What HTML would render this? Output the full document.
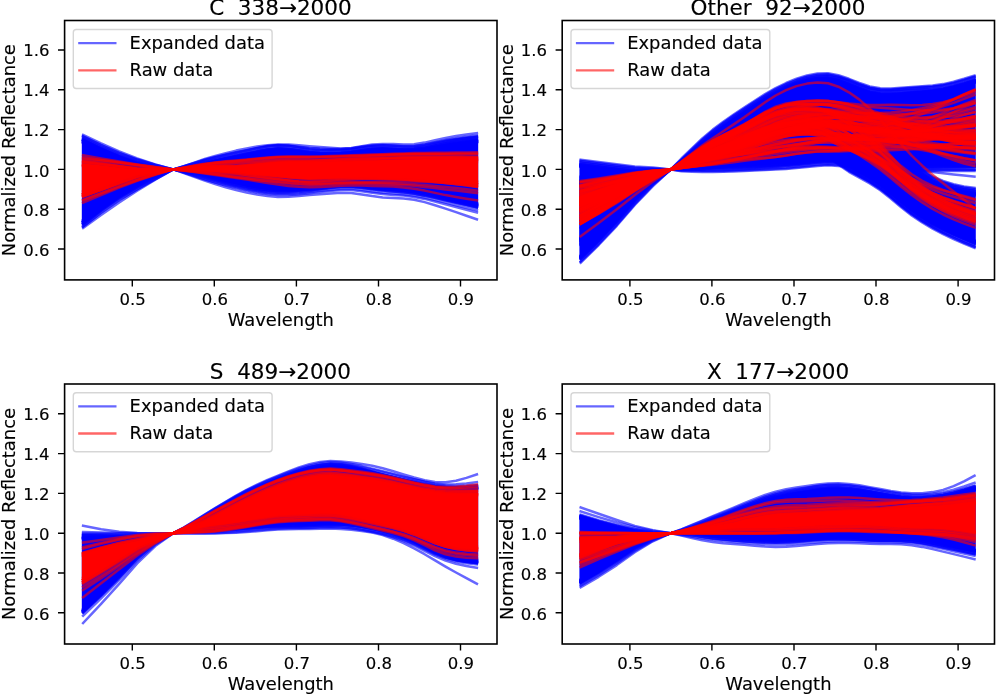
<!DOCTYPE html>
<html lang="en"><head><meta charset="utf-8"><title>Expanded vs raw data</title>
<style>html,body{margin:0;padding:0;background:#fff}svg{display:block}</style></head>
<body>
<svg width="996" height="694" viewBox="0 0 996 694" font-family="'DejaVu Sans', 'Liberation Sans', sans-serif" fill="#000" stroke="#000" stroke-width="0.15">
<defs><filter id="soft" x="0" y="0" width="100%" height="100%" filterUnits="userSpaceOnUse" color-interpolation-filters="sRGB"><feGaussianBlur stdDeviation="0.35"/></filter></defs>
<rect width="996" height="694" fill="#fff" stroke="none"/>
<g>
<g fill="none" stroke-width="2.5" stroke-linejoin="round" stroke-linecap="square" filter="url(#soft)">
<polygon points="81.8,140.0 101.1,148.9 119.2,156.8 137.2,163.1 155.3,168.2 173.3,169.4 183.8,168.0 194.3,166.5 204.7,163.4 215.2,160.7 225.7,158.3 236.1,156.2 246.6,154.0 257.1,151.7 267.5,149.8 278.0,148.7 288.5,149.2 298.9,150.7 309.4,152.2 319.9,152.8 330.4,152.9 340.8,152.8 351.3,151.9 361.8,150.5 372.2,149.1 382.7,148.7 393.2,149.3 403.6,149.9 414.1,149.7 424.6,148.3 435.0,146.2 445.5,144.1 456.0,142.4 466.4,141.1 478.2,140.0 478.2,206.0 466.4,203.5 456.0,201.0 445.5,198.6 435.0,196.1 424.6,193.8 414.1,191.9 403.6,190.6 393.2,189.7 382.7,188.7 372.2,187.5 361.8,186.0 351.3,185.0 340.8,185.1 330.4,186.2 319.9,187.4 309.4,188.7 298.9,189.7 288.5,190.4 278.0,190.4 267.5,189.5 257.1,188.0 246.6,186.0 236.1,183.8 225.7,181.3 215.2,178.6 204.7,175.6 194.3,172.3 183.8,170.8 173.3,169.4 155.3,175.7 137.2,185.5 119.2,196.1 101.1,208.8 81.8,222.9" fill="#00f" stroke="none"/>
<g stroke="#00f" stroke-opacity="0.6">
<path d="M83.1,225.4L101.1,210.8L119.2,198.1L137.2,187.7L155.3,178.1L173.3,169.4L183.8,166.8L194.3,164.0L204.7,160.8L215.2,157.9L225.7,155.3L236.1,152.9L246.6,150.7L257.1,148.4L267.5,146.4L278.0,145.4L288.5,145.9L298.9,147.5L309.4,149.2L319.9,150.0L330.4,150.3L340.8,150.4L351.3,149.8L361.8,148.5L372.2,147.3L382.7,147.0L393.2,147.6L403.6,148.1L414.1,147.9L424.6,146.3L435.0,144.0L445.5,141.7L456.0,139.8L466.4,138.2L476.9,136.9"/>
<path d="M83.1,223.7L101.1,209.4L119.2,196.8L137.2,186.6L155.3,177.1L173.3,169.4L183.8,167.3L194.3,165.1L204.7,162.2L215.2,159.5L225.7,157.2L236.1,155.1L246.6,152.8L257.1,150.4L267.5,148.3L278.0,147.1L288.5,147.5L298.9,148.8L309.4,150.1L319.9,150.6L330.4,150.5L340.8,150.2L351.3,149.3L361.8,147.7L372.2,146.3L382.7,145.8L393.2,146.3L403.6,146.8L414.1,146.7L424.6,145.2L435.0,143.1L445.5,141.0L456.0,139.4L466.4,138.2L476.9,137.1"/>
<path d="M83.1,224.0L101.1,210.2L119.2,197.7L137.2,187.1L155.3,177.0L173.3,169.4L183.8,167.4L194.3,165.2L204.7,162.0L215.2,159.3L225.7,157.0L236.1,155.0L246.6,153.0L257.1,150.9L267.5,149.2L278.0,148.3L288.5,149.0L298.9,150.6L309.4,152.1L319.9,152.8L330.4,152.9L340.8,152.7L351.3,151.8L361.8,150.3L372.2,148.8L382.7,148.2L393.2,148.6L403.6,149.0L414.1,148.6L424.6,147.0L435.0,144.7L445.5,142.4L456.0,140.6L466.4,139.2L476.9,138.0"/>
<path d="M83.1,224.3L101.1,210.1L119.2,197.2L137.2,186.5L155.3,176.5L173.3,169.4L183.8,167.7L194.3,165.9L204.7,162.8L215.2,160.1L225.7,157.9L236.1,155.9L246.6,153.8L257.1,151.6L267.5,149.7L278.0,148.7L288.5,149.2L298.9,150.7L309.4,152.2L319.9,152.8L330.4,152.8L340.8,152.7L351.3,151.8L361.8,150.3L372.2,148.8L382.7,148.4L393.2,148.8L403.6,149.4L414.1,149.1L424.6,147.6L435.0,145.4L445.5,143.2L456.0,141.5L466.4,140.1L476.9,138.8"/>
<path d="M83.1,223.5L101.1,209.8L119.2,197.2L137.2,186.4L155.3,176.2L173.3,169.4L183.8,167.9L194.3,166.3L204.7,163.4L215.2,160.8L225.7,158.7L236.1,156.7L246.6,154.4L257.1,152.0L267.5,149.7L278.0,148.4L288.5,148.6L298.9,149.8L309.4,151.1L319.9,151.6L330.4,151.6L340.8,151.5L351.3,150.8L361.8,149.6L372.2,148.5L382.7,148.4L393.2,149.2L403.6,150.1L414.1,150.1L424.6,148.8L435.0,146.7L445.5,144.6L456.0,142.8L466.4,141.3L476.9,139.9"/>
<path d="M83.1,222.8L101.1,208.9L119.2,196.5L137.2,185.9L155.3,175.9L173.3,169.4L183.8,168.0L194.3,166.4L204.7,163.3L215.2,160.6L225.7,158.4L236.1,156.4L246.6,154.4L257.1,152.2L267.5,150.3L278.0,149.4L288.5,149.9L298.9,151.3L309.4,152.7L319.9,153.3L330.4,153.2L340.8,152.9L351.3,152.0L361.8,150.3L372.2,148.8L382.7,148.3L393.2,148.8L403.6,149.3L414.1,149.1L424.6,147.7L435.0,145.6L445.5,143.6L456.0,142.1L466.4,140.9L476.9,139.9"/>
<path d="M83.1,223.7L101.1,209.4L119.2,196.4L137.2,185.6L155.3,175.5L173.3,169.4L183.8,168.1L194.3,166.9L204.7,163.9L215.2,161.3L225.7,159.2L236.1,157.2L246.6,155.2L257.1,152.9L267.5,150.9L278.0,149.9L288.5,150.3L298.9,151.7L309.4,153.1L319.9,153.7L330.4,153.6L340.8,153.3L351.3,152.3L361.8,150.7L372.2,149.2L382.7,148.6L393.2,149.0L403.6,149.5L414.1,149.2L424.6,147.7L435.0,145.5L445.5,143.3L456.0,141.6L466.4,140.3L476.9,139.2"/>
<path d="M83.1,221.9L101.1,207.8L119.2,195.3L137.2,185.0L155.3,175.2L173.3,169.4L183.8,168.2L194.3,166.9L204.7,163.7L215.2,160.8L225.7,158.4L236.1,156.2L246.6,154.1L257.1,151.9L267.5,150.0L278.0,149.1L288.5,149.7L298.9,151.3L309.4,152.9L319.9,153.6L330.4,153.8L340.8,153.7L351.3,153.0L361.8,151.5L372.2,150.2L382.7,149.8L393.2,150.2L403.6,150.8L414.1,150.6L424.6,149.0L435.0,146.8L445.5,144.6L456.0,142.8L466.4,141.4L476.9,140.1"/>
<path d="M83.1,221.2L101.1,206.8L119.2,194.4L137.2,184.3L155.3,174.8L173.3,169.4L183.8,168.4L194.3,167.2L204.7,163.9L215.2,160.9L225.7,158.3L236.1,155.8L246.6,153.5L257.1,151.1L267.5,149.1L278.0,148.1L288.5,148.7L298.9,150.3L309.4,152.0L319.9,152.9L330.4,153.2L340.8,153.3L351.3,152.8L361.8,151.6L372.2,150.5L382.7,150.3L393.2,151.0L403.6,151.8L414.1,151.7L424.6,150.3L435.0,148.1L445.5,145.9L456.0,144.1L466.4,142.5L476.9,141.1"/>
<path d="M83.1,221.3L101.1,207.2L119.2,194.9L137.2,184.6L155.3,174.8L173.3,169.4L183.8,168.4L194.3,167.3L204.7,164.1L215.2,161.4L225.7,159.2L236.1,157.2L246.6,155.2L257.1,153.1L267.5,151.3L278.0,150.3L288.5,150.8L298.9,152.2L309.4,153.5L319.9,154.0L330.4,153.9L340.8,153.5L351.3,152.5L361.8,150.9L372.2,149.5L382.7,149.1L393.2,149.7L403.6,150.4L414.1,150.5L424.6,149.2L435.0,147.3L445.5,145.4L456.0,143.9L466.4,142.7L476.9,141.6"/>
<path d="M83.1,221.7L101.1,207.7L119.2,195.2L137.2,184.7L155.3,174.7L173.3,169.4L183.8,168.5L194.3,167.5L204.7,164.3L215.2,161.5L225.7,159.1L236.1,157.0L246.6,154.9L257.1,152.8L267.5,150.9L278.0,150.0L288.5,150.6L298.9,152.2L309.4,153.7L319.9,154.5L330.4,154.6L340.8,154.5L351.3,153.7L361.8,152.2L372.2,150.8L382.7,150.3L393.2,150.8L403.6,151.3L414.1,151.1L424.6,149.5L435.0,147.3L445.5,145.1L456.0,143.3L466.4,141.9L476.9,140.6"/>
<path d="M83.1,221.4L101.1,206.9L119.2,194.1L137.2,183.6L155.3,174.0L173.3,169.4L183.8,168.8L194.3,168.3L204.7,165.2L215.2,162.5L225.7,160.1L236.1,157.9L246.6,155.5L257.1,153.0L267.5,150.8L278.0,149.6L288.5,149.9L298.9,151.3L309.4,152.6L319.9,153.2L330.4,153.2L340.8,153.1L351.3,152.3L361.8,150.9L372.2,149.7L382.7,149.4L393.2,150.1L403.6,151.0L414.1,151.0L424.6,149.8L435.0,147.9L445.5,146.0L456.0,144.5L466.4,143.3L476.9,142.3"/>
<path d="M83.1,222.7L101.1,208.6L119.2,195.6L137.2,184.5L155.3,174.3L173.3,169.4L183.8,168.8L194.3,168.3L204.7,165.3L215.2,162.9L225.7,160.9L236.1,159.0L246.6,156.9L257.1,154.6L267.5,152.6L278.0,151.4L288.5,151.7L298.9,152.9L309.4,154.1L319.9,154.4L330.4,154.2L340.8,153.7L351.3,152.7L361.8,151.0L372.2,149.4L382.7,148.9L393.2,149.4L403.6,150.1L414.1,150.0L424.6,148.7L435.0,146.8L445.5,145.0L456.0,143.6L466.4,142.6L476.9,141.7"/>
<path d="M83.1,221.4L101.1,207.4L119.2,194.8L137.2,184.0L155.3,174.0L173.3,169.4L183.8,168.9L194.3,168.4L204.7,165.3L215.2,162.7L225.7,160.4L236.1,158.2L246.6,156.0L257.1,153.6L267.5,151.5L278.0,150.3L288.5,150.7L298.9,152.1L309.4,153.5L319.9,154.1L330.4,154.2L340.8,154.1L351.3,153.5L361.8,152.1L372.2,150.9L382.7,150.6L393.2,151.3L403.6,152.0L414.1,151.9L424.6,150.5L435.0,148.3L445.5,146.1L456.0,144.3L466.4,142.9L476.9,141.6"/>
<path d="M83.1,220.3L101.1,206.1L119.2,193.6L137.2,183.2L155.3,173.6L173.3,169.4L183.8,169.0L194.3,168.6L204.7,165.5L215.2,162.8L225.7,160.5L236.1,158.3L246.6,156.0L257.1,153.7L267.5,151.6L278.0,150.5L288.5,150.9L298.9,152.3L309.4,153.7L319.9,154.3L330.4,154.3L340.8,154.1L351.3,153.2L361.8,151.7L372.2,150.3L382.7,149.9L393.2,150.5L403.6,151.1L414.1,151.0L424.6,149.6L435.0,147.5L445.5,145.5L456.0,143.9L466.4,142.6L476.9,141.5"/>
<path d="M83.1,219.9L101.1,205.5L119.2,193.0L137.2,182.8L155.3,173.4L173.3,169.4L183.8,169.0L194.3,168.6L204.7,165.3L215.2,162.4L225.7,159.8L236.1,157.3L246.6,155.0L257.1,152.6L267.5,150.6L278.0,149.6L288.5,150.2L298.9,151.9L309.4,153.6L319.9,154.4L330.4,154.8L340.8,154.9L351.3,154.4L361.8,153.1L372.2,152.0L382.7,151.8L393.2,152.5L403.6,153.2L414.1,153.1L424.6,151.6L435.0,149.4L445.5,147.1L456.0,145.2L466.4,143.7L476.9,142.3"/>
<path d="M83.1,137.4L101.1,146.3L119.2,154.1L137.2,160.5L155.3,165.9L173.3,169.4L183.8,171.9L194.3,174.7L204.7,178.1L215.2,181.1L225.7,183.9L236.1,186.4L246.6,188.6L257.1,190.5L267.5,192.0L278.0,192.8L288.5,192.8L298.9,192.0L309.4,190.9L319.9,189.6L330.4,188.2L340.8,187.1L351.3,187.0L361.8,187.9L372.2,189.3L382.7,190.5L393.2,191.4L403.6,192.3L414.1,193.6L424.6,195.4L435.0,197.7L445.5,200.2L456.0,202.7L466.4,205.1L476.9,207.6"/>
<path d="M83.1,138.9L101.1,147.9L119.2,155.6L137.2,161.6L155.3,166.7L173.3,169.4L183.8,171.5L194.3,174.0L204.7,177.3L215.2,180.3L225.7,183.0L236.1,185.5L246.6,187.6L257.1,189.4L267.5,190.8L278.0,191.6L288.5,191.5L298.9,190.8L309.4,189.7L319.9,188.6L330.4,187.4L340.8,186.4L351.3,186.5L361.8,187.6L372.2,189.2L382.7,190.6L393.2,191.6L403.6,192.5L414.1,193.8L424.6,195.7L435.0,197.9L445.5,200.3L456.0,202.6L466.4,204.9L476.9,207.3"/>
<path d="M83.1,138.3L101.1,147.3L119.2,155.2L137.2,161.6L155.3,166.9L173.3,169.4L183.8,171.4L194.3,173.5L204.7,176.7L215.2,179.7L225.7,182.3L236.1,184.7L246.6,186.9L257.1,188.8L267.5,190.3L278.0,191.2L288.5,191.2L298.9,190.6L309.4,189.6L319.9,188.4L330.4,187.2L340.8,186.2L351.3,186.2L361.8,187.2L372.2,188.8L382.7,190.1L393.2,191.1L403.6,192.1L414.1,193.4L424.6,195.4L435.0,197.8L445.5,200.2L456.0,202.7L466.4,205.2L476.9,207.7"/>
<path d="M83.1,140.4L101.1,149.2L119.2,156.6L137.2,162.6L155.3,167.5L173.3,169.4L183.8,171.2L194.3,173.3L204.7,176.7L215.2,179.9L225.7,182.8L236.1,185.6L246.6,187.9L257.1,189.9L267.5,191.5L278.0,192.4L288.5,192.3L298.9,191.6L309.4,190.4L319.9,189.0L330.4,187.6L340.8,186.3L351.3,186.1L361.8,186.9L372.2,188.1L382.7,189.2L393.2,189.9L403.6,190.7L414.1,191.8L424.6,193.6L435.0,195.8L445.5,198.2L456.0,200.6L466.4,203.0L476.9,205.5"/>
<path d="M83.1,140.7L101.1,149.0L119.2,156.1L137.2,162.1L155.3,167.4L173.3,169.4L183.8,171.1L194.3,172.9L204.7,176.0L215.2,178.7L225.7,181.1L236.1,183.1L246.6,185.1L257.1,187.0L267.5,188.7L278.0,189.9L288.5,190.3L298.9,190.1L309.4,189.5L319.9,188.7L330.4,187.8L340.8,186.9L351.3,186.8L361.8,187.7L372.2,188.8L382.7,189.7L393.2,190.1L403.6,190.6L414.1,191.4L424.6,193.0L435.0,195.2L445.5,197.7L456.0,200.3L466.4,203.1L476.9,206.0"/>
<path d="M83.1,140.1L101.1,149.3L119.2,157.3L137.2,163.4L155.3,168.3L173.3,169.4L183.8,170.8L194.3,172.5L204.7,175.9L215.2,179.0L225.7,181.9L236.1,184.5L246.6,186.8L257.1,188.7L267.5,190.1L278.0,190.8L288.5,190.6L298.9,189.7L309.4,188.4L319.9,187.0L330.4,185.6L340.8,184.5L351.3,184.4L361.8,185.5L372.2,187.0L382.7,188.4L393.2,189.5L403.6,190.7L414.1,192.2L424.6,194.3L435.0,196.8L445.5,199.3L456.0,201.9L466.4,204.3L476.9,206.7"/>
<path d="M83.1,139.4L101.1,148.6L119.2,156.7L137.2,163.1L155.3,168.4L173.3,169.4L183.8,170.7L194.3,172.0L204.7,175.1L215.2,178.0L225.7,180.5L236.1,182.9L246.6,185.0L257.1,187.0L267.5,188.6L278.0,189.6L288.5,189.7L298.9,189.1L309.4,188.1L319.9,187.0L330.4,185.9L340.8,184.9L351.3,185.0L361.8,186.1L372.2,187.7L382.7,189.1L393.2,190.1L403.6,191.1L414.1,192.5L424.6,194.4L435.0,196.8L445.5,199.2L456.0,201.7L466.4,204.1L476.9,206.6"/>
<path d="M83.1,139.6L101.1,148.5L119.2,156.7L137.2,163.3L155.3,168.8L173.3,169.4L183.8,170.5L194.3,171.6L204.7,174.6L215.2,177.5L225.7,180.0L236.1,182.5L246.6,184.8L257.1,187.0L267.5,188.8L278.0,190.0L288.5,190.2L298.9,189.8L309.4,188.9L319.9,187.8L330.4,186.6L340.8,185.5L351.3,185.4L361.8,186.2L372.2,187.5L382.7,188.5L393.2,189.2L403.6,189.8L414.1,190.9L424.6,192.6L435.0,194.8L445.5,197.1L456.0,199.6L466.4,202.1L476.9,204.7"/>
<path d="M83.1,139.8L101.1,148.6L119.2,156.5L137.2,163.1L155.3,168.7L173.3,169.4L183.8,170.5L194.3,171.9L204.7,175.2L215.2,178.3L225.7,181.0L236.1,183.4L246.6,185.4L257.1,187.2L267.5,188.6L278.0,189.3L288.5,189.1L298.9,188.3L309.4,187.1L319.9,185.7L330.4,184.3L340.8,183.2L351.3,183.0L361.8,184.0L372.2,185.4L382.7,186.7L393.2,187.6L403.6,188.6L414.1,190.0L424.6,192.0L435.0,194.4L445.5,197.0L456.0,199.7L466.4,202.3L476.9,205.0"/>
<path d="M83.1,140.3L101.1,149.7L119.2,158.0L137.2,164.3L155.3,169.4L173.3,169.4L183.8,170.3L194.3,171.3L204.7,174.6L215.2,177.7L225.7,180.7L236.1,183.4L246.6,185.8L257.1,187.9L267.5,189.5L278.0,190.3L288.5,190.2L298.9,189.3L309.4,188.0L319.9,186.5L330.4,184.9L340.8,183.7L351.3,183.4L361.8,184.3L372.2,185.7L382.7,187.0L393.2,188.1L403.6,189.2L414.1,190.8L424.6,192.9L435.0,195.5L445.5,198.2L456.0,200.8L466.4,203.4L476.9,205.9"/>
<path d="M83.1,141.6L101.1,150.6L119.2,158.4L137.2,164.5L155.3,169.5L173.3,169.4L183.8,170.2L194.3,171.1L204.7,174.4L215.2,177.5L225.7,180.3L236.1,182.9L246.6,185.2L257.1,187.2L267.5,188.8L278.0,189.7L288.5,189.7L298.9,189.0L309.4,187.9L319.9,186.6L330.4,185.2L340.8,184.1L351.3,183.9L361.8,184.9L372.2,186.2L382.7,187.4L393.2,188.2L403.6,189.1L414.1,190.3L424.6,192.2L435.0,194.5L445.5,196.9L456.0,199.4L466.4,201.9L476.9,204.4"/>
<path d="M83.1,141.8L101.1,150.7L119.2,158.4L137.2,164.5L155.3,169.7L173.3,169.4L183.8,170.1L194.3,171.0L204.7,174.4L215.2,177.5L225.7,180.3L236.1,182.9L246.6,185.1L257.1,187.1L267.5,188.6L278.0,189.4L288.5,189.4L298.9,188.6L309.4,187.5L319.9,186.2L330.4,184.8L340.8,183.6L351.3,183.5L361.8,184.4L372.2,185.8L382.7,186.9L393.2,187.8L403.6,188.7L414.1,189.9L424.6,191.8L435.0,194.1L445.5,196.6L456.0,199.1L466.4,201.6L476.9,204.1"/>
<path d="M83.1,142.6L101.1,151.7L119.2,159.3L137.2,165.1L155.3,169.9L173.3,169.4L183.8,170.1L194.3,171.1L204.7,174.6L215.2,177.8L225.7,180.8L236.1,183.4L246.6,185.6L257.1,187.3L267.5,188.6L278.0,189.2L288.5,188.9L298.9,187.8L309.4,186.5L319.9,185.0L330.4,183.5L340.8,182.3L351.3,182.2L361.8,183.3L372.2,184.9L382.7,186.4L393.2,187.6L403.6,188.9L414.1,190.5L424.6,192.8L435.0,195.4L445.5,198.1L456.0,200.7L466.4,203.2L476.9,205.7"/>
<path d="M83.1,142.2L101.1,151.2L119.2,158.9L137.2,164.9L155.3,170.0L173.3,169.4L183.8,169.9L194.3,170.7L204.7,174.0L215.2,177.1L225.7,179.9L236.1,182.4L246.6,184.5L257.1,186.4L267.5,187.8L278.0,188.6L288.5,188.5L298.9,187.7L309.4,186.5L319.9,185.2L330.4,183.9L340.8,182.8L351.3,182.8L361.8,183.9L372.2,185.4L382.7,186.8L393.2,187.8L403.6,188.9L414.1,190.3L424.6,192.3L435.0,194.7L445.5,197.2L456.0,199.8L466.4,202.2L476.9,204.7"/>
<path d="M83.1,141.5L101.1,150.3L119.2,158.3L137.2,164.7L155.3,170.1L173.3,169.4L183.8,169.9L194.3,170.3L204.7,173.5L215.2,176.4L225.7,179.0L236.1,181.4L246.6,183.5L257.1,185.5L267.5,187.2L278.0,188.1L288.5,188.2L298.9,187.7L309.4,186.7L319.9,185.6L330.4,184.5L340.8,183.5L351.3,183.6L361.8,184.6L372.2,186.1L382.7,187.4L393.2,188.2L403.6,189.1L414.1,190.3L424.6,192.1L435.0,194.3L445.5,196.6L456.0,199.0L466.4,201.3L476.9,203.7"/>
<path d="M83.1,142.9L101.1,152.0L119.2,159.8L137.2,165.7L155.3,170.6L173.3,169.4L183.8,169.7L194.3,170.1L204.7,173.4L215.2,176.5L225.7,179.4L236.1,182.1L246.6,184.5L257.1,186.7L267.5,188.3L278.0,189.3L288.5,189.3L298.9,188.7L309.4,187.5L319.9,186.2L330.4,184.8L340.8,183.6L351.3,183.4L361.8,184.2L372.2,185.5L382.7,186.5L393.2,187.2L403.6,188.0L414.1,189.1L424.6,190.9L435.0,193.1L445.5,195.5L456.0,197.9L466.4,200.4L476.9,202.9"/>
<path d="M83.1,136.5L101.1,145.4L119.2,153.3L137.2,159.6L155.3,164.9L173.3,169.4L183.8,166.4L194.3,163.1L204.7,160.0L215.2,157.2L225.7,154.9L236.1,152.7L246.6,150.5L257.1,148.3L267.5,146.3L278.0,145.3L288.5,145.8L298.9,147.2L309.4,148.6L319.9,149.3L330.4,149.4L340.8,149.3L351.3,148.6L361.8,147.1L372.2,145.7L382.7,145.3L393.2,145.8L403.6,146.4L414.1,146.3L424.6,144.8L435.0,142.7L445.5,140.6L456.0,138.9L466.4,137.5L476.9,136.4"/>
<path d="M83.1,136.2L101.1,144.9L119.2,152.7L137.2,159.3L155.3,164.7L173.3,169.4L183.8,166.3L194.3,163.0L204.7,159.8L215.2,156.9L225.7,154.5L236.1,152.3L246.6,150.2L257.1,148.0L267.5,146.1L278.0,145.1L288.5,145.5L298.9,146.7L309.4,147.9L319.9,148.6L330.4,148.9L340.8,149.0L351.3,148.4L361.8,146.8L372.2,145.4L382.7,144.9L393.2,145.4L403.6,146.0L414.1,145.9L424.6,144.4L435.0,142.2L445.5,140.0L456.0,138.3L466.4,136.8L476.9,135.5"/>
<path d="M83.1,134.8L101.1,143.4L119.2,151.3L137.2,158.4L155.3,164.4L173.3,169.4L183.8,166.1L194.3,162.6L204.7,159.0L215.2,155.9L225.7,153.1L236.1,150.6L246.6,148.5L257.1,146.6L267.5,145.2L278.0,144.4L288.5,144.6L298.9,145.3L309.4,146.3L319.9,147.1L330.4,147.8L340.8,148.4L351.3,147.9L361.8,146.3L372.2,144.6L382.7,143.9L393.2,144.1L403.6,144.5L414.1,144.2L424.6,142.6L435.0,140.2L445.5,137.9L456.0,136.1L466.4,134.6L476.9,133.2"/>
<path d="M83.1,226.4L101.1,212.4L119.2,199.7L137.2,189.1L155.3,179.1L173.3,169.4L183.8,172.5L194.3,175.8L204.7,179.1L215.2,182.2L225.7,184.9L236.1,187.4L246.6,189.7L257.1,191.6L267.5,193.2L278.0,194.1L288.5,194.0L298.9,193.4L309.4,192.3L319.9,191.1L330.4,189.9L340.8,188.9L351.3,188.8L361.8,189.9L372.2,191.4L382.7,192.7L393.2,193.6L403.6,194.5L414.1,195.8L424.6,197.7L435.0,200.1L445.5,202.6L456.0,205.2L466.4,207.8L476.9,210.3"/>
<path d="M83.1,226.7L101.1,212.8L119.2,200.3L137.2,189.4L155.3,179.2L173.3,169.4L183.8,172.6L194.3,176.0L204.7,179.5L215.2,182.6L225.7,185.5L236.1,188.1L246.6,190.4L257.1,192.5L267.5,194.0L278.0,194.9L288.5,194.9L298.9,194.2L309.4,193.2L319.9,192.1L330.4,191.0L340.8,190.1L351.3,190.1L361.8,191.3L372.2,192.8L382.7,194.1L393.2,194.9L403.6,195.6L414.1,196.9L424.6,198.9L435.0,201.5L445.5,204.2L456.0,207.0L466.4,209.8L476.9,212.5"/>
<path d="M83.1,227.9L101.1,215.0L119.2,202.5L137.2,190.8L155.3,179.7L173.3,169.4L183.8,173.0L194.3,176.8L204.7,180.6L215.2,184.1L225.7,187.3L236.1,190.1L246.6,192.5L257.1,194.6L267.5,196.1L278.0,197.0L288.5,196.8L298.9,196.1L309.4,195.1L319.9,194.3L330.4,193.5L340.8,192.7L351.3,192.9L361.8,194.4L372.2,196.1L382.7,197.4L393.2,198.0L403.6,198.6L414.1,199.8L424.6,202.1L435.0,205.2L445.5,208.6L456.0,212.1L466.4,215.7L476.9,219.3"/>
</g>
<polygon points="81.8,163.6 101.1,165.3 119.2,167.4 137.2,169.6 155.3,169.5 173.3,169.4 183.8,168.6 194.3,167.7 204.7,167.0 215.2,166.5 225.7,166.2 236.1,166.1 246.6,165.2 257.1,164.2 267.5,163.2 278.0,162.5 288.5,162.2 298.9,162.3 309.4,162.4 319.9,162.3 330.4,162.0 340.8,161.6 351.3,161.2 361.8,160.8 372.2,160.4 382.7,160.0 393.2,159.7 403.6,159.3 414.1,159.2 424.6,159.1 435.0,159.2 445.5,159.2 456.0,159.2 466.4,159.2 478.2,159.2 478.2,184.6 466.4,183.4 456.0,182.3 445.5,181.3 435.0,180.5 424.6,179.7 414.1,179.1 403.6,178.6 393.2,178.2 382.7,177.9 372.2,177.7 361.8,177.6 351.3,177.7 340.8,177.9 330.4,178.3 319.9,178.8 309.4,179.0 298.9,178.5 288.5,177.6 278.0,176.6 267.5,175.6 257.1,174.5 246.6,173.4 236.1,172.0 225.7,171.2 215.2,170.6 204.7,170.1 194.3,169.8 183.8,169.5 173.3,169.4 155.3,172.0 137.2,175.1 119.2,181.2 101.1,187.8 81.8,194.5" fill="#f00" stroke="none"/>
<g stroke="#f00" stroke-opacity="0.6">
<path d="M83.1,196.1L101.1,189.7L119.2,183.8L137.2,178.2L155.3,173.5L173.3,169.4L183.8,168.0L194.3,166.4L204.7,164.9L215.2,163.8L225.7,163.1L236.1,162.7L246.6,162.3L257.1,161.7L267.5,161.1L278.0,160.6L288.5,160.6L298.9,160.7L309.4,160.7L319.9,160.3L330.4,159.7L340.8,158.9L351.3,158.0L361.8,157.2L372.2,156.4L382.7,155.7L393.2,155.1L403.6,154.7L414.1,154.6L424.6,154.8L435.0,155.1L445.5,155.5L456.0,156.0L466.4,156.4L476.9,156.8"/>
<path d="M83.1,196.0L101.1,189.5L119.2,183.1L137.2,177.0L155.3,172.9L173.3,169.4L183.8,168.2L194.3,166.9L204.7,165.7L215.2,164.7L225.7,164.0L236.1,163.3L246.6,162.4L257.1,161.4L267.5,160.3L278.0,159.7L288.5,159.5L298.9,159.6L309.4,159.7L319.9,159.7L330.4,159.5L340.8,159.2L351.3,158.9L361.8,158.6L372.2,158.4L382.7,158.1L393.2,157.8L403.6,157.6L414.1,157.6L424.6,157.6L435.0,157.7L445.5,157.8L456.0,157.9L466.4,158.0L476.9,158.0"/>
<path d="M83.1,196.4L101.1,190.0L119.2,183.3L137.2,176.8L155.3,172.7L173.3,169.4L183.8,168.3L194.3,167.2L204.7,166.3L215.2,165.8L225.7,165.6L236.1,165.5L246.6,164.7L257.1,163.6L267.5,162.5L278.0,161.7L288.5,161.3L298.9,161.1L309.4,161.0L319.9,160.6L330.4,160.1L340.8,159.5L351.3,159.0L361.8,158.6L372.2,158.2L382.7,157.8L393.2,157.5L403.6,157.4L414.1,157.4L424.6,157.5L435.0,157.8L445.5,158.1L456.0,158.3L466.4,158.5L476.9,158.6"/>
<path d="M83.1,196.6L101.1,189.9L119.2,182.9L137.2,176.3L155.3,172.4L173.3,169.4L183.8,168.4L194.3,167.5L204.7,166.7L215.2,166.3L225.7,166.3L236.1,166.4L246.6,165.6L257.1,164.6L267.5,163.6L278.0,162.8L288.5,162.5L298.9,162.3L309.4,162.2L319.9,161.9L330.4,161.3L340.8,160.7L351.3,160.1L361.8,159.5L372.2,158.9L382.7,158.3L393.2,157.7L403.6,157.3L414.1,157.1L424.6,157.0L435.0,157.1L445.5,157.2L456.0,157.3L466.4,157.5L476.9,157.6"/>
<path d="M83.1,195.3L101.1,189.0L119.2,182.5L137.2,176.1L155.3,172.3L173.3,169.4L183.8,168.5L194.3,167.5L204.7,166.7L215.2,166.2L225.7,166.1L236.1,166.2L246.6,165.7L257.1,164.9L267.5,164.1L278.0,163.6L288.5,163.4L298.9,163.5L309.4,163.6L319.9,163.4L330.4,162.9L340.8,162.3L351.3,161.7L361.8,161.0L372.2,160.3L382.7,159.6L393.2,158.9L403.6,158.3L414.1,157.9L424.6,157.7L435.0,157.5L445.5,157.5L456.0,157.5L466.4,157.5L476.9,157.6"/>
<path d="M83.1,194.3L101.1,187.3L119.2,180.4L137.2,174.4L155.3,171.7L173.3,169.4L183.8,168.6L194.3,168.0L204.7,167.4L215.2,167.2L225.7,167.2L236.1,167.2L246.6,166.2L257.1,165.1L267.5,163.9L278.0,162.9L288.5,162.5L298.9,162.4L309.4,162.3L319.9,162.0L330.4,161.5L340.8,161.0L351.3,160.5L361.8,160.1L372.2,159.6L382.7,159.2L393.2,158.9L403.6,158.6L414.1,158.5L424.6,158.6L435.0,158.7L445.5,158.9L456.0,159.1L466.4,159.3L476.9,159.5"/>
<path d="M83.1,193.7L101.1,186.6L119.2,179.9L137.2,174.0L155.3,171.6L173.3,169.4L183.8,168.7L194.3,168.0L204.7,167.3L215.2,166.9L225.7,166.5L236.1,166.2L246.6,165.1L257.1,164.0L267.5,162.9L278.0,162.2L288.5,162.0L298.9,162.2L309.4,162.4L319.9,162.5L330.4,162.3L340.8,162.2L351.3,162.0L361.8,161.9L372.2,161.7L382.7,161.4L393.2,161.2L403.6,160.9L414.1,160.7L424.6,160.6L435.0,160.5L445.5,160.4L456.0,160.3L466.4,160.0L476.9,159.8"/>
<path d="M83.1,194.6L101.1,188.2L119.2,181.3L137.2,174.6L155.3,171.6L173.3,169.4L183.8,168.8L194.3,168.2L204.7,167.9L215.2,167.9L225.7,168.1L236.1,168.3L246.6,167.1L257.1,165.7L267.5,164.2L278.0,163.0L288.5,162.4L298.9,162.1L309.4,162.0L319.9,161.9L330.4,161.6L340.8,161.4L351.3,161.4L361.8,161.4L372.2,161.5L382.7,161.6L393.2,161.6L403.6,161.6L414.1,161.7L424.6,161.7L435.0,161.7L445.5,161.5L456.0,161.2L466.4,160.8L476.9,160.4"/>
<path d="M83.1,194.0L101.1,187.5L119.2,180.7L137.2,174.3L155.3,171.4L173.3,169.4L183.8,168.8L194.3,168.2L204.7,167.8L215.2,167.7L225.7,167.9L236.1,168.3L246.6,167.7L257.1,166.8L267.5,166.0L278.0,165.4L288.5,165.3L298.9,165.4L309.4,165.5L319.9,165.3L330.4,164.9L340.8,164.4L351.3,163.8L361.8,163.2L372.2,162.6L382.7,162.0L393.2,161.4L403.6,160.8L414.1,160.4L424.6,160.1L435.0,159.9L445.5,159.8L456.0,159.6L466.4,159.5L476.9,159.4"/>
<path d="M83.1,191.5L101.1,184.5L119.2,178.1L137.2,172.6L155.3,171.0L173.3,169.4L183.8,168.9L194.3,168.4L204.7,167.9L215.2,167.6L225.7,167.3L236.1,167.0L246.6,165.9L257.1,164.8L267.5,163.7L278.0,162.9L288.5,162.7L298.9,162.9L309.4,163.1L319.9,163.2L330.4,163.1L340.8,163.0L351.3,162.9L361.8,162.8L372.2,162.7L382.7,162.6L393.2,162.5L403.6,162.4L414.1,162.3L424.6,162.4L435.0,162.5L445.5,162.5L456.0,162.5L466.4,162.3L476.9,162.1"/>
<path d="M83.1,160.1L101.1,161.3L119.2,163.3L137.2,166.1L155.3,168.0L173.3,169.4L183.8,170.1L194.3,170.8L204.7,171.5L215.2,172.2L225.7,172.9L236.1,173.7L246.6,175.1L257.1,176.4L267.5,177.8L278.0,179.2L288.5,180.6L298.9,181.8L309.4,182.7L319.9,182.9L330.4,182.6L340.8,182.3L351.3,182.0L361.8,181.9L372.2,181.7L382.7,181.5L393.2,181.5L403.6,181.5L414.1,181.6L424.6,181.9L435.0,182.3L445.5,183.0L456.0,183.9L466.4,185.1L476.9,186.5"/>
<path d="M83.1,162.0L101.1,164.1L119.2,166.2L137.2,168.2L155.3,168.7L173.3,169.4L183.8,169.9L194.3,170.5L204.7,171.2L215.2,172.2L225.7,173.4L236.1,174.8L246.6,176.4L257.1,177.6L267.5,178.7L278.0,179.6L288.5,180.5L298.9,181.2L309.4,181.5L319.9,181.1L330.4,180.3L340.8,179.6L351.3,179.2L361.8,178.9L372.2,178.8L382.7,178.9L393.2,179.2L403.6,179.6L414.1,180.2L424.6,181.0L435.0,181.9L445.5,183.0L456.0,184.2L466.4,185.6L476.9,187.0"/>
<path d="M83.1,160.8L101.1,162.9L119.2,165.7L137.2,168.5L155.3,169.0L173.3,169.4L183.8,169.7L194.3,170.1L204.7,170.5L215.2,171.1L225.7,171.9L236.1,173.1L246.6,174.9L257.1,176.5L267.5,178.0L278.0,179.3L288.5,180.4L298.9,181.4L309.4,181.8L319.9,181.5L330.4,180.7L340.8,179.9L351.3,179.3L361.8,178.8L372.2,178.4L382.7,178.2L393.2,178.3L403.6,178.5L414.1,179.0L424.6,179.7L435.0,180.6L445.5,181.7L456.0,183.1L466.4,184.6L476.9,186.2"/>
<path d="M83.1,161.7L101.1,163.7L119.2,166.2L137.2,168.8L155.3,169.2L173.3,169.4L183.8,169.7L194.3,169.9L204.7,170.2L215.2,170.5L225.7,171.0L236.1,171.4L246.6,172.6L257.1,173.7L267.5,174.8L278.0,175.8L288.5,176.8L298.9,177.7L309.4,178.3L319.9,178.2L330.4,177.9L340.8,177.6L351.3,177.5L361.8,177.7L372.2,177.9L382.7,178.3L393.2,178.8L403.6,179.4L414.1,180.2L424.6,181.0L435.0,181.9L445.5,182.9L456.0,184.1L466.4,185.3L476.9,186.6"/>
<path d="M83.1,163.5L101.1,165.0L119.2,166.8L137.2,169.1L155.3,169.3L173.3,169.4L183.8,169.6L194.3,169.9L204.7,170.3L215.2,170.7L225.7,171.3L236.1,172.0L246.6,173.2L257.1,174.3L267.5,175.3L278.0,176.2L288.5,177.2L298.9,178.2L309.4,178.7L319.9,178.7L330.4,178.4L340.8,178.2L351.3,178.1L361.8,178.2L372.2,178.4L382.7,178.7L393.2,179.1L403.6,179.5L414.1,180.0L424.6,180.5L435.0,181.1L445.5,181.9L456.0,182.7L466.4,183.6L476.9,184.6"/>
<path d="M83.1,162.8L101.1,164.3L119.2,166.4L137.2,169.0L155.3,169.4L173.3,169.4L183.8,169.5L194.3,169.8L204.7,170.2L215.2,170.8L225.7,171.5L236.1,172.3L246.6,173.5L257.1,174.5L267.5,175.3L278.0,176.1L288.5,176.9L298.9,177.6L309.4,177.9L319.9,177.6L330.4,176.9L340.8,176.4L351.3,176.0L361.8,175.9L372.2,175.9L382.7,176.1L393.2,176.4L403.6,176.8L414.1,177.4L424.6,178.1L435.0,178.9L445.5,179.9L456.0,181.1L466.4,182.3L476.9,183.7"/>
<path d="M83.1,165.2L101.1,167.2L119.2,169.1L137.2,170.8L155.3,169.9L173.3,169.4L183.8,169.4L194.3,169.5L204.7,169.8L215.2,170.4L225.7,171.2L236.1,172.3L246.6,173.8L257.1,175.0L267.5,176.0L278.0,176.9L288.5,177.8L298.9,178.5L309.4,178.7L319.9,178.3L330.4,177.5L340.8,176.9L351.3,176.4L361.8,176.1L372.2,176.0L382.7,176.1L393.2,176.3L403.6,176.8L414.1,177.3L424.6,178.1L435.0,179.0L445.5,180.0L456.0,181.3L466.4,182.7L476.9,184.1"/>
<path d="M83.1,164.9L101.1,167.0L119.2,169.2L137.2,171.3L155.3,170.2L173.3,169.4L183.8,169.3L194.3,169.2L204.7,169.0L215.2,169.1L225.7,169.2L236.1,169.6L246.6,171.1L257.1,172.4L267.5,173.7L278.0,174.9L288.5,176.1L298.9,177.2L309.4,177.9L319.9,178.0L330.4,177.8L340.8,177.6L351.3,177.5L361.8,177.6L372.2,177.8L382.7,178.1L393.2,178.5L403.6,179.0L414.1,179.6L424.6,180.1L435.0,180.8L445.5,181.6L456.0,182.5L466.4,183.4L476.9,184.4"/>
<path d="M83.1,165.3L101.1,167.6L119.2,169.7L137.2,171.5L155.3,170.2L173.3,169.4L183.8,169.3L194.3,169.3L204.7,169.6L215.2,170.0L225.7,170.6L236.1,171.2L246.6,172.3L257.1,173.1L267.5,173.8L278.0,174.5L288.5,175.2L298.9,176.0L309.4,176.5L319.9,176.5L330.4,176.3L340.8,176.2L351.3,176.4L361.8,176.7L372.2,177.0L382.7,177.4L393.2,177.8L403.6,178.2L414.1,178.5L424.6,178.8L435.0,179.2L445.5,179.6L456.0,180.3L466.4,181.1L476.9,182.1"/>
<path d="M83.1,166.2L101.1,167.7L119.2,169.4L137.2,171.4L155.3,170.3L173.3,169.4L183.8,169.2L194.3,169.1L204.7,169.2L215.2,169.6L225.7,170.2L236.1,171.1L246.6,172.5L257.1,173.7L267.5,174.7L278.0,175.7L288.5,176.6L298.9,177.4L309.4,177.8L319.9,177.5L330.4,176.9L340.8,176.4L351.3,176.0L361.8,175.8L372.2,175.7L382.7,175.7L393.2,175.9L403.6,176.2L414.1,176.5L424.6,177.0L435.0,177.6L445.5,178.3L456.0,179.3L466.4,180.3L476.9,181.4"/>
<path d="M83.1,158.5L101.1,160.3L119.2,162.4L137.2,164.9L155.3,167.3L173.3,169.4L183.8,167.7L194.3,165.9L204.7,164.3L215.2,163.0L225.7,162.0L236.1,161.2L246.6,160.3L257.1,159.3L267.5,158.3L278.0,157.5L288.5,157.3L298.9,157.4L309.4,157.5L319.9,157.3L330.4,157.0L340.8,156.6L351.3,156.2L361.8,155.9L372.2,155.5L382.7,155.1L393.2,154.7L403.6,154.4L414.1,154.2L424.6,154.2L435.0,154.2L445.5,154.3L456.0,154.3L466.4,154.3L476.9,154.3"/>
<path d="M83.1,157.4L101.1,159.9L119.2,162.3L137.2,164.8L155.3,167.2L173.3,169.4L183.8,167.7L194.3,165.9L204.7,164.2L215.2,162.8L225.7,161.8L236.1,160.9L246.6,160.0L257.1,159.0L267.5,158.0L278.0,157.3L288.5,157.0L298.9,157.1L309.4,157.2L319.9,157.1L330.4,156.8L340.8,156.4L351.3,156.1L361.8,155.7L372.2,155.3L382.7,154.9L393.2,154.5L403.6,154.2L414.1,153.9L424.6,153.8L435.0,153.7L445.5,153.7L456.0,153.6L466.4,153.5L476.9,153.5"/>
<path d="M83.1,155.3L101.1,158.6L119.2,161.6L137.2,164.4L155.3,167.0L173.3,169.4L183.8,167.6L194.3,165.6L204.7,163.8L215.2,162.4L225.7,161.3L236.1,160.4L246.6,159.6L257.1,158.5L267.5,157.5L278.0,156.8L288.5,156.5L298.9,156.5L309.4,156.5L319.9,156.4L330.4,156.1L340.8,155.7L351.3,155.3L361.8,154.9L372.2,154.6L382.7,154.2L393.2,153.7L403.6,153.4L414.1,153.1L424.6,152.9L435.0,152.8L445.5,152.7L456.0,152.6L466.4,152.5L476.9,152.3"/>
<path d="M83.1,199.7L101.1,192.9L119.2,186.2L137.2,179.9L155.3,174.2L173.3,169.4L183.8,170.4L194.3,171.5L204.7,172.8L215.2,174.1L225.7,175.5L236.1,176.9L246.6,178.3L257.1,179.6L267.5,180.7L278.0,181.8L288.5,182.8L298.9,183.7L309.4,184.2L319.9,184.0L330.4,183.5L340.8,183.0L351.3,182.8L361.8,182.7L372.2,182.8L382.7,182.9L393.2,183.3L403.6,183.7L414.1,184.3L424.6,185.0L435.0,185.9L445.5,186.9L456.0,188.0L466.4,189.2L476.9,190.5"/>
<path d="M83.1,200.5L101.1,193.5L119.2,186.7L137.2,180.2L155.3,174.3L173.3,169.4L183.8,170.5L194.3,171.7L204.7,173.0L215.2,174.3L225.7,175.7L236.1,177.2L246.6,178.6L257.1,179.9L267.5,181.1L278.0,182.3L288.5,183.4L298.9,184.3L309.4,184.8L319.9,184.7L330.4,184.2L340.8,183.7L351.3,183.6L361.8,183.6L372.2,183.8L382.7,184.0L393.2,184.4L403.6,185.0L414.1,185.8L424.6,186.9L435.0,188.1L445.5,189.4L456.0,190.6L466.4,191.8L476.9,193.0"/>
<path d="M83.1,202.6L101.1,195.0L119.2,187.7L137.2,180.9L155.3,174.7L173.3,169.4L183.8,170.7L194.3,172.1L204.7,173.6L215.2,175.0L225.7,176.5L236.1,178.0L246.6,179.6L257.1,181.3L267.5,183.0L278.0,184.6L288.5,185.9L298.9,186.8L309.4,187.3L319.9,187.0L330.4,186.4L340.8,185.8L351.3,185.6L361.8,185.6L372.2,185.9L382.7,186.2L393.2,186.6L403.6,187.4L414.1,188.7L424.6,190.6L435.0,192.9L445.5,195.1L456.0,197.0L466.4,198.8L476.9,200.4"/>
</g>
</g>
<rect x="64.6" y="20.5" width="432.4" height="259.4" fill="none" stroke="#000" stroke-width="1.6"/>
<path d="M132.3,279.9v6.6M214.3,279.9v6.6M296.4,279.9v6.6M378.5,279.9v6.6M460.5,279.9v6.6M64.6,249.0h-6.6M64.6,209.2h-6.6M64.6,169.4h-6.6M64.6,129.6h-6.6M64.6,89.8h-6.6M64.6,50.0h-6.6" stroke="#000" stroke-width="1.4" fill="none"/>
<g font-size="17.9px" letter-spacing="0" filter="url(#soft)">
<g text-anchor="middle">
<text transform="translate(132.7,304.6) scale(1.0,1)" font-size="16.5px">0.5</text>
<text transform="translate(214.8,304.6) scale(1.0,1)" font-size="16.5px">0.6</text>
<text transform="translate(296.8,304.6) scale(1.0,1)" font-size="16.5px">0.7</text>
<text transform="translate(378.9,304.6) scale(1.0,1)" font-size="16.5px">0.8</text>
<text transform="translate(460.9,304.6) scale(1.0,1)" font-size="16.5px">0.9</text>
<text transform="translate(280.8,325.5) scale(1.0,1)">Wavelength</text>
</g>
<g text-anchor="end">
<text transform="translate(49.4,256.1) scale(1.0,1)" font-size="16.5px">0.6</text>
<text transform="translate(49.4,216.4) scale(1.0,1)" font-size="16.5px">0.8</text>
<text transform="translate(49.4,176.6) scale(1.0,1)" font-size="16.5px">1.0</text>
<text transform="translate(49.4,136.3) scale(1.0,1)" font-size="16.5px">1.2</text>
<text transform="translate(49.4,96.1) scale(1.0,1)" font-size="16.5px">1.4</text>
<text transform="translate(49.4,55.7) scale(1.0,1)" font-size="16.5px">1.6</text>
</g>
<text transform="translate(15.2,150.2) rotate(-90) scale(1.0,1)" text-anchor="middle">Normalized Reflectance</text>
<rect x="73.3" y="29.5" width="198.8" height="59" rx="3" ry="3" fill="#fff" fill-opacity="0.8" stroke="#ccc" stroke-opacity="0.8" stroke-width="1.4"/>
<path d="M78.2,43.2h38.3" stroke="#00f" stroke-opacity="0.6" stroke-width="2.3" fill="none"/>
<path d="M78.2,70.3h38.3" stroke="#f00" stroke-opacity="0.6" stroke-width="2.3" fill="none"/>
<text transform="translate(129.6,49.2) scale(1.0,1)">Expanded data</text>
<text transform="translate(129.6,76.2) scale(1.0,1)">Raw data</text>
<text transform="translate(280.4,15.4) scale(1.0,1)" text-anchor="middle" font-size="21.5px" xml:space="preserve" style="white-space:pre">C  338→2000</text>
</g>
</g>
<g>
<g fill="none" stroke-width="2.5" stroke-linejoin="round" stroke-linecap="square" filter="url(#soft)">
<polygon points="579.4,164.6 598.7,167.0 616.8,169.2 634.8,171.3 652.9,172.5 670.9,169.4 681.4,162.7 691.9,153.4 702.3,143.5 712.8,134.5 723.3,126.7 733.7,119.4 744.2,112.5 754.7,105.6 765.1,99.0 775.6,93.0 786.1,87.9 796.5,83.6 807.0,80.4 817.5,78.5 828.0,78.2 838.4,80.2 848.9,83.7 859.4,87.9 869.8,91.5 880.3,93.3 890.8,93.4 901.2,92.7 911.7,91.8 922.2,91.1 932.6,90.3 943.1,89.0 953.6,86.7 964.0,83.8 975.8,80.5 975.8,166.1 964.0,166.0 953.6,166.0 943.1,166.0 932.6,166.2 922.2,166.3 911.7,166.2 901.2,165.6 890.8,164.7 880.3,163.7 869.8,162.9 859.4,162.3 848.9,161.7 838.4,160.9 828.0,160.3 817.5,160.9 807.0,162.1 796.5,163.1 786.1,164.0 775.6,164.6 765.1,165.2 754.7,165.7 744.2,166.1 733.7,166.5 723.3,166.8 712.8,167.0 702.3,166.9 691.9,166.7 681.4,167.1 670.9,169.4 652.9,178.6 634.8,193.4 616.8,209.6 598.7,225.3 579.4,240.4" fill="#00f" stroke="none"/>
<polygon points="579.4,181.4 598.7,180.0 616.8,178.0 634.8,175.4 652.9,173.6 670.9,169.4 681.4,163.5 691.9,156.2 702.3,147.6 712.8,139.5 723.3,132.1 733.7,125.2 744.2,118.6 754.7,112.5 765.1,106.7 775.6,101.3 786.1,96.4 796.5,92.0 807.0,89.0 817.5,87.8 828.0,88.6 838.4,92.1 848.9,97.5 859.4,104.6 869.8,113.7 880.3,125.3 890.8,139.0 901.2,153.0 911.7,165.0 922.2,174.3 932.6,181.2 943.1,186.0 953.6,189.1 964.0,191.3 975.8,192.8 975.8,243.0 964.0,238.7 953.6,234.1 943.1,229.2 932.6,223.7 922.2,217.6 911.7,210.5 901.2,202.3 890.8,193.6 880.3,185.3 869.8,178.4 859.4,172.7 848.9,166.9 838.4,159.9 828.0,152.2 817.5,145.9 807.0,142.9 796.5,143.1 786.1,145.2 775.6,147.9 765.1,150.5 754.7,152.9 744.2,155.5 733.7,158.3 723.3,161.0 712.8,163.2 702.3,164.6 691.9,165.3 681.4,167.0 670.9,169.4 652.9,181.3 634.8,200.0 616.8,220.8 598.7,240.0 579.4,257.7" fill="#00f" stroke="none"/>
<g stroke="#00f" stroke-opacity="0.6">
<path d="M580.7,243.7L598.7,228.6L616.8,212.7L634.8,196.2L652.9,181.3L670.9,169.4L681.4,160.6L691.9,150.8L702.3,141.0L712.8,132.2L723.3,124.4L733.7,117.3L744.2,110.4L754.7,103.6L765.1,96.9L775.6,90.9L786.1,85.7L796.5,81.3L807.0,78.0L817.5,75.9L828.0,75.5L838.4,77.4L848.9,80.8L859.4,84.8L869.8,88.3L880.3,90.1L890.8,90.1L901.2,89.4L911.7,88.5L922.2,87.9L932.6,87.1L943.1,85.8L953.6,83.7L964.0,80.8L974.5,77.6"/>
<path d="M580.7,241.9L598.7,226.9L616.8,211.3L634.8,195.0L652.9,180.2L670.9,169.4L681.4,161.4L691.9,151.7L702.3,141.7L712.8,132.7L723.3,124.7L733.7,117.4L744.2,110.4L754.7,103.6L765.1,97.0L775.6,91.0L786.1,85.9L796.5,81.6L807.0,78.5L817.5,76.5L828.0,76.2L838.4,78.3L848.9,81.8L859.4,86.1L869.8,89.7L880.3,91.6L890.8,91.8L901.2,91.1L911.7,90.2L922.2,89.6L932.6,88.9L943.1,87.6L953.6,85.4L964.0,82.5L974.5,79.2"/>
<path d="M580.7,242.3L598.7,226.9L616.8,210.7L634.8,194.2L652.9,179.4L670.9,169.4L681.4,162.0L691.9,152.8L702.3,143.1L712.8,134.3L723.3,126.6L733.7,119.4L744.2,112.3L754.7,105.3L765.1,98.5L775.6,92.2L786.1,86.8L796.5,82.3L807.0,78.9L817.5,76.7L828.0,76.1L838.4,78.0L848.9,81.4L859.4,85.5L869.8,89.1L880.3,91.0L890.8,91.2L901.2,90.6L911.7,89.9L922.2,89.4L932.6,88.9L943.1,87.8L953.6,85.8L964.0,83.1L974.5,80.0"/>
<path d="M580.7,240.5L598.7,225.7L616.8,210.4L634.8,194.3L652.9,179.4L670.9,169.4L681.4,162.1L691.9,152.6L702.3,142.6L712.8,133.8L723.3,126.1L733.7,119.1L744.2,112.4L754.7,105.7L765.1,99.2L775.6,93.2L786.1,88.0L796.5,83.7L807.0,80.3L817.5,78.1L828.0,77.6L838.4,79.3L848.9,82.6L859.4,86.6L869.8,90.1L880.3,91.8L890.8,92.0L901.2,91.3L911.7,90.6L922.2,90.1L932.6,89.5L943.1,88.4L953.6,86.4L964.0,83.7L974.5,80.5"/>
<path d="M580.7,241.7L598.7,226.7L616.8,210.9L634.8,194.4L652.9,179.3L670.9,169.4L681.4,162.2L691.9,152.7L702.3,142.7L712.8,133.7L723.3,125.9L733.7,118.7L744.2,111.8L754.7,105.1L765.1,98.6L775.6,92.8L786.1,87.7L796.5,83.6L807.0,80.5L817.5,78.6L828.0,78.4L838.4,80.5L848.9,84.1L859.4,88.3L869.8,91.9L880.3,93.8L890.8,93.9L901.2,93.2L911.7,92.3L922.2,91.6L932.6,90.8L943.1,89.3L953.6,87.0L964.0,84.0L974.5,80.6"/>
<path d="M580.7,239.6L598.7,224.2L616.8,208.6L634.8,192.7L652.9,178.3L670.9,169.4L681.4,162.7L691.9,153.4L702.3,143.4L712.8,134.2L723.3,126.1L733.7,118.5L744.2,111.3L754.7,104.4L765.1,97.7L775.6,91.7L786.1,86.6L796.5,82.5L807.0,79.5L817.5,77.7L828.0,77.7L838.4,80.0L848.9,83.8L859.4,88.2L869.8,92.1L880.3,94.1L890.8,94.5L901.2,93.9L911.7,93.1L922.2,92.4L932.6,91.6L943.1,90.1L953.6,87.7L964.0,84.5L974.5,81.0"/>
<path d="M580.7,240.9L598.7,226.3L616.8,210.4L634.8,193.6L652.9,178.3L670.9,169.4L681.4,163.0L691.9,154.1L702.3,144.4L712.8,135.5L723.3,127.7L733.7,120.2L744.2,112.9L754.7,105.6L765.1,98.6L775.6,92.3L786.1,86.9L796.5,82.6L807.0,79.6L817.5,77.9L828.0,78.0L838.4,80.5L848.9,84.4L859.4,89.0L869.8,92.9L880.3,94.8L890.8,94.9L901.2,94.0L911.7,92.8L922.2,91.8L932.6,90.5L943.1,88.7L953.6,86.1L964.0,82.9L974.5,79.5"/>
<path d="M580.7,239.2L598.7,224.2L616.8,208.7L634.8,192.7L652.9,178.0L670.9,169.4L681.4,163.1L691.9,153.8L702.3,143.8L712.8,134.7L723.3,126.7L733.7,119.3L744.2,112.3L754.7,105.4L765.1,98.8L775.6,92.8L786.1,87.6L796.5,83.4L807.0,80.2L817.5,78.3L828.0,78.0L838.4,80.1L848.9,83.7L859.4,88.0L869.8,91.7L880.3,93.6L890.8,93.9L901.2,93.3L911.7,92.5L922.2,92.0L932.6,91.3L943.1,90.0L953.6,87.8L964.0,84.9L974.5,81.7"/>
<path d="M580.7,239.7L598.7,224.9L616.8,209.4L634.8,193.0L652.9,178.0L670.9,169.4L681.4,163.2L691.9,154.1L702.3,144.3L712.8,135.5L723.3,127.8L733.7,120.8L744.2,113.9L754.7,107.1L765.1,100.5L775.6,94.4L786.1,89.1L796.5,84.7L807.0,81.3L817.5,79.1L828.0,78.6L838.4,80.4L848.9,83.8L859.4,87.9L869.8,91.5L880.3,93.3L890.8,93.5L901.2,92.9L911.7,92.3L922.2,91.8L932.6,91.2L943.1,90.1L953.6,88.0L964.0,85.2L974.5,81.9"/>
<path d="M580.7,239.4L598.7,224.6L616.8,209.2L634.8,192.9L652.9,177.9L670.9,169.4L681.4,163.3L691.9,153.9L702.3,143.8L712.8,134.6L723.3,126.6L733.7,119.2L744.2,112.3L754.7,105.6L765.1,99.1L775.6,93.3L786.1,88.3L796.5,84.3L807.0,81.3L817.5,79.5L828.0,79.4L838.4,81.6L848.9,85.3L859.4,89.6L869.8,93.4L880.3,95.3L890.8,95.5L901.2,94.9L911.7,94.1L922.2,93.4L932.6,92.6L943.1,91.3L953.6,89.0L964.0,85.9L974.5,82.5"/>
<path d="M580.7,238.1L598.7,223.4L616.8,208.2L634.8,192.4L652.9,177.6L670.9,169.4L681.4,163.4L691.9,154.1L702.3,144.0L712.8,134.8L723.3,126.9L733.7,119.6L744.2,112.9L754.7,106.3L765.1,100.0L775.6,94.3L786.1,89.5L796.5,85.5L807.0,82.5L817.5,80.7L828.0,80.5L838.4,82.6L848.9,86.1L859.4,90.2L869.8,93.7L880.3,95.3L890.8,95.2L901.2,94.1L911.7,93.0L922.2,92.0L932.6,90.9L943.1,89.3L953.6,86.8L964.0,83.7L974.5,80.3"/>
<path d="M580.7,238.4L598.7,223.1L616.8,207.5L634.8,191.5L652.9,177.0L670.9,169.4L681.4,163.8L691.9,154.8L702.3,144.8L712.8,135.7L723.3,127.6L733.7,120.1L744.2,113.0L754.7,106.1L765.1,99.4L775.6,93.4L786.1,88.2L796.5,84.0L807.0,80.9L817.5,79.1L828.0,78.9L838.4,81.1L848.9,84.8L859.4,89.2L869.8,93.0L880.3,95.0L890.8,95.3L901.2,94.8L911.7,94.0L922.2,93.4L932.6,92.7L943.1,91.3L953.6,89.0L964.0,86.0L974.5,82.5"/>
<path d="M580.7,239.0L598.7,224.2L616.8,208.7L634.8,192.3L652.9,177.2L670.9,169.4L681.4,163.8L691.9,154.8L702.3,145.0L712.8,136.1L723.3,128.5L733.7,121.4L744.2,114.7L754.7,107.9L765.1,101.4L775.6,95.4L786.1,90.1L796.5,85.8L807.0,82.4L817.5,80.3L828.0,79.8L838.4,81.6L848.9,84.9L859.4,88.9L869.8,92.4L880.3,94.1L890.8,94.1L901.2,93.4L911.7,92.6L922.2,92.0L932.6,91.4L943.1,90.2L953.6,88.1L964.0,85.4L974.5,82.2"/>
<path d="M580.7,239.9L598.7,224.3L616.8,207.9L634.8,191.2L652.9,176.4L670.9,169.4L681.4,164.3L691.9,155.5L702.3,145.5L712.8,136.3L723.3,128.1L733.7,120.4L744.2,113.1L754.7,106.1L765.1,99.6L775.6,93.8L786.1,88.9L796.5,85.0L807.0,82.3L817.5,80.8L828.0,80.8L838.4,83.2L848.9,86.8L859.4,91.0L869.8,94.4L880.3,95.9L890.8,95.6L901.2,94.4L911.7,93.1L922.2,92.1L932.6,91.0L943.1,89.5L953.6,87.3L964.0,84.5L974.5,81.5"/>
<path d="M580.7,237.9L598.7,223.1L616.8,207.7L634.8,191.6L652.9,176.8L670.9,169.4L681.4,164.1L691.9,155.1L702.3,145.0L712.8,135.9L723.3,128.0L733.7,120.8L744.2,113.9L754.7,107.3L765.1,100.9L775.6,95.1L786.1,90.1L796.5,86.0L807.0,83.0L817.5,81.2L828.0,80.9L838.4,83.0L848.9,86.6L859.4,90.7L869.8,94.3L880.3,96.0L890.8,96.0L901.2,95.1L911.7,94.1L922.2,93.3L932.6,92.3L943.1,90.7L953.6,88.3L964.0,85.2L974.5,81.7"/>
<path d="M580.7,238.1L598.7,222.7L616.8,206.9L634.8,190.7L652.9,176.1L670.9,169.4L681.4,164.5L691.9,155.8L702.3,146.1L712.8,137.2L723.3,129.4L733.7,122.1L744.2,115.0L754.7,108.0L765.1,101.2L775.6,95.0L786.1,89.6L796.5,85.2L807.0,81.8L817.5,79.7L828.0,79.3L838.4,81.2L848.9,84.6L859.4,88.8L869.8,92.4L880.3,94.2L890.8,94.4L901.2,93.7L911.7,93.0L922.2,92.5L932.6,91.8L943.1,90.7L953.6,88.6L964.0,85.9L974.5,82.7"/>
<path d="M580.7,163.1L598.7,165.1L616.8,166.9L634.8,168.8L652.9,169.9L670.9,169.4L681.4,169.1L691.9,169.5L702.3,169.9L712.8,170.0L723.3,170.0L733.7,169.6L744.2,169.1L754.7,168.5L765.1,167.8L775.6,167.0L786.1,166.0L796.5,165.0L807.0,163.8L817.5,162.4L828.0,161.7L838.4,162.2L848.9,163.0L859.4,163.6L869.8,164.3L880.3,165.2L890.8,166.3L901.2,167.4L911.7,168.2L922.2,168.6L932.6,168.7L943.1,168.8L953.6,169.0L964.0,169.2L974.5,169.4"/>
<path d="M580.7,162.7L598.7,165.0L616.8,167.3L634.8,169.4L652.9,170.7L670.9,169.4L681.4,168.4L691.9,168.5L702.3,168.8L712.8,168.9L723.3,168.8L733.7,168.5L744.2,168.1L754.7,167.7L765.1,167.2L775.6,166.6L786.1,165.8L796.5,164.9L807.0,163.9L817.5,162.7L828.0,162.0L838.4,162.5L848.9,163.3L859.4,163.8L869.8,164.3L880.3,165.0L890.8,166.0L901.2,166.9L911.7,167.4L922.2,167.4L932.6,167.3L943.1,167.1L953.6,167.1L964.0,167.0L974.5,167.1"/>
<path d="M580.7,162.3L598.7,164.8L616.8,167.5L634.8,170.0L652.9,171.4L670.9,169.4L681.4,167.9L691.9,167.5L702.3,167.5L712.8,167.3L723.3,166.9L733.7,166.4L744.2,166.0L754.7,165.7L765.1,165.5L775.6,165.1L786.1,164.7L796.5,164.1L807.0,163.3L817.5,162.4L828.0,162.1L838.4,162.9L848.9,163.9L859.4,164.6L869.8,165.3L880.3,166.1L890.8,167.0L901.2,167.9L911.7,168.3L922.2,168.3L932.6,167.9L943.1,167.6L953.6,167.2L964.0,167.0L974.5,166.8"/>
<path d="M580.7,164.2L598.7,166.5L616.8,168.7L634.8,170.6L652.9,171.6L670.9,169.4L681.4,167.8L691.9,167.7L702.3,168.0L712.8,168.1L723.3,168.0L733.7,167.7L744.2,167.2L754.7,166.7L765.1,166.2L775.6,165.5L786.1,164.7L796.5,163.7L807.0,162.6L817.5,161.4L828.0,160.8L838.4,161.3L848.9,162.2L859.4,162.8L869.8,163.4L880.3,164.3L890.8,165.4L901.2,166.4L911.7,167.1L922.2,167.3L932.6,167.3L943.1,167.3L953.6,167.3L964.0,167.3L974.5,167.3"/>
<path d="M580.7,164.6L598.7,166.8L616.8,168.9L634.8,170.8L652.9,172.0L670.9,169.4L681.4,167.6L691.9,167.4L702.3,167.7L712.8,167.8L723.3,167.7L733.7,167.4L744.2,167.0L754.7,166.5L765.1,166.0L775.6,165.3L786.1,164.6L796.5,163.6L807.0,162.5L817.5,161.2L828.0,160.5L838.4,161.0L848.9,161.8L859.4,162.3L869.8,162.9L880.3,163.6L890.8,164.6L901.2,165.6L911.7,166.2L922.2,166.4L932.6,166.4L943.1,166.3L953.6,166.4L964.0,166.5L974.5,166.7"/>
<path d="M580.7,165.8L598.7,168.2L616.8,170.2L634.8,171.8L652.9,172.6L670.9,169.4L681.4,167.2L691.9,166.8L702.3,167.2L712.8,167.5L723.3,167.5L733.7,167.5L744.2,167.3L754.7,167.0L765.1,166.5L775.6,166.0L786.1,165.2L796.5,164.3L807.0,163.1L817.5,161.8L828.0,161.0L838.4,161.3L848.9,161.9L859.4,162.2L869.8,162.5L880.3,163.1L890.8,163.9L901.2,164.6L911.7,165.1L922.2,165.1L932.6,165.0L943.1,164.8L953.6,164.8L964.0,165.0L974.5,165.2"/>
<path d="M580.7,165.2L598.7,167.5L616.8,169.6L634.8,171.6L652.9,172.7L670.9,169.4L681.4,167.0L691.9,166.6L702.3,166.9L712.8,167.0L723.3,166.9L733.7,166.7L744.2,166.2L754.7,165.8L765.1,165.2L775.6,164.6L786.1,163.9L796.5,162.9L807.0,161.8L817.5,160.6L828.0,159.9L838.4,160.4L848.9,161.2L859.4,161.7L869.8,162.3L880.3,163.0L890.8,164.0L901.2,165.0L911.7,165.6L922.2,165.8L932.6,165.7L943.1,165.7L953.6,165.7L964.0,165.8L974.5,165.9"/>
<path d="M580.7,164.8L598.7,167.0L616.8,169.3L634.8,171.5L652.9,172.9L670.9,169.4L681.4,166.8L691.9,166.2L702.3,166.4L712.8,166.3L723.3,166.0L733.7,165.6L744.2,165.2L754.7,164.7L765.1,164.3L775.6,163.8L786.1,163.2L796.5,162.5L807.0,161.6L817.5,160.5L828.0,160.1L838.4,160.7L848.9,161.6L859.4,162.3L869.8,162.9L880.3,163.7L890.8,164.7L901.2,165.6L911.7,166.0L922.2,166.1L932.6,165.9L943.1,165.6L953.6,165.4L964.0,165.3L974.5,165.3"/>
<path d="M580.7,164.3L598.7,166.4L616.8,168.9L634.8,171.4L652.9,173.0L670.9,169.4L681.4,166.6L691.9,166.0L702.3,166.1L712.8,166.0L723.3,165.5L733.7,164.9L744.2,164.3L754.7,163.7L765.1,163.1L775.6,162.5L786.1,161.9L796.5,161.1L807.0,160.1L817.5,159.1L828.0,158.7L838.4,159.5L848.9,160.6L859.4,161.4L869.8,162.3L880.3,163.3L890.8,164.5L901.2,165.7L911.7,166.4L922.2,166.7L932.6,166.7L943.1,166.6L953.6,166.6L964.0,166.6L974.5,166.5"/>
<path d="M580.7,165.0L598.7,167.4L616.8,170.0L634.8,172.3L652.9,173.5L670.9,169.4L681.4,166.3L691.9,165.6L702.3,165.8L712.8,165.9L723.3,165.8L733.7,165.7L744.2,165.5L754.7,165.2L765.1,164.8L775.6,164.3L786.1,163.6L796.5,162.7L807.0,161.5L817.5,160.2L828.0,159.3L838.4,159.7L848.9,160.4L859.4,160.8L869.8,161.3L880.3,162.1L890.8,163.2L901.2,164.3L911.7,165.0L922.2,165.3L932.6,165.4L943.1,165.5L953.6,165.6L964.0,165.7L974.5,165.7"/>
<path d="M580.7,166.7L598.7,169.4L616.8,171.4L634.8,172.9L652.9,173.7L670.9,169.4L681.4,166.3L691.9,165.9L702.3,166.3L712.8,166.5L723.3,166.3L733.7,165.7L744.2,165.0L754.7,164.1L765.1,163.3L775.6,162.4L786.1,161.6L796.5,160.7L807.0,159.8L817.5,158.8L828.0,158.6L838.4,159.6L848.9,160.8L859.4,161.8L869.8,162.7L880.3,163.6L890.8,164.7L901.2,165.5L911.7,165.8L922.2,165.6L932.6,165.1L943.1,164.6L953.6,164.1L964.0,163.8L974.5,163.7"/>
<path d="M580.7,165.4L598.7,167.7L616.8,170.1L634.8,172.4L652.9,173.7L670.9,169.4L681.4,166.1L691.9,165.4L702.3,165.5L712.8,165.4L723.3,165.1L733.7,164.6L744.2,164.2L754.7,163.7L765.1,163.3L775.6,162.8L786.1,162.1L796.5,161.4L807.0,160.5L817.5,159.4L828.0,158.9L838.4,159.7L848.9,160.6L859.4,161.3L869.8,162.0L880.3,162.8L890.8,163.9L901.2,164.9L911.7,165.4L922.2,165.6L932.6,165.4L943.1,165.2L953.6,165.1L964.0,165.0L974.5,164.9"/>
<path d="M580.7,166.6L598.7,169.3L616.8,171.6L634.8,173.3L652.9,174.2L670.9,169.4L681.4,165.9L691.9,165.3L702.3,165.7L712.8,165.9L723.3,166.0L733.7,165.8L744.2,165.3L754.7,164.7L765.1,164.0L775.6,163.2L786.1,162.3L796.5,161.2L807.0,159.9L817.5,158.6L828.0,157.9L838.4,158.4L848.9,159.3L859.4,160.0L869.8,160.8L880.3,161.8L890.8,163.1L901.2,164.3L911.7,165.1L922.2,165.4L932.6,165.5L943.1,165.4L953.6,165.3L964.0,165.2L974.5,165.1"/>
<path d="M580.7,166.0L598.7,168.3L616.8,170.7L634.8,172.9L652.9,174.2L670.9,169.4L681.4,165.7L691.9,164.9L702.3,165.1L712.8,165.1L723.3,164.8L733.7,164.4L744.2,163.9L754.7,163.5L765.1,163.0L775.6,162.4L786.1,161.7L796.5,160.9L807.0,159.9L817.5,158.7L828.0,158.2L838.4,158.8L848.9,159.7L859.4,160.3L869.8,161.0L880.3,161.8L890.8,162.9L901.2,163.9L911.7,164.5L922.2,164.7L932.6,164.7L943.1,164.6L953.6,164.6L964.0,164.6L974.5,164.7"/>
<path d="M580.7,165.9L598.7,168.4L616.8,170.9L634.8,173.2L652.9,174.5L670.9,169.4L681.4,165.5L691.9,164.6L702.3,164.6L712.8,164.5L723.3,164.2L733.7,163.7L744.2,163.3L754.7,162.9L765.1,162.5L775.6,162.0L786.1,161.4L796.5,160.7L807.0,159.8L817.5,158.8L828.0,158.4L838.4,159.1L848.9,160.0L859.4,160.8L869.8,161.5L880.3,162.3L890.8,163.4L901.2,164.4L911.7,165.0L922.2,165.1L932.6,165.0L943.1,164.8L953.6,164.7L964.0,164.6L974.5,164.6"/>
<path d="M580.7,166.8L598.7,169.3L616.8,171.6L634.8,173.6L652.9,174.7L670.9,169.4L681.4,165.4L691.9,164.5L702.3,164.6L712.8,164.6L723.3,164.5L733.7,164.1L744.2,163.8L754.7,163.4L765.1,163.0L775.6,162.6L786.1,162.0L796.5,161.2L807.0,160.2L817.5,159.1L828.0,158.6L838.4,159.2L848.9,160.0L859.4,160.7L869.8,161.2L880.3,162.0L890.8,163.0L901.2,163.9L911.7,164.4L922.2,164.5L932.6,164.3L943.1,164.1L953.6,164.0L964.0,163.9L974.5,163.9"/>
<path d="M580.7,161.1L598.7,163.4L616.8,165.7L634.8,167.8L652.9,169.0L670.9,169.4L681.4,159.9L691.9,149.9L702.3,140.0L712.8,131.0L723.3,123.1L733.7,115.9L744.2,108.9L754.7,102.1L765.1,95.5L775.6,89.5L786.1,84.3L796.5,80.1L807.0,76.9L817.5,74.9L828.0,74.6L838.4,76.7L848.9,80.2L859.4,84.4L869.8,88.0L880.3,89.8L890.8,89.9L901.2,89.1L911.7,88.3L922.2,87.6L932.6,86.8L943.1,85.4L953.6,83.2L964.0,80.2L974.5,76.9"/>
<path d="M580.7,160.7L598.7,163.0L616.8,165.3L634.8,167.4L652.9,168.6L670.9,169.4L681.4,159.6L691.9,149.5L702.3,139.7L712.8,130.7L723.3,122.9L733.7,115.6L744.2,108.7L754.7,101.8L765.1,95.2L775.6,89.2L786.1,84.0L796.5,79.8L807.0,76.5L817.5,74.6L828.0,74.2L838.4,76.2L848.9,79.7L859.4,83.9L869.8,87.5L880.3,89.3L890.8,89.4L901.2,88.6L911.7,87.8L922.2,87.1L932.6,86.4L943.1,85.0L953.6,82.8L964.0,79.8L974.5,76.6"/>
<path d="M580.7,159.7L598.7,162.0L616.8,164.3L634.8,166.4L652.9,167.5L670.9,169.4L681.4,158.5L691.9,148.5L702.3,138.5L712.8,129.6L723.3,121.7L733.7,114.5L744.2,107.5L754.7,100.7L765.1,94.1L775.6,88.1L786.1,83.0L796.5,78.7L807.0,75.5L817.5,73.5L828.0,73.2L838.4,75.2L848.9,78.8L859.4,82.9L869.8,86.5L880.3,88.3L890.8,88.5L901.2,87.7L911.7,86.9L922.2,86.2L932.6,85.4L943.1,84.1L953.6,81.8L964.0,78.8L974.5,75.5"/>
<path d="M580.7,243.9L598.7,228.8L616.8,213.1L634.8,196.8L652.9,182.0L670.9,169.4L681.4,169.8L691.9,170.1L702.3,170.4L712.8,170.4L723.3,170.2L733.7,169.9L744.2,169.5L754.7,169.1L765.1,168.6L775.6,168.1L786.1,167.4L796.5,166.5L807.0,165.5L817.5,164.4L828.0,163.7L838.4,164.3L848.9,165.1L859.4,165.7L869.8,166.3L880.3,167.1L890.8,168.1L901.2,169.0L911.7,169.6L922.2,169.7L932.6,169.6L943.1,169.4L953.6,169.4L964.0,169.4L974.5,169.5"/>
<path d="M580.7,244.4L598.7,229.3L616.8,213.6L634.8,197.4L652.9,182.6L670.9,169.4L681.4,170.5L691.9,170.8L702.3,171.0L712.8,171.1L723.3,170.9L733.7,170.6L744.2,170.2L754.7,169.8L765.1,169.4L775.6,168.8L786.1,168.2L796.5,167.3L807.0,166.3L817.5,165.1L828.0,164.5L838.4,165.1L848.9,165.9L859.4,166.5L869.8,167.0L880.3,167.8L890.8,168.8L901.2,169.7L911.7,170.2L922.2,170.3L932.6,170.2L943.1,170.0L953.6,170.0L964.0,170.0L974.5,170.0"/>
<path d="M580.7,245.4L598.7,230.3L616.8,214.6L634.8,198.3L652.9,183.5L670.9,169.4L681.4,171.3L691.9,171.7L702.3,171.9L712.8,171.9L723.3,171.8L733.7,171.4L744.2,171.0L754.7,170.6L765.1,170.1L775.6,169.6L786.1,168.9L796.5,168.0L807.0,167.0L817.5,165.9L828.0,165.3L838.4,165.9L848.9,166.7L859.4,167.3L869.8,167.8L880.3,168.6L890.8,169.6L901.2,170.5L911.7,171.1L922.2,171.2L932.6,171.1L943.1,171.0L953.6,170.9L964.0,170.9L974.5,171.0"/>
<path d="M580.7,258.9L598.7,241.3L616.8,222.5L634.8,202.1L652.9,183.5L670.9,169.4L681.4,162.1L691.9,153.7L702.3,145.0L712.8,136.8L723.3,129.4L733.7,122.6L744.2,116.3L754.7,110.4L765.1,104.9L775.6,99.8L786.1,95.0L796.5,90.8L807.0,87.8L817.5,86.6L828.0,87.3L838.4,90.6L848.9,95.7L859.4,102.5L869.8,111.4L880.3,122.6L890.8,136.2L901.2,150.0L911.7,161.9L922.2,171.2L932.6,178.1L943.1,183.0L953.6,186.4L964.0,188.9L974.5,190.6"/>
<path d="M580.7,258.1L598.7,240.4L616.8,221.6L634.8,201.2L652.9,182.8L670.9,169.4L681.4,162.5L691.9,154.4L702.3,145.6L712.8,137.4L723.3,129.7L733.7,122.5L744.2,115.9L754.7,109.7L765.1,104.0L775.6,98.8L786.1,94.0L796.5,89.9L807.0,87.1L817.5,86.2L828.0,87.2L838.4,91.0L848.9,96.6L859.4,103.9L869.8,113.2L880.3,124.8L890.8,138.7L901.2,152.7L911.7,164.6L922.2,173.8L932.6,180.6L943.1,185.2L953.6,188.2L964.0,190.1L974.5,191.3"/>
<path d="M580.7,259.0L598.7,240.8L616.8,221.4L634.8,200.7L652.9,182.3L670.9,169.4L681.4,162.8L691.9,155.0L702.3,146.3L712.8,138.1L723.3,130.4L733.7,123.2L744.2,116.4L754.7,110.2L765.1,104.4L775.6,99.1L786.1,94.2L796.5,90.1L807.0,87.3L817.5,86.4L828.0,87.4L838.4,91.2L848.9,96.8L859.4,104.1L869.8,113.4L880.3,125.0L890.8,138.8L901.2,152.7L911.7,164.5L922.2,173.6L932.6,180.3L943.1,184.8L953.6,187.7L964.0,189.6L974.5,190.8"/>
<path d="M580.7,257.5L598.7,239.6L616.8,220.5L634.8,200.0L652.9,181.6L670.9,169.4L681.4,163.2L691.9,155.8L702.3,147.4L712.8,139.5L723.3,132.2L733.7,125.2L744.2,118.6L754.7,112.4L765.1,106.4L775.6,100.9L786.1,95.8L796.5,91.4L807.0,88.2L817.5,86.9L828.0,87.5L838.4,90.9L848.9,96.1L859.4,103.1L869.8,112.1L880.3,123.6L890.8,137.2L901.2,151.1L911.7,163.1L922.2,172.3L932.6,179.2L943.1,183.9L953.6,187.1L964.0,189.2L974.5,190.8"/>
<path d="M580.7,258.8L598.7,240.9L616.8,221.4L634.8,200.4L652.9,181.6L670.9,169.4L681.4,163.3L691.9,156.0L702.3,147.5L712.8,139.6L723.3,132.3L733.7,125.4L744.2,118.7L754.7,112.4L765.1,106.5L775.6,101.0L786.1,95.9L796.5,91.4L807.0,88.2L817.5,86.9L828.0,87.5L838.4,90.9L848.9,96.2L859.4,103.3L869.8,112.4L880.3,124.0L890.8,137.8L901.2,151.9L911.7,164.0L922.2,173.4L932.6,180.5L943.1,185.4L953.6,188.8L964.0,191.1L974.5,192.7"/>
<path d="M580.7,257.8L598.7,239.8L616.8,220.5L634.8,199.9L652.9,181.3L670.9,169.4L681.4,163.4L691.9,155.9L702.3,147.2L712.8,139.0L723.3,131.5L733.7,124.5L744.2,118.1L754.7,112.1L765.1,106.5L775.6,101.4L786.1,96.6L796.5,92.4L807.0,89.5L817.5,88.3L828.0,89.0L838.4,92.3L848.9,97.5L859.4,104.4L869.8,113.3L880.3,124.7L890.8,138.3L901.2,152.2L911.7,164.2L922.2,173.6L932.6,180.7L943.1,185.6L953.6,189.0L964.0,191.4L974.5,193.1"/>
<path d="M580.7,256.8L598.7,239.1L616.8,220.1L634.8,199.5L652.9,181.0L670.9,169.4L681.4,163.6L691.9,156.4L702.3,147.8L712.8,139.7L723.3,132.3L733.7,125.2L744.2,118.6L754.7,112.4L765.1,106.5L775.6,101.1L786.1,96.0L796.5,91.7L807.0,88.6L817.5,87.4L828.0,88.1L838.4,91.6L848.9,96.9L859.4,104.0L869.8,113.1L880.3,124.6L890.8,138.4L901.2,152.4L911.7,164.4L922.2,173.7L932.6,180.6L943.1,185.4L953.6,188.7L964.0,190.9L974.5,192.4"/>
<path d="M580.7,258.1L598.7,240.6L616.8,221.2L634.8,200.0L652.9,180.9L670.9,169.4L681.4,163.8L691.9,156.9L702.3,148.5L712.8,140.6L723.3,133.4L733.7,126.6L744.2,120.1L754.7,113.8L765.1,107.8L775.6,102.2L786.1,97.0L796.5,92.4L807.0,89.1L817.5,87.7L828.0,88.3L838.4,91.7L848.9,97.0L859.4,104.1L869.8,113.3L880.3,124.9L890.8,138.9L901.2,153.1L911.7,165.3L922.2,174.9L932.6,182.0L943.1,187.0L953.6,190.4L964.0,192.7L974.5,194.3"/>
<path d="M580.7,257.2L598.7,239.7L616.8,220.5L634.8,199.5L652.9,180.6L670.9,169.4L681.4,164.0L691.9,157.0L702.3,148.4L712.8,140.5L723.3,133.2L733.7,126.3L744.2,119.8L754.7,113.6L765.1,107.8L775.6,102.3L786.1,97.2L796.5,92.8L807.0,89.7L817.5,88.4L828.0,89.1L838.4,92.5L848.9,97.8L859.4,104.9L869.8,114.0L880.3,125.6L890.8,139.4L901.2,153.5L911.7,165.6L922.2,175.1L932.6,182.1L943.1,187.0L953.6,190.2L964.0,192.5L974.5,194.0"/>
<path d="M580.7,257.4L598.7,239.6L616.8,220.1L634.8,199.1L652.9,180.3L670.9,169.4L681.4,164.1L691.9,157.3L702.3,148.9L712.8,141.0L723.3,133.7L733.7,126.9L744.2,120.3L754.7,114.2L765.1,108.3L775.6,102.9L786.1,97.8L796.5,93.4L807.0,90.3L817.5,89.0L828.0,89.6L838.4,93.0L848.9,98.2L859.4,105.2L869.8,114.2L880.3,125.6L890.8,139.3L901.2,153.2L911.7,165.1L922.2,174.4L932.6,181.3L943.1,186.0L953.6,189.3L964.0,191.5L974.5,193.0"/>
<path d="M580.7,257.2L598.7,239.4L616.8,219.9L634.8,198.9L652.9,180.0L670.9,169.4L681.4,164.3L691.9,157.5L702.3,149.0L712.8,140.9L723.3,133.4L733.7,126.3L744.2,119.6L754.7,113.3L765.1,107.4L775.6,101.9L786.1,96.9L796.5,92.6L807.0,89.7L817.5,88.6L828.0,89.5L838.4,93.2L848.9,98.8L859.4,106.0L869.8,115.3L880.3,126.9L890.8,140.7L901.2,154.7L911.7,166.6L922.2,175.8L932.6,182.6L943.1,187.1L953.6,190.2L964.0,192.2L974.5,193.5"/>
<path d="M580.7,256.2L598.7,238.8L616.8,219.9L634.8,199.1L652.9,180.1L670.9,169.4L681.4,164.3L691.9,157.3L702.3,148.6L712.8,140.6L723.3,133.2L733.7,126.4L744.2,120.0L754.7,114.1L765.1,108.6L775.6,103.4L786.1,98.6L796.5,94.4L807.0,91.5L817.5,90.3L828.0,91.1L838.4,94.5L848.9,99.8L859.4,106.8L869.8,115.8L880.3,127.1L890.8,140.6L901.2,154.4L911.7,166.2L922.2,175.2L932.6,181.9L943.1,186.5L953.6,189.6L964.0,191.7L974.5,193.1"/>
<path d="M580.7,255.2L598.7,237.7L616.8,219.0L634.8,198.6L652.9,179.9L670.9,169.4L681.4,164.4L691.9,157.5L702.3,148.9L712.8,141.0L723.3,133.9L733.7,127.2L744.2,121.0L754.7,115.0L765.1,109.3L775.6,103.8L786.1,98.7L796.5,94.1L807.0,90.7L817.5,89.2L828.0,89.7L838.4,92.9L848.9,98.1L859.4,105.2L869.8,114.4L880.3,126.1L890.8,140.2L901.2,154.5L911.7,166.8L922.2,176.5L932.6,183.6L943.1,188.5L953.6,191.7L964.0,193.8L974.5,195.1"/>
<path d="M580.7,256.1L598.7,238.3L616.8,219.0L634.8,198.1L652.9,179.4L670.9,169.4L681.4,164.7L691.9,158.1L702.3,149.6L712.8,141.6L723.3,134.3L733.7,127.4L744.2,120.8L754.7,114.6L765.1,108.8L775.6,103.4L786.1,98.4L796.5,94.0L807.0,90.9L817.5,89.7L828.0,90.4L838.4,93.8L848.9,99.1L859.4,106.2L869.8,115.3L880.3,126.7L890.8,140.5L901.2,154.4L911.7,166.4L922.2,175.7L932.6,182.6L943.1,187.3L953.6,190.5L964.0,192.7L974.5,194.2"/>
<path d="M580.7,256.6L598.7,239.0L616.8,219.5L634.8,198.3L652.9,179.3L670.9,169.4L681.4,164.8L691.9,158.4L702.3,150.0L712.8,142.0L723.3,134.5L733.7,127.3L744.2,120.5L754.7,114.0L765.1,108.0L775.6,102.4L786.1,97.4L796.5,93.1L807.0,90.2L817.5,89.2L828.0,90.3L838.4,94.1L848.9,99.8L859.4,107.1L869.8,116.5L880.3,128.1L890.8,141.8L901.2,155.7L911.7,167.5L922.2,176.5L932.6,183.1L943.1,187.6L953.6,190.5L964.0,192.4L974.5,193.8"/>
<path d="M580.7,256.0L598.7,237.6L616.8,218.0L634.8,197.3L652.9,178.9L670.9,169.4L681.4,164.8L691.9,158.2L702.3,149.4L712.8,141.1L723.3,133.4L733.7,126.3L744.2,119.8L754.7,113.9L765.1,108.5L775.6,103.6L786.1,99.0L796.5,95.0L807.0,92.2L817.5,91.1L828.0,91.8L838.4,95.1L848.9,100.2L859.4,106.9L869.8,115.7L880.3,126.8L890.8,140.3L901.2,154.1L911.7,166.0L922.2,175.4L932.6,182.6L943.1,187.6L953.6,191.2L964.0,193.8L974.5,195.6"/>
<path d="M580.7,179.3L598.7,178.0L616.8,175.9L634.8,173.2L652.9,171.1L670.9,169.4L681.4,168.6L691.9,167.9L702.3,167.1L712.8,165.8L723.3,163.6L733.7,161.0L744.2,158.4L754.7,155.9L765.1,153.5L775.6,151.0L786.1,148.3L796.5,146.3L807.0,146.0L817.5,149.0L828.0,155.2L838.4,162.9L848.9,169.9L859.4,175.6L869.8,181.3L880.3,188.0L890.8,196.2L901.2,204.9L911.7,212.9L922.2,219.9L932.6,226.0L943.1,231.4L953.6,236.2L964.0,240.8L974.5,245.0"/>
<path d="M580.7,180.4L598.7,179.3L616.8,177.3L634.8,174.5L652.9,172.4L670.9,169.4L681.4,167.9L691.9,166.5L702.3,165.6L712.8,164.1L723.3,161.8L733.7,159.1L744.2,156.4L754.7,154.0L765.1,151.7L775.6,149.3L786.1,146.8L796.5,144.9L807.0,144.8L817.5,148.0L828.0,154.4L838.4,162.2L848.9,169.4L859.4,175.3L869.8,181.1L880.3,188.0L890.8,196.4L901.2,205.1L911.7,213.3L922.2,220.3L932.6,226.4L943.1,231.8L953.6,236.6L964.0,241.1L974.5,245.3"/>
<path d="M580.7,180.5L598.7,178.5L616.8,176.2L634.8,173.7L652.9,172.1L670.9,169.4L681.4,167.8L691.9,166.6L702.3,165.7L712.8,164.1L723.3,161.6L733.7,158.5L744.2,155.6L754.7,153.1L765.1,150.7L775.6,148.3L786.1,145.9L796.5,144.1L807.0,144.2L817.5,147.5L828.0,154.0L838.4,162.0L848.9,169.1L859.4,175.0L869.8,180.6L880.3,187.4L890.8,195.4L901.2,203.8L911.7,211.7L922.2,218.4L932.6,224.3L943.1,229.5L953.6,234.3L964.0,238.8L974.5,243.2"/>
<path d="M580.7,181.6L598.7,180.6L616.8,178.4L634.8,175.2L652.9,172.9L670.9,169.4L681.4,167.6L691.9,166.4L702.3,165.9L712.8,164.7L723.3,162.6L733.7,159.7L744.2,156.6L754.7,153.6L765.1,150.7L775.6,147.8L786.1,144.8L796.5,142.6L807.0,142.3L817.5,145.4L828.0,152.0L838.4,160.1L848.9,167.5L859.4,173.7L869.8,179.9L880.3,187.1L890.8,195.5L901.2,204.4L911.7,212.4L922.2,219.3L932.6,225.1L943.1,230.2L953.6,234.7L964.0,238.8L974.5,242.8"/>
<path d="M580.7,181.7L598.7,179.6L616.8,177.1L634.8,174.5L652.9,172.9L670.9,169.4L681.4,167.3L691.9,165.7L702.3,164.7L712.8,163.1L723.3,160.5L733.7,157.5L744.2,154.7L754.7,152.2L765.1,150.0L775.6,147.8L786.1,145.5L796.5,143.8L807.0,143.9L817.5,147.2L828.0,153.6L838.4,161.4L848.9,168.3L859.4,173.9L869.8,179.3L880.3,185.8L890.8,193.7L901.2,202.1L911.7,209.9L922.2,216.8L932.6,222.9L943.1,228.4L953.6,233.6L964.0,238.4L974.5,243.1"/>
<path d="M580.7,181.8L598.7,180.2L616.8,177.9L634.8,175.1L652.9,173.3L670.9,169.4L681.4,167.2L691.9,165.8L702.3,165.1L712.8,163.9L723.3,161.8L733.7,159.1L744.2,156.2L754.7,153.5L765.1,150.9L775.6,148.1L786.1,145.3L796.5,143.0L807.0,142.6L817.5,145.5L828.0,151.6L838.4,159.2L848.9,166.2L859.4,172.0L869.8,177.7L880.3,184.6L890.8,193.0L901.2,201.8L911.7,210.1L922.2,217.3L932.6,223.7L943.1,229.3L953.6,234.4L964.0,239.1L974.5,243.6"/>
<path d="M580.7,180.8L598.7,179.2L616.8,177.5L634.8,175.3L652.9,173.8L670.9,169.4L681.4,166.8L691.9,164.8L702.3,163.9L712.8,162.3L723.3,159.9L733.7,157.1L744.2,154.4L754.7,152.1L765.1,149.8L775.6,147.6L786.1,145.2L796.5,143.4L807.0,143.4L817.5,146.6L828.0,152.9L838.4,160.7L848.9,167.6L859.4,173.3L869.8,178.8L880.3,185.5L890.8,193.5L901.2,201.9L911.7,209.8L922.2,216.6L932.6,222.6L943.1,227.9L953.6,232.8L964.0,237.4L974.5,241.9"/>
<path d="M580.7,181.5L598.7,180.2L616.8,178.4L634.8,175.9L652.9,174.0L670.9,169.4L681.4,166.7L691.9,164.8L702.3,163.9L712.8,162.5L723.3,160.2L733.7,157.5L744.2,154.7L754.7,152.2L765.1,149.8L775.6,147.4L786.1,144.8L796.5,142.8L807.0,142.7L817.5,145.7L828.0,152.1L838.4,159.9L848.9,166.9L859.4,172.7L869.8,178.5L880.3,185.4L890.8,193.6L901.2,202.3L911.7,210.4L922.2,217.4L932.6,223.5L943.1,228.8L953.6,233.7L964.0,238.1L974.5,242.4"/>
<path d="M580.7,181.0L598.7,179.8L616.8,178.4L634.8,176.2L652.9,174.5L670.9,169.4L681.4,166.5L691.9,164.2L702.3,163.3L712.8,161.8L723.3,159.5L733.7,156.9L744.2,154.4L754.7,152.1L765.1,150.0L775.6,147.7L786.1,145.3L796.5,143.4L807.0,143.3L817.5,146.4L828.0,152.6L838.4,160.2L848.9,167.0L859.4,172.6L869.8,178.0L880.3,184.6L890.8,192.6L901.2,201.0L911.7,208.9L922.2,215.8L932.6,221.8L943.1,227.3L953.6,232.2L964.0,236.9L974.5,241.5"/>
<path d="M580.7,182.3L598.7,181.5L616.8,179.8L634.8,177.1L652.9,174.9L670.9,169.4L681.4,166.4L691.9,164.4L702.3,163.8L712.8,162.7L723.3,160.8L733.7,158.3L744.2,155.6L754.7,152.8L765.1,150.1L775.6,147.2L786.1,144.2L796.5,141.7L807.0,141.2L817.5,143.9L828.0,150.0L838.4,157.8L848.9,164.9L859.4,170.9L869.8,176.9L880.3,184.1L890.8,192.8L901.2,201.9L911.7,210.3L922.2,217.6L932.6,223.8L943.1,229.2L953.6,234.0L964.0,238.3L974.5,242.3"/>
<path d="M580.7,182.9L598.7,181.7L616.8,179.8L634.8,177.1L652.9,175.1L670.9,169.4L681.4,166.2L691.9,163.8L702.3,162.8L712.8,161.2L723.3,158.9L733.7,156.0L744.2,153.3L754.7,150.8L765.1,148.4L775.6,146.0L786.1,143.4L796.5,141.5L807.0,141.4L817.5,144.5L828.0,150.9L838.4,158.8L848.9,165.9L859.4,171.9L869.8,177.7L880.3,184.7L890.8,193.2L901.2,202.0L911.7,210.2L922.2,217.4L932.6,223.6L943.1,229.1L953.6,234.1L964.0,238.7L974.5,243.0"/>
<path d="M580.7,183.4L598.7,182.0L616.8,180.0L634.8,177.2L652.9,175.2L670.9,169.4L681.4,166.1L691.9,163.8L702.3,163.1L712.8,161.8L723.3,159.7L733.7,157.1L744.2,154.4L754.7,151.9L765.1,149.5L775.6,147.1L786.1,144.4L796.5,142.4L807.0,142.1L817.5,145.1L828.0,151.3L838.4,159.0L848.9,165.9L859.4,171.6L869.8,177.3L880.3,184.0L890.8,192.2L901.2,200.8L911.7,208.8L922.2,215.8L932.6,221.9L943.1,227.3L953.6,232.1L964.0,236.6L974.5,240.9"/>
<path d="M580.7,183.5L598.7,181.9L616.8,179.7L634.8,177.0L652.9,175.1L670.9,169.4L681.4,166.1L691.9,163.9L702.3,163.1L712.8,161.7L723.3,159.4L733.7,156.6L744.2,153.7L754.7,151.0L765.1,148.5L775.6,145.9L786.1,143.2L796.5,141.1L807.0,141.0L817.5,144.1L828.0,150.5L838.4,158.4L848.9,165.5L859.4,171.4L869.8,177.2L880.3,184.2L890.8,192.4L901.2,201.1L911.7,209.2L922.2,216.2L932.6,222.2L943.1,227.5L953.6,232.3L964.0,236.8L974.5,241.0"/>
<path d="M580.7,183.8L598.7,181.8L616.8,179.3L634.8,176.6L652.9,175.0L670.9,169.4L681.4,166.0L691.9,163.8L702.3,163.0L712.8,161.4L723.3,158.9L733.7,155.8L744.2,152.7L754.7,150.0L765.1,147.4L775.6,144.8L786.1,142.2L796.5,140.3L807.0,140.4L817.5,143.7L828.0,150.3L838.4,158.4L848.9,165.8L859.4,171.9L869.8,177.8L880.3,184.8L890.8,193.1L901.2,201.7L911.7,209.7L922.2,216.5L932.6,222.4L943.1,227.4L953.6,232.0L964.0,236.2L974.5,240.3"/>
<path d="M580.7,184.7L598.7,183.1L616.8,180.6L634.8,177.5L652.9,175.4L670.9,169.4L681.4,165.9L691.9,163.8L702.3,163.2L712.8,161.9L723.3,159.7L733.7,156.8L744.2,153.7L754.7,150.8L765.1,148.0L775.6,145.1L786.1,142.2L796.5,140.0L807.0,139.7L817.5,142.7L828.0,149.1L838.4,157.1L848.9,164.4L859.4,170.6L869.8,176.7L880.3,183.9L890.8,192.5L901.2,201.4L911.7,209.7L922.2,216.8L932.6,222.9L943.1,228.2L953.6,232.9L964.0,237.1L974.5,241.1"/>
<path d="M580.7,184.0L598.7,183.1L616.8,181.1L634.8,178.2L652.9,175.9L670.9,169.4L681.4,165.7L691.9,163.3L702.3,162.7L712.8,161.6L723.3,159.7L733.7,157.3L744.2,154.7L754.7,152.1L765.1,149.5L775.6,146.8L786.1,143.9L796.5,141.5L807.0,141.0L817.5,143.6L828.0,149.5L838.4,157.0L848.9,163.8L859.4,169.4L869.8,175.1L880.3,182.0L890.8,190.4L901.2,199.3L911.7,207.7L922.2,215.1L932.6,221.6L943.1,227.4L953.6,232.6L964.0,237.5L974.5,242.0"/>
<path d="M580.7,178.0L598.7,176.5L616.8,174.6L634.8,172.0L652.9,170.1L670.9,169.4L681.4,161.3L691.9,152.7L702.3,144.1L712.8,136.0L723.3,128.6L733.7,121.6L744.2,115.1L754.7,109.0L765.1,103.2L775.6,97.8L786.1,92.9L796.5,88.5L807.0,85.5L817.5,84.4L828.0,85.2L838.4,88.6L848.9,94.0L859.4,101.1L869.8,110.3L880.3,121.8L890.8,135.6L901.2,149.6L911.7,161.6L922.2,170.8L932.6,177.7L943.1,182.5L953.6,185.7L964.0,187.8L974.5,189.3"/>
<path d="M580.7,177.5L598.7,176.1L616.8,174.1L634.8,171.6L652.9,169.7L670.9,169.4L681.4,160.9L691.9,152.3L702.3,143.8L712.8,135.7L723.3,128.3L733.7,121.4L744.2,114.8L754.7,108.7L765.1,102.9L775.6,97.5L786.1,92.5L796.5,88.2L807.0,85.2L817.5,84.0L828.0,84.7L838.4,88.2L848.9,93.6L859.4,100.7L869.8,109.8L880.3,121.3L890.8,135.1L901.2,149.1L911.7,161.1L922.2,170.4L932.6,177.3L943.1,182.0L953.6,185.2L964.0,187.4L974.5,188.9"/>
<path d="M580.7,176.5L598.7,175.1L616.8,173.1L634.8,170.5L652.9,168.6L670.9,169.4L681.4,159.9L691.9,151.3L702.3,142.7L712.8,134.6L723.3,127.2L733.7,120.2L744.2,113.7L754.7,107.5L765.1,101.8L775.6,96.4L786.1,91.4L796.5,87.1L807.0,84.1L817.5,82.9L828.0,83.7L838.4,87.2L848.9,92.5L859.4,99.6L869.8,108.8L880.3,120.3L890.8,134.1L901.2,148.1L911.7,160.1L922.2,169.4L932.6,176.3L943.1,181.0L953.6,184.2L964.0,186.4L974.5,187.9"/>
<path d="M580.7,261.3L598.7,243.6L616.8,224.4L634.8,203.6L652.9,184.8L670.9,169.4L681.4,169.3L691.9,168.9L702.3,168.1L712.8,166.7L723.3,164.5L733.7,161.8L744.2,159.0L754.7,156.4L765.1,153.9L775.6,151.4L786.1,148.7L796.5,146.6L807.0,146.4L817.5,149.4L828.0,155.7L838.4,163.4L848.9,170.4L859.4,176.2L869.8,182.0L880.3,188.8L890.8,197.1L901.2,205.9L911.7,214.0L922.2,221.1L932.6,227.3L943.1,232.8L953.6,237.7L964.0,242.3L974.5,246.6"/>
<path d="M580.7,261.6L598.7,244.0L616.8,224.8L634.8,203.9L652.9,185.1L670.9,169.4L681.4,169.6L691.9,169.1L702.3,168.3L712.8,166.9L723.3,164.7L733.7,162.0L744.2,159.3L754.7,156.7L765.1,154.3L775.6,151.8L786.1,149.1L796.5,147.1L807.0,146.9L817.5,149.9L828.0,156.1L838.4,163.8L848.9,170.8L859.4,176.5L869.8,182.2L880.3,189.1L890.8,197.3L901.2,206.0L911.7,214.2L922.2,221.3L932.6,227.5L943.1,232.9L953.6,237.9L964.0,242.5L974.5,246.9"/>
<path d="M580.7,262.7L598.7,245.0L616.8,225.8L634.8,205.0L652.9,186.2L670.9,169.4L681.4,170.6L691.9,170.3L702.3,169.5L712.8,168.1L723.3,165.9L733.7,163.2L744.2,160.4L754.7,157.9L765.1,155.4L775.6,152.8L786.1,150.2L796.5,148.1L807.0,147.8L817.5,150.8L828.0,157.1L838.4,164.8L848.9,171.8L859.4,177.6L869.8,183.4L880.3,190.2L890.8,198.5L901.2,207.3L911.7,215.4L922.2,222.5L932.6,228.7L943.1,234.1L953.6,239.1L964.0,243.6L974.5,247.9"/>
<path d="M580.7,227.9L598.7,217.8L616.8,205.5L634.8,190.6L652.9,178.0L670.9,169.4L681.4,169.5L691.9,169.4L702.3,169.2L712.8,168.6L723.3,167.5L733.7,166.2L744.2,164.8L754.7,163.5L765.1,162.2L775.6,161.0L786.1,159.5L796.5,158.1L807.0,156.9L817.5,156.5L828.0,156.8L838.4,158.0L848.9,159.4L859.4,160.6L869.8,161.8L880.3,163.4L890.8,165.3L901.2,167.3L911.7,169.1L922.2,170.7L932.6,172.1L943.1,173.3L953.6,174.5L964.0,175.6L974.5,176.7"/>
</g>
<g stroke="#f00" stroke-opacity="0.6">
<path d="M580.7,199.6L598.7,193.5L616.8,187.3L634.8,180.6L652.9,174.5L670.9,169.4L681.4,165.3L691.9,161.0L702.3,156.8L712.8,152.9L723.3,149.4L733.7,145.8L744.2,142.3L754.7,138.4L765.1,134.4L775.6,131.1L786.1,128.6L796.5,126.9L807.0,125.9L817.5,125.4L828.0,125.5L838.4,126.3L848.9,127.1L859.4,127.7L869.8,128.0L880.3,128.1L890.8,128.0L901.2,127.7L911.7,127.2L922.2,126.4L932.6,125.3L943.1,123.8L953.6,122.0L964.0,119.9L974.5,117.8"/>
<path d="M580.7,212.2L598.7,203.4L616.8,195.0L634.8,186.1L652.9,177.4L670.9,169.4L681.4,163.2L691.9,156.6L702.3,150.0L712.8,144.0L723.3,138.7L733.7,133.7L744.2,128.9L754.7,123.8L765.1,119.0L775.6,115.3L786.1,113.4L796.5,112.8L807.0,112.9L817.5,113.4L828.0,114.2L838.4,115.9L848.9,117.7L859.4,119.1L869.8,120.3L880.3,121.3L890.8,122.1L901.2,123.0L911.7,123.9L922.2,124.8L932.6,125.6L943.1,126.2L953.6,126.4L964.0,126.1L974.5,125.2"/>
<path d="M580.7,223.9L598.7,213.1L616.8,201.5L634.8,189.6L652.9,178.9L670.9,169.4L681.4,162.2L691.9,154.8L702.3,147.9L712.8,142.0L723.3,137.2L733.7,132.5L744.2,127.2L754.7,120.9L765.1,114.3L775.6,108.5L786.1,104.4L796.5,101.9L807.0,101.1L817.5,100.8L828.0,101.1L838.4,102.3L848.9,103.6L859.4,104.4L869.8,104.9L880.3,105.0L890.8,104.8L901.2,105.0L911.7,105.2L922.2,105.0L932.6,104.0L943.1,102.3L953.6,99.6L964.0,96.1L974.5,92.2"/>
<path d="M580.7,205.3L598.7,198.6L616.8,190.2L634.8,181.6L652.9,174.7L670.9,169.4L681.4,165.2L691.9,161.1L702.3,157.3L712.8,153.9L723.3,150.6L733.7,147.1L744.2,142.9L754.7,138.1L765.1,133.1L775.6,128.6L786.1,125.4L796.5,123.5L807.0,122.8L817.5,123.0L828.0,124.1L838.4,126.2L848.9,128.4L859.4,130.1L869.8,131.4L880.3,132.1L890.8,132.3L901.2,132.0L911.7,131.5L922.2,130.7L932.6,129.9L943.1,128.9L953.6,127.9L964.0,126.8L974.5,125.6"/>
<path d="M580.7,215.3L598.7,205.8L616.8,195.9L634.8,185.9L652.9,177.0L670.9,169.4L681.4,163.5L691.9,157.5L702.3,151.7L712.8,146.7L723.3,142.4L733.7,138.2L744.2,133.7L754.7,128.4L765.1,122.9L775.6,118.2L786.1,114.9L796.5,112.8L807.0,111.6L817.5,110.9L828.0,110.9L838.4,111.8L848.9,112.7L859.4,113.2L869.8,113.3L880.3,113.0L890.8,112.4L901.2,111.5L911.7,110.1L922.2,108.3L932.6,105.9L943.1,102.7L953.6,98.8L964.0,94.5L974.5,90.1"/>
<path d="M580.7,199.2L598.7,191.9L616.8,185.1L634.8,178.9L652.9,173.7L670.9,169.4L681.4,165.8L691.9,162.2L702.3,158.8L712.8,155.5L723.3,152.3L733.7,148.9L744.2,145.2L754.7,141.0L765.1,136.8L775.6,132.9L786.1,130.0L796.5,128.0L807.0,126.8L817.5,126.3L828.0,126.6L838.4,127.9L848.9,129.6L859.4,131.3L869.8,133.0L880.3,134.4L890.8,135.7L901.2,136.8L911.7,137.6L922.2,138.0L932.6,138.2L943.1,138.1L953.6,137.8L964.0,137.4L974.5,137.0"/>
<path d="M580.7,218.3L598.7,209.4L616.8,199.7L634.8,188.9L652.9,178.5L670.9,169.4L681.4,162.5L691.9,155.0L702.3,147.6L712.8,140.9L723.3,135.1L733.7,129.6L744.2,124.2L754.7,118.3L765.1,112.4L775.6,107.8L786.1,105.2L796.5,104.1L807.0,104.0L817.5,104.4L828.0,105.3L838.4,107.4L848.9,109.9L859.4,112.2L869.8,114.2L880.3,116.1L890.8,117.8L901.2,119.4L911.7,120.7L922.2,121.7L932.6,122.2L943.1,122.3L953.6,121.9L964.0,120.8L974.5,119.3"/>
<path d="M580.7,189.4L598.7,185.0L616.8,180.7L634.8,176.2L652.9,172.3L670.9,169.4L681.4,166.9L691.9,164.4L702.3,161.9L712.8,159.6L723.3,157.4L733.7,155.2L744.2,152.8L754.7,150.3L765.1,147.8L775.6,145.3L786.1,143.2L796.5,141.3L807.0,139.8L817.5,138.9L828.0,138.5L838.4,138.4L848.9,138.2L859.4,137.5L869.8,136.6L880.3,135.4L890.8,134.0L901.2,132.4L911.7,130.6L922.2,128.6L932.6,126.4L943.1,124.0L953.6,121.3L964.0,118.5L974.5,116.2"/>
<path d="M580.7,194.7L598.7,189.2L616.8,183.4L634.8,177.6L652.9,172.9L670.9,169.4L681.4,166.5L691.9,163.6L702.3,160.9L712.8,158.5L723.3,156.2L733.7,154.1L744.2,151.8L754.7,149.3L765.1,146.8L775.6,144.3L786.1,142.2L796.5,140.3L807.0,138.8L817.5,137.8L828.0,137.4L838.4,137.6L848.9,138.3L859.4,139.1L869.8,140.0L880.3,141.1L890.8,142.3L901.2,143.7L911.7,145.1L922.2,146.7L932.6,148.2L943.1,149.8L953.6,151.3L964.0,152.8L974.5,154.0"/>
<path d="M580.7,213.2L598.7,205.1L616.8,196.6L634.8,187.0L652.9,177.6L670.9,169.4L681.4,163.1L691.9,156.4L702.3,150.0L712.8,144.3L723.3,139.8L733.7,135.8L744.2,131.9L754.7,127.4L765.1,123.0L775.6,119.2L786.1,116.7L796.5,114.9L807.0,113.7L817.5,112.7L828.0,112.0L838.4,112.5L848.9,113.5L859.4,114.8L869.8,116.3L880.3,118.1L890.8,120.3L901.2,122.7L911.7,125.2L922.2,127.7L932.6,129.8L943.1,131.5L953.6,132.6L964.0,133.1L974.5,132.8"/>
<path d="M580.7,223.9L598.7,213.1L616.8,201.8L634.8,189.9L652.9,179.0L670.9,169.4L681.4,162.1L691.9,154.5L702.3,147.3L712.8,141.1L723.3,135.7L733.7,130.6L744.2,125.0L754.7,118.4L765.1,111.8L775.6,106.7L786.1,103.5L796.5,101.9L807.0,101.1L817.5,100.8L828.0,101.1L838.4,102.3L848.9,104.3L859.4,107.8L869.8,111.4L880.3,115.3L890.8,119.2L901.2,123.2L911.7,127.1L922.2,130.7L932.6,134.1L943.1,137.0L953.6,139.4L964.0,141.2L974.5,141.9"/>
<path d="M580.7,207.4L598.7,201.1L616.8,193.4L634.8,184.4L652.9,176.2L670.9,169.4L681.4,164.2L691.9,158.9L702.3,153.8L712.8,149.5L723.3,146.2L733.7,143.3L744.2,140.1L754.7,136.2L765.1,132.1L775.6,128.3L786.1,125.1L796.5,122.6L807.0,120.5L817.5,118.9L828.0,117.9L838.4,118.0L848.9,118.8L859.4,119.7L869.8,120.9L880.3,122.3L890.8,123.8L901.2,125.3L911.7,126.6L922.2,127.7L932.6,128.3L943.1,128.4L953.6,128.0L964.0,127.1L974.5,125.9"/>
<path d="M580.7,223.6L598.7,213.1L616.8,201.9L634.8,190.2L652.9,179.1L670.9,169.4L681.4,162.1L691.9,154.4L702.3,147.0L712.8,140.6L723.3,135.5L733.7,130.9L744.2,126.1L754.7,120.5L765.1,114.8L775.6,110.1L786.1,107.0L796.5,105.3L807.0,104.3L817.5,103.7L828.0,103.5L838.4,104.4L848.9,105.5L859.4,106.4L869.8,107.1L880.3,107.8L890.8,108.5L901.2,109.2L911.7,109.9L922.2,110.3L932.6,110.2L943.1,109.6L953.6,108.2L964.0,106.0L974.5,103.2"/>
<path d="M580.7,209.7L598.7,200.5L616.8,191.8L634.8,183.5L652.9,176.0L670.9,169.4L681.4,164.2L691.9,158.6L702.3,153.1L712.8,148.0L723.3,143.5L733.7,139.3L744.2,135.3L754.7,131.3L765.1,127.5L775.6,124.6L786.1,122.9L796.5,122.0L807.0,121.6L817.5,121.2L828.0,121.1L838.4,121.2L848.9,120.8L859.4,119.9L869.8,118.7L880.3,117.3L890.8,115.9L901.2,114.5L911.7,113.1L922.2,111.4L932.6,109.2L943.1,106.4L953.6,102.9L964.0,98.8L974.5,94.9"/>
<path d="M580.7,208.1L598.7,200.0L616.8,192.6L634.8,184.6L652.9,176.6L670.9,169.4L681.4,163.8L691.9,157.8L702.3,152.0L712.8,146.8L723.3,142.6L733.7,139.1L744.2,135.9L754.7,132.3L765.1,128.7L775.6,125.6L786.1,123.2L796.5,121.3L807.0,119.7L817.5,118.2L828.0,117.0L838.4,117.2L848.9,118.5L859.4,120.6L869.8,123.4L880.3,126.9L890.8,131.1L901.2,135.7L911.7,140.5L922.2,145.2L932.6,149.7L943.1,153.8L953.6,157.7L964.0,161.0L974.5,163.4"/>
<path d="M580.7,197.8L598.7,191.4L616.8,185.5L634.8,179.6L652.9,174.2L670.9,169.4L681.4,165.5L691.9,161.5L702.3,157.5L712.8,153.7L723.3,150.1L733.7,146.3L744.2,142.4L754.7,138.2L765.1,133.8L775.6,130.1L786.1,127.3L796.5,125.5L807.0,124.5L817.5,124.1L828.0,124.4L838.4,125.7L848.9,127.3L859.4,128.8L869.8,130.2L880.3,131.5L890.8,132.6L901.2,133.5L911.7,134.1L922.2,134.4L932.6,134.4L943.1,134.1L953.6,133.5L964.0,132.7L974.5,131.9"/>
<path d="M580.7,187.9L598.7,183.9L616.8,180.4L634.8,176.3L652.9,172.4L670.9,169.4L681.4,166.8L691.9,164.1L702.3,161.3L712.8,158.8L723.3,156.7L733.7,155.1L744.2,153.7L754.7,152.3L765.1,150.8L775.6,149.2L786.1,147.3L796.5,145.1L807.0,142.9L817.5,141.0L828.0,139.6L838.4,139.0L848.9,138.8L859.4,139.1L869.8,139.7L880.3,140.7L890.8,141.9L901.2,143.2L911.7,144.5L922.2,145.4L932.6,146.2L943.1,146.7L953.6,147.0L964.0,147.4L974.5,147.8"/>
<path d="M580.7,218.2L598.7,208.0L616.8,197.3L634.8,186.8L652.9,177.5L670.9,169.4L681.4,163.2L691.9,156.7L702.3,150.4L712.8,144.8L723.3,139.8L733.7,134.8L744.2,129.5L754.7,123.7L765.1,117.9L775.6,113.4L786.1,110.7L796.5,109.6L807.0,109.5L817.5,109.9L828.0,110.9L838.4,112.8L848.9,114.8L859.4,116.3L869.8,117.5L880.3,118.3L890.8,119.0L901.2,119.5L911.7,120.0L922.2,120.5L932.6,120.7L943.1,120.6L953.6,120.1L964.0,119.0L974.5,117.4"/>
<path d="M580.7,202.2L598.7,196.4L616.8,189.3L634.8,181.4L652.9,174.7L670.9,169.4L681.4,165.3L691.9,161.1L702.3,157.3L712.8,153.9L723.3,151.0L733.7,148.2L744.2,144.9L754.7,141.0L765.1,136.8L775.6,132.8L786.1,129.6L796.5,127.2L807.0,125.6L817.5,124.7L828.0,124.6L838.4,125.6L848.9,127.0L859.4,128.2L869.8,129.3L880.3,130.1L890.8,130.7L901.2,130.9L911.7,130.8L922.2,130.3L932.6,129.5L943.1,128.4L953.6,127.1L964.0,125.6L974.5,124.2"/>
<path d="M580.7,209.1L598.7,202.8L616.8,194.6L634.8,185.0L652.9,176.4L670.9,169.4L681.4,164.1L691.9,158.7L702.3,153.8L712.8,149.7L723.3,146.3L733.7,143.1L744.2,139.1L754.7,134.1L765.1,128.7L775.6,123.5L786.1,119.4L796.5,116.5L807.0,114.7L817.5,113.8L828.0,114.0L838.4,115.3L848.9,116.7L859.4,117.8L869.8,118.3L880.3,118.2L890.8,117.4L901.2,115.9L911.7,113.8L922.2,111.0L932.6,107.6L943.1,103.7L953.6,99.3L964.0,94.7L974.5,90.3"/>
<path d="M580.7,191.0L598.7,186.4L616.8,181.4L634.8,176.2L652.9,172.2L670.9,169.4L681.4,167.0L691.9,164.6L702.3,162.2L712.8,160.0L723.3,157.8L733.7,155.7L744.2,153.7L754.7,151.6L765.1,149.6L775.6,147.8L786.1,146.1L796.5,144.6L807.0,143.5L817.5,142.8L828.0,142.7L838.4,143.0L848.9,143.2L859.4,143.3L869.8,143.1L880.3,142.8L890.8,142.3L901.2,141.8L911.7,141.2L922.2,140.4L932.6,139.6L943.1,138.7L953.6,137.8L964.0,137.0L974.5,136.4"/>
<path d="M580.7,204.7L598.7,198.5L616.8,190.8L634.8,182.3L652.9,175.0L670.9,169.4L681.4,165.1L691.9,160.6L702.3,156.4L712.8,153.0L723.3,150.2L733.7,147.7L744.2,144.9L754.7,141.6L765.1,138.1L775.6,134.6L786.1,131.6L796.5,129.1L807.0,127.0L817.5,125.4L828.0,124.3L838.4,124.1L848.9,124.1L859.4,124.1L869.8,124.2L880.3,124.3L890.8,124.4L901.2,124.5L911.7,124.5L922.2,124.2L932.6,123.4L943.1,122.2L953.6,120.4L964.0,118.2L974.5,116.0"/>
<path d="M580.7,205.3L598.7,198.8L616.8,191.0L634.8,182.6L652.9,175.2L670.9,169.4L681.4,164.9L691.9,160.2L702.3,155.7L712.8,151.8L723.3,148.6L733.7,145.8L744.2,142.9L754.7,139.7L765.1,136.4L775.6,133.6L786.1,131.3L796.5,129.5L807.0,128.2L817.5,127.2L828.0,126.6L838.4,127.1L848.9,128.4L859.4,130.0L869.8,132.1L880.3,134.6L890.8,137.5L901.2,140.8L911.7,144.4L922.2,148.3L932.6,152.2L943.1,156.2L953.6,160.0L964.0,163.5L974.5,166.1"/>
<path d="M580.7,195.6L598.7,191.0L616.8,184.7L634.8,178.0L652.9,172.9L670.9,169.4L681.4,166.5L691.9,163.7L702.3,161.2L712.8,158.7L723.3,156.3L733.7,153.5L744.2,150.2L754.7,146.5L765.1,142.7L775.6,139.2L786.1,136.6L796.5,134.9L807.0,134.2L817.5,134.4L828.0,135.4L838.4,137.1L848.9,138.8L859.4,140.1L869.8,140.9L880.3,141.2L890.8,141.1L901.2,140.7L911.7,140.2L922.2,139.7L932.6,139.2L943.1,138.8L953.6,138.5L964.0,138.3L974.5,138.0"/>
<path d="M580.7,215.1L598.7,205.7L616.8,196.4L634.8,186.8L652.9,177.6L670.9,169.4L681.4,163.0L691.9,156.4L702.3,149.8L712.8,143.9L723.3,138.7L733.7,133.8L744.2,128.8L754.7,123.2L765.1,117.6L775.6,113.2L786.1,110.5L796.5,109.2L807.0,108.9L817.5,109.0L828.0,109.7L838.4,111.7L848.9,114.4L859.4,117.2L869.8,120.0L880.3,122.9L890.8,125.8L901.2,128.8L911.7,131.8L922.2,134.6L932.6,137.4L943.1,139.9L953.6,142.1L964.0,143.9L974.5,144.7"/>
<path d="M580.7,215.4L598.7,206.3L616.8,195.9L634.8,185.4L652.9,176.6L670.9,169.4L681.4,163.9L691.9,158.3L702.3,153.1L712.8,148.6L723.3,144.7L733.7,140.8L744.2,136.1L754.7,130.5L765.1,124.5L775.6,119.2L786.1,115.3L796.5,112.7L807.0,111.3L817.5,110.7L828.0,111.1L838.4,113.1L848.9,115.8L859.4,118.8L869.8,121.8L880.3,124.6L890.8,127.3L901.2,129.7L911.7,131.7L922.2,133.4L932.6,134.8L943.1,135.8L953.6,136.6L964.0,137.0L974.5,137.0"/>
<path d="M580.7,192.5L598.7,187.1L616.8,182.1L634.8,177.1L652.9,172.8L670.9,169.4L681.4,166.5L691.9,163.5L702.3,160.3L712.8,157.3L723.3,154.3L733.7,151.3L744.2,148.5L754.7,145.8L765.1,143.3L775.6,141.2L786.1,139.8L796.5,138.9L807.0,138.4L817.5,138.3L828.0,138.7L838.4,139.7L848.9,140.8L859.4,142.0L869.8,143.1L880.3,144.2L890.8,145.5L901.2,146.8L911.7,148.4L922.2,150.1L932.6,151.9L943.1,154.0L953.6,156.1L964.0,158.2L974.5,160.0"/>
<path d="M580.7,190.8L598.7,185.0L616.8,180.8L634.8,176.8L652.9,172.8L670.9,169.4L681.4,166.5L691.9,163.2L702.3,159.8L712.8,156.6L723.3,153.9L733.7,151.7L744.2,150.2L754.7,149.0L765.1,148.0L775.6,147.1L786.1,146.0L796.5,144.4L807.0,142.6L817.5,140.7L828.0,139.0L838.4,137.5L848.9,136.0L859.4,134.6L869.8,133.5L880.3,132.8L890.8,132.4L901.2,132.1L911.7,131.7L922.2,131.0L932.6,129.8L943.1,128.1L953.6,125.9L964.0,123.6L974.5,121.7"/>
<path d="M580.7,204.4L598.7,197.5L616.8,190.3L634.8,182.5L652.9,175.4L670.9,169.4L681.4,164.7L691.9,159.7L702.3,154.8L712.8,150.4L723.3,146.5L733.7,142.7L744.2,138.7L754.7,134.4L765.1,130.0L775.6,126.3L786.1,123.6L796.5,121.9L807.0,120.8L817.5,120.3L828.0,120.3L838.4,121.4L848.9,123.0L859.4,124.6L869.8,126.3L880.3,128.1L890.8,130.0L901.2,131.9L911.7,133.7L922.2,135.5L932.6,137.1L943.1,138.5L953.6,139.5L964.0,140.2L974.5,140.5"/>
<path d="M580.7,187.2L598.7,185.0L616.8,181.4L634.8,176.4L652.9,172.1L670.9,169.4L681.4,167.1L691.9,164.8L702.3,162.7L712.8,161.0L723.3,159.7L733.7,158.6L744.2,157.3L754.7,155.8L765.1,154.0L775.6,151.7L786.1,149.0L796.5,146.1L807.0,143.5L817.5,141.4L828.0,139.9L838.4,139.2L848.9,138.9L859.4,138.8L869.8,139.0L880.3,139.2L890.8,139.5L901.2,139.7L911.7,139.6L922.2,139.1L932.6,138.3L943.1,137.2L953.6,135.8L964.0,134.4L974.5,133.5"/>
<path d="M580.7,204.1L598.7,196.5L616.8,188.7L634.8,181.0L652.9,174.6L670.9,169.4L681.4,165.3L691.9,161.2L702.3,157.4L712.8,154.1L723.3,151.2L733.7,148.5L744.2,145.3L754.7,141.7L765.1,137.9L775.6,134.4L786.1,131.5L796.5,129.2L807.0,127.4L817.5,126.2L828.0,125.6L838.4,125.9L848.9,126.6L859.4,127.4L869.8,128.3L880.3,129.4L890.8,130.5L901.2,131.7L911.7,132.9L922.2,134.0L932.6,134.9L943.1,135.5L953.6,135.7L964.0,135.6L974.5,135.3"/>
<path d="M580.7,182.3L598.7,180.3L616.8,177.9L634.8,174.4L652.9,171.4L670.9,169.4L681.4,167.6L691.9,165.6L702.3,163.3L712.8,161.0L723.3,158.6L733.7,156.3L744.2,154.5L754.7,153.0L765.1,151.8L775.6,150.9L786.1,150.2L796.5,149.6L807.0,149.2L817.5,149.3L828.0,149.8L838.4,150.2L848.9,150.1L859.4,149.4L869.8,148.2L880.3,146.6L890.8,144.6L901.2,142.3L911.7,139.9L922.2,137.5L932.6,135.0L943.1,132.5L953.6,130.2L964.0,128.0L974.5,126.5"/>
<path d="M580.7,181.1L598.7,178.4L616.8,175.6L634.8,172.6L652.9,170.6L670.9,169.4L681.4,168.1L691.9,166.8L702.3,165.3L712.8,163.7L723.3,162.0L733.7,160.5L744.2,159.3L754.7,158.6L765.1,158.0L775.6,157.0L786.1,155.5L796.5,153.8L807.0,152.5L817.5,151.6L828.0,151.3L838.4,151.6L848.9,150.9L859.4,149.1L869.8,147.1L880.3,144.8L890.8,142.5L901.2,140.2L911.7,137.8L922.2,135.5L932.6,133.0L943.1,130.5L953.6,127.8L964.0,125.3L974.5,123.4"/>
<path d="M580.7,199.6L598.7,194.0L616.8,188.0L634.8,181.2L652.9,174.8L670.9,169.4L681.4,165.1L691.9,160.6L702.3,155.9L712.8,151.6L723.3,147.6L733.7,143.7L744.2,140.0L754.7,136.0L765.1,132.2L775.6,129.1L786.1,127.1L796.5,126.0L807.0,125.5L817.5,125.6L828.0,126.2L838.4,127.7L848.9,129.4L859.4,130.9L869.8,132.3L880.3,133.5L890.8,134.7L901.2,135.6L911.7,136.4L922.2,137.1L932.6,137.6L943.1,137.9L953.6,138.0L964.0,138.0L974.5,137.8"/>
<path d="M580.7,205.6L598.7,198.8L616.8,191.5L634.8,183.5L652.9,175.9L670.9,169.4L681.4,164.4L691.9,159.0L702.3,153.6L712.8,148.8L723.3,144.5L733.7,140.5L744.2,136.7L754.7,132.5L765.1,128.5L775.6,125.3L786.1,123.3L796.5,122.2L807.0,121.8L817.5,121.8L828.0,122.2L838.4,123.6L848.9,125.2L859.4,126.6L869.8,128.0L880.3,129.3L890.8,130.6L901.2,131.9L911.7,133.2L922.2,134.4L932.6,135.6L943.1,136.6L953.6,137.4L964.0,137.9L974.5,137.9"/>
<path d="M580.7,215.9L598.7,205.2L616.8,195.0L634.8,185.5L652.9,177.0L670.9,169.4L681.4,163.5L691.9,157.4L702.3,151.4L712.8,146.0L723.3,141.0L733.7,135.9L744.2,130.5L754.7,124.4L765.1,118.3L775.6,113.3L786.1,110.3L796.5,108.8L807.0,108.6L817.5,109.0L828.0,110.2L838.4,112.5L848.9,114.8L859.4,116.6L869.8,118.0L880.3,118.8L890.8,119.2L901.2,119.1L911.7,118.6L922.2,117.7L932.6,116.4L943.1,114.7L953.6,112.5L964.0,110.0L974.5,107.3"/>
<path d="M580.7,200.8L598.7,194.9L616.8,188.8L634.8,181.9L652.9,175.2L670.9,169.4L681.4,164.8L691.9,159.9L702.3,154.9L712.8,150.2L723.3,145.9L733.7,141.6L744.2,137.5L754.7,133.1L765.1,128.7L775.6,125.2L786.1,122.9L796.5,121.7L807.0,121.3L817.5,121.4L828.0,122.1L838.4,123.8L848.9,125.9L859.4,127.8L869.8,129.7L880.3,131.4L890.8,132.9L901.2,134.4L911.7,135.6L922.2,136.6L932.6,137.4L943.1,138.0L953.6,138.3L964.0,138.4L974.5,138.2"/>
<path d="M580.7,199.1L598.7,193.2L616.8,187.0L634.8,180.4L652.9,174.4L670.9,169.4L681.4,165.4L691.9,161.3L702.3,157.2L712.8,153.3L723.3,149.8L733.7,146.4L744.2,143.0L754.7,139.4L765.1,135.8L775.6,132.7L786.1,130.5L796.5,129.0L807.0,128.1L817.5,127.8L828.0,128.0L838.4,128.8L848.9,129.3L859.4,129.4L869.8,129.1L880.3,128.4L890.8,127.4L901.2,126.1L911.7,124.6L922.2,122.7L932.6,120.5L943.1,117.9L953.6,114.9L964.0,111.7L974.5,108.8"/>
<path d="M580.7,203.4L598.7,195.7L616.8,187.7L634.8,180.3L652.9,174.2L670.9,169.4L681.4,165.5L691.9,161.7L702.3,158.1L712.8,154.9L723.3,151.9L733.7,148.7L744.2,145.1L754.7,140.9L765.1,136.5L775.6,132.4L786.1,129.2L796.5,126.9L807.0,125.4L817.5,124.6L828.0,124.6L838.4,125.7L848.9,127.1L859.4,128.3L869.8,129.5L880.3,130.4L890.8,131.1L901.2,131.5L911.7,131.5L922.2,131.1L932.6,130.4L943.1,129.2L953.6,127.8L964.0,126.2L974.5,124.7"/>
<path d="M580.7,220.3L598.7,209.7L616.8,199.3L634.8,188.7L652.9,178.6L670.9,169.4L681.4,162.4L691.9,154.9L702.3,147.6L712.8,141.1L723.3,135.4L733.7,130.1L744.2,124.7L754.7,118.7L765.1,112.8L775.6,108.1L786.1,105.5L796.5,104.5L807.0,104.3L817.5,104.6L828.0,105.4L838.4,107.6L848.9,110.4L859.4,113.3L869.8,116.3L880.3,119.4L890.8,122.6L901.2,125.9L911.7,129.4L922.2,132.9L932.6,136.3L943.1,139.6L953.6,142.5L964.0,144.7L974.5,145.9"/>
<path d="M580.7,203.1L598.7,196.5L616.8,189.2L634.8,181.5L652.9,174.8L670.9,169.4L681.4,165.1L691.9,160.7L702.3,156.3L712.8,152.2L723.3,148.7L733.7,145.3L744.2,141.9L754.7,138.3L765.1,134.7L775.6,131.7L786.1,129.5L796.5,128.1L807.0,127.2L817.5,126.9L828.0,127.1L838.4,128.1L848.9,129.4L859.4,130.6L869.8,131.8L880.3,132.9L890.8,134.0L901.2,135.1L911.7,136.1L922.2,137.0L932.6,137.7L943.1,138.3L953.6,138.7L964.0,138.8L974.5,138.7"/>
<path d="M580.7,205.9L598.7,198.1L616.8,190.2L634.8,182.2L652.9,175.2L670.9,169.4L681.4,164.8L691.9,160.1L702.3,155.8L712.8,152.0L723.3,148.8L733.7,145.8L744.2,142.6L754.7,138.9L765.1,135.1L775.6,131.8L786.1,129.3L796.5,127.4L807.0,126.1L817.5,125.3L828.0,125.0L838.4,125.7L848.9,126.7L859.4,127.8L869.8,129.0L880.3,130.4L890.8,131.8L901.2,133.4L911.7,135.1L922.2,136.8L932.6,138.4L943.1,139.9L953.6,141.1L964.0,142.1L974.5,142.5"/>
<path d="M580.7,193.2L598.7,188.0L616.8,182.3L634.8,176.8L652.9,172.5L670.9,169.4L681.4,166.8L691.9,164.1L702.3,161.5L712.8,158.9L723.3,156.3L733.7,153.6L744.2,150.8L754.7,148.0L765.1,145.2L775.6,142.8L786.1,140.9L796.5,139.6L807.0,138.9L817.5,138.8L828.0,139.2L838.4,139.9L848.9,140.2L859.4,139.9L869.8,139.2L880.3,138.1L890.8,136.6L901.2,135.0L911.7,133.2L922.2,131.3L932.6,129.2L943.1,127.1L953.6,124.8L964.0,122.6L974.5,120.6"/>
<path d="M580.7,196.8L598.7,190.1L616.8,184.0L634.8,178.4L652.9,173.5L670.9,169.4L681.4,166.0L691.9,162.5L702.3,159.0L712.8,155.5L723.3,152.1L733.7,148.5L744.2,144.9L754.7,141.1L765.1,137.4L775.6,134.4L786.1,132.3L796.5,131.2L807.0,130.7L817.5,131.0L828.0,131.8L838.4,133.5L848.9,135.4L859.4,137.2L869.8,138.7L880.3,140.1L890.8,141.3L901.2,142.3L911.7,143.2L922.2,144.1L932.6,144.9L943.1,145.7L953.6,146.6L964.0,147.5L974.5,148.2"/>
<path d="M580.7,217.7L598.7,207.6L616.8,197.7L634.8,187.5L652.9,178.0L670.9,169.4L681.4,162.8L691.9,155.9L702.3,149.4L712.8,143.7L723.3,138.8L733.7,134.2L744.2,129.1L754.7,123.2L765.1,117.2L775.6,112.0L786.1,108.5L796.5,106.4L807.0,105.2L817.5,104.5L828.0,104.4L838.4,105.9L848.9,108.1L859.4,110.6L869.8,113.3L880.3,116.2L890.8,119.3L901.2,122.4L911.7,125.7L922.2,128.7L932.6,131.5L943.1,133.8L953.6,135.7L964.0,136.8L974.5,137.0"/>
<path d="M580.7,201.5L598.7,194.4L616.8,187.3L634.8,180.4L652.9,174.4L670.9,169.4L681.4,165.4L691.9,161.4L702.3,157.5L712.8,153.9L723.3,150.6L733.7,147.4L744.2,143.8L754.7,139.9L765.1,135.9L775.6,132.3L786.1,129.5L796.5,127.6L807.0,126.4L817.5,125.7L828.0,125.7L838.4,127.0L848.9,129.0L859.4,131.2L869.8,133.7L880.3,136.4L890.8,139.3L901.2,142.2L911.7,145.1L922.2,147.9L932.6,150.7L943.1,153.3L953.6,155.9L964.0,158.3L974.5,160.2"/>
<path d="M580.7,222.4L598.7,211.3L616.8,200.2L634.8,189.1L652.9,178.7L670.9,169.4L681.4,162.3L691.9,154.9L702.3,148.0L712.8,141.9L723.3,136.8L733.7,131.9L744.2,126.5L754.7,120.3L765.1,113.9L775.6,108.4L786.1,104.8L796.5,102.6L807.0,101.5L817.5,100.8L828.0,101.1L838.4,102.4L848.9,104.8L859.4,107.4L869.8,110.3L880.3,113.3L890.8,116.5L901.2,119.8L911.7,123.1L922.2,126.2L932.6,128.9L943.1,131.2L953.6,132.8L964.0,133.7L974.5,133.7"/>
<path d="M580.7,184.9L598.7,180.8L616.8,176.8L634.8,173.2L652.9,170.8L670.9,169.4L681.4,168.0L691.9,166.6L702.3,165.3L712.8,163.7L723.3,161.9L733.7,159.9L744.2,157.7L754.7,155.6L765.1,153.4L775.6,151.4L786.1,149.5L796.5,147.9L807.0,146.8L817.5,146.4L828.0,146.7L838.4,147.4L848.9,148.1L859.4,148.6L869.8,148.8L880.3,148.8L890.8,148.6L901.2,148.1L911.7,147.3L922.2,146.5L932.6,145.6L943.1,144.7L953.6,144.0L964.0,143.6L974.5,143.5"/>
<path d="M580.7,185.6L598.7,181.6L616.8,177.4L634.8,173.4L652.9,170.8L670.9,169.4L681.4,168.0L691.9,166.8L702.3,165.7L712.8,164.7L723.3,163.6L733.7,162.2L744.2,160.8L754.7,159.5L765.1,158.3L775.6,157.0L786.1,155.5L796.5,153.8L807.0,152.5L817.5,151.6L828.0,151.3L838.4,150.5L848.9,149.1L859.4,147.2L869.8,144.9L880.3,142.3L890.8,139.3L901.2,136.2L911.7,132.9L922.2,129.5L932.6,126.0L943.1,122.3L953.6,118.5L964.0,114.8L974.5,111.9"/>
<path d="M580.7,190.8L598.7,186.9L616.8,182.1L634.8,176.8L652.9,172.4L670.9,169.4L681.4,166.9L691.9,164.3L702.3,161.7L712.8,159.4L723.3,157.3L733.7,155.4L744.2,153.5L754.7,151.6L765.1,149.6L775.6,147.6L786.1,145.7L796.5,143.9L807.0,142.4L817.5,141.2L828.0,140.6L838.4,140.5L848.9,140.3L859.4,140.0L869.8,139.8L880.3,139.5L890.8,139.2L901.2,139.0L911.7,138.7L922.2,138.4L932.6,138.0L943.1,137.4L953.6,136.7L964.0,136.0L974.5,135.3"/>
<path d="M580.7,198.0L598.7,190.7L616.8,184.0L634.8,178.0L652.9,173.3L670.9,169.4L681.4,166.1L691.9,162.8L702.3,159.4L712.8,156.0L723.3,152.5L733.7,148.9L744.2,145.2L754.7,141.4L765.1,137.8L775.6,135.0L786.1,133.4L796.5,132.6L807.0,132.6L817.5,133.2L828.0,134.4L838.4,136.1L848.9,137.6L859.4,138.7L869.8,139.4L880.3,139.7L890.8,139.7L901.2,139.5L911.7,139.3L922.2,139.2L932.6,139.1L943.1,139.1L953.6,139.1L964.0,139.2L974.5,139.1"/>
<path d="M580.7,209.7L598.7,201.1L616.8,192.6L634.8,184.0L652.9,176.2L670.9,169.4L681.4,164.1L691.9,158.6L702.3,153.4L712.8,148.8L723.3,144.8L733.7,140.9L744.2,136.7L754.7,131.8L765.1,126.9L775.6,122.5L786.1,119.4L796.5,117.4L807.0,116.1L817.5,115.3L828.0,115.1L838.4,116.2L848.9,117.7L859.4,119.3L869.8,120.9L880.3,122.6L890.8,124.4L901.2,126.2L911.7,127.9L922.2,129.4L932.6,130.6L943.1,131.5L953.6,131.9L964.0,131.8L974.5,131.3"/>
<path d="M580.7,208.1L598.7,200.0L616.8,192.8L634.8,184.9L652.9,176.7L670.9,169.4L681.4,163.7L691.9,157.5L702.3,151.4L712.8,145.9L723.3,141.6L733.7,137.9L744.2,134.6L754.7,131.2L765.1,127.8L775.6,125.0L786.1,123.1L796.5,121.5L807.0,120.1L817.5,118.7L828.0,117.5L838.4,117.3L848.9,117.5L859.4,118.1L869.8,119.2L880.3,120.8L890.8,122.8L901.2,125.3L911.7,128.0L922.2,130.5L932.6,132.7L943.1,134.4L953.6,135.5L964.0,136.0L974.5,135.8"/>
<path d="M580.7,220.2L598.7,209.1L616.8,197.7L634.8,187.0L652.9,177.7L670.9,169.4L681.4,163.0L691.9,156.3L702.3,149.7L712.8,143.6L723.3,138.1L733.7,132.6L744.2,127.1L754.7,121.3L765.1,115.9L775.6,111.9L786.1,110.1L796.5,109.8L807.0,110.3L817.5,111.0L828.0,112.0L838.4,113.7L848.9,115.4L859.4,116.7L869.8,117.8L880.3,118.8L890.8,120.0L901.2,121.5L911.7,123.3L922.2,125.2L932.6,127.1L943.1,128.7L953.6,129.8L964.0,130.2L974.5,129.8"/>
<path d="M580.7,200.3L598.7,194.6L616.8,188.1L634.8,180.9L652.9,174.5L670.9,169.4L681.4,165.4L691.9,161.1L702.3,156.8L712.8,152.7L723.3,149.0L733.7,145.5L744.2,142.2L754.7,138.7L765.1,135.3L775.6,132.5L786.1,130.7L796.5,129.5L807.0,129.0L817.5,128.9L828.0,129.4L838.4,130.1L848.9,130.3L859.4,129.6L869.8,128.4L880.3,126.5L890.8,124.0L901.2,121.1L911.7,117.8L922.2,114.0L932.6,109.7L943.1,105.0L953.6,99.7L964.0,94.3L974.5,89.6"/>
<path d="M580.7,210.7L598.7,201.9L616.8,192.6L634.8,183.5L652.9,175.7L670.9,169.4L681.4,164.5L691.9,159.5L702.3,154.9L712.8,151.1L723.3,147.9L733.7,145.0L744.2,141.7L754.7,137.8L765.1,133.8L775.6,130.1L786.1,127.2L796.5,125.0L807.0,123.3L817.5,122.0L828.0,121.3L838.4,121.6L848.9,122.5L859.4,123.6L869.8,125.0L880.3,126.6L890.8,128.4L901.2,130.5L911.7,132.8L922.2,135.1L932.6,137.3L943.1,139.3L953.6,141.0L964.0,142.2L974.5,142.8"/>
<path d="M580.7,202.8L598.7,196.1L616.8,188.6L634.8,180.8L652.9,174.3L670.9,169.4L681.4,165.6L691.9,161.5L702.3,157.6L712.8,154.1L723.3,151.2L733.7,148.5L744.2,145.9L754.7,143.1L765.1,140.3L775.6,138.0L786.1,136.3L796.5,135.0L807.0,134.2L817.5,133.8L828.0,133.9L838.4,134.7L848.9,135.8L859.4,136.9L869.8,138.1L880.3,139.4L890.8,140.8L901.2,142.2L911.7,143.8L922.2,145.3L932.6,147.0L943.1,148.7L953.6,150.3L964.0,151.9L974.5,153.1"/>
<path d="M580.7,217.0L598.7,207.8L616.8,197.5L634.8,186.8L652.9,177.3L670.9,169.4L681.4,163.4L691.9,157.1L702.3,151.1L712.8,146.1L723.3,141.9L733.7,138.3L744.2,134.4L754.7,129.8L765.1,125.2L775.6,121.3L786.1,118.5L796.5,116.7L807.0,115.5L817.5,114.6L828.0,114.2L838.4,114.7L848.9,115.4L859.4,115.8L869.8,116.2L880.3,116.5L890.8,116.9L901.2,117.2L911.7,117.6L922.2,117.8L932.6,117.8L943.1,117.3L953.6,116.2L964.0,114.5L974.5,112.4"/>
<path d="M580.7,185.5L598.7,181.3L616.8,177.0L634.8,173.2L652.9,170.7L670.9,169.4L681.4,168.0L691.9,166.7L702.3,165.4L712.8,163.9L723.3,162.1L733.7,160.0L744.2,157.8L754.7,155.6L765.1,153.5L775.6,151.5L786.1,149.7L796.5,148.3L807.0,147.4L817.5,147.2L828.0,147.7L838.4,148.7L848.9,149.5L859.4,150.1L869.8,150.4L880.3,150.4L890.8,150.2L901.2,149.7L911.7,149.2L922.2,148.5L932.6,148.0L943.1,147.6L953.6,147.4L964.0,147.5L974.5,147.9"/>
<path d="M580.7,202.0L598.7,196.4L616.8,190.3L634.8,182.8L652.9,175.5L670.9,169.4L681.4,164.7L691.9,159.7L702.3,154.9L712.8,150.9L723.3,147.8L733.7,145.2L744.2,142.5L754.7,139.4L765.1,135.9L775.6,132.5L786.1,129.4L796.5,126.7L807.0,124.4L817.5,122.5L828.0,121.3L838.4,121.4L848.9,122.5L859.4,124.2L869.8,126.5L880.3,129.1L890.8,132.1L901.2,135.1L911.7,138.0L922.2,140.6L932.6,142.9L943.1,144.8L953.6,146.4L964.0,147.6L974.5,148.5"/>
<path d="M580.7,195.5L598.7,191.3L616.8,185.5L634.8,178.9L652.9,173.4L670.9,169.4L681.4,166.2L691.9,163.1L702.3,160.2L712.8,157.7L723.3,155.3L733.7,152.9L744.2,150.0L754.7,146.5L765.1,142.8L775.6,139.2L786.1,136.2L796.5,133.9L807.0,132.5L817.5,131.9L828.0,132.2L838.4,133.5L848.9,134.9L859.4,136.1L869.8,136.9L880.3,137.3L890.8,137.4L901.2,137.0L911.7,136.3L922.2,135.4L932.6,134.3L943.1,133.2L953.6,132.0L964.0,130.9L974.5,129.8"/>
<path d="M580.7,212.1L598.7,203.3L616.8,193.7L634.8,184.2L652.9,176.0L670.9,169.4L681.4,164.3L691.9,159.1L702.3,154.3L712.8,150.2L723.3,146.8L733.7,143.7L744.2,140.1L754.7,135.9L765.1,131.4L775.6,127.2L786.1,124.0L796.5,121.5L807.0,119.6L817.5,118.3L828.0,117.5L838.4,118.0L848.9,119.2L859.4,120.7L869.8,122.5L880.3,124.6L890.8,127.0L901.2,129.5L911.7,132.1L922.2,134.6L932.6,136.9L943.1,138.9L953.6,140.5L964.0,141.5L974.5,141.9"/>
<path d="M580.7,186.0L598.7,182.7L616.8,179.9L634.8,176.1L652.9,172.3L670.9,169.4L681.4,166.9L691.9,164.2L702.3,161.4L712.8,159.0L723.3,157.0L733.7,155.6L744.2,154.5L754.7,153.6L765.1,152.5L775.6,151.2L786.1,149.5L796.5,147.3L807.0,145.1L817.5,142.9L828.0,141.2L838.4,140.1L848.9,139.5L859.4,139.3L869.8,139.7L880.3,140.6L890.8,141.8L901.2,143.3L911.7,144.8L922.2,146.0L932.6,147.1L943.1,147.8L953.6,148.4L964.0,148.9L974.5,149.4"/>
<path d="M580.7,201.2L598.7,194.5L616.8,188.2L634.8,181.5L652.9,175.0L670.9,169.4L681.4,164.9L691.9,160.1L702.3,155.2L712.8,150.6L723.3,146.4L733.7,142.2L744.2,138.2L754.7,134.1L765.1,130.1L775.6,126.9L786.1,125.1L796.5,124.2L807.0,124.1L817.5,124.4L828.0,125.3L838.4,127.0L848.9,128.7L859.4,130.1L869.8,131.3L880.3,132.2L890.8,133.0L901.2,133.6L911.7,134.1L922.2,134.5L932.6,134.8L943.1,135.0L953.6,135.1L964.0,135.0L974.5,134.6"/>
<path d="M580.7,186.4L598.7,182.6L616.8,178.5L634.8,174.2L652.9,171.2L670.9,169.4L681.4,167.7L691.9,166.1L702.3,164.5L712.8,163.0L723.3,161.4L733.7,160.0L744.2,158.5L754.7,157.0L765.1,155.6L775.6,154.1L786.1,152.5L796.5,150.9L807.0,149.5L817.5,148.6L828.0,148.3L838.4,148.3L848.9,148.2L859.4,148.0L869.8,147.6L880.3,147.2L890.8,146.8L901.2,146.3L911.7,145.9L922.2,145.4L932.6,144.9L943.1,144.5L953.6,144.1L964.0,143.9L974.5,144.0"/>
<path d="M580.7,197.5L598.7,191.1L616.8,184.6L634.8,178.4L652.9,173.3L670.9,169.4L681.4,166.2L691.9,162.9L702.3,159.7L712.8,156.6L723.3,153.7L733.7,150.6L744.2,147.4L754.7,143.8L765.1,140.3L775.6,137.2L786.1,134.9L796.5,133.4L807.0,132.5L817.5,132.3L828.0,132.8L838.4,133.9L848.9,134.9L859.4,135.6L869.8,135.9L880.3,135.9L890.8,135.5L901.2,134.9L911.7,134.0L922.2,132.9L932.6,131.6L943.1,130.2L953.6,128.7L964.0,127.1L974.5,125.7"/>
<path d="M580.7,210.0L598.7,202.6L616.8,193.5L634.8,183.9L652.9,175.9L670.9,169.4L681.4,164.4L691.9,159.5L702.3,154.9L712.8,150.9L723.3,147.3L733.7,143.7L744.2,139.4L754.7,134.2L765.1,128.7L775.6,123.7L786.1,120.1L796.5,117.7L807.0,116.5L817.5,116.2L828.0,116.9L838.4,119.0L848.9,121.7L859.4,124.5L869.8,127.0L880.3,129.3L890.8,131.3L901.2,133.0L911.7,134.4L922.2,135.5L932.6,136.4L943.1,137.2L953.6,137.9L964.0,138.4L974.5,138.5"/>
<path d="M580.7,191.8L598.7,186.9L616.8,182.0L634.8,176.9L652.9,172.6L670.9,169.4L681.4,166.7L691.9,163.9L702.3,161.3L712.8,158.9L723.3,156.6L733.7,154.3L744.2,151.9L754.7,149.4L765.1,146.8L775.6,144.4L786.1,142.3L796.5,140.5L807.0,139.1L817.5,138.2L828.0,137.9L838.4,137.7L848.9,137.1L859.4,135.8L869.8,134.2L880.3,132.1L890.8,129.6L901.2,126.9L911.7,123.8L922.2,120.5L932.6,116.9L943.1,112.9L953.6,108.5L964.0,104.1L974.5,100.3"/>
<path d="M580.7,221.1L598.7,211.7L616.8,201.2L634.8,189.6L652.9,178.8L670.9,169.4L681.4,162.3L691.9,154.9L702.3,147.8L712.8,141.8L723.3,137.0L733.7,132.7L744.2,128.2L754.7,122.9L765.1,117.5L775.6,112.8L786.1,109.6L796.5,107.5L807.0,106.2L817.5,105.1L828.0,104.6L838.4,105.6L848.9,107.5L859.4,109.7L869.8,112.4L880.3,115.5L890.8,119.0L901.2,122.8L911.7,126.7L922.2,130.5L932.6,134.1L943.1,137.3L953.6,139.9L964.0,141.8L974.5,142.6"/>
<path d="M580.7,202.1L598.7,194.7L616.8,187.5L634.8,180.6L652.9,174.6L670.9,169.4L681.4,165.2L691.9,161.0L702.3,157.0L712.8,153.2L723.3,149.8L733.7,146.3L744.2,142.4L754.7,138.2L765.1,133.7L775.6,129.8L786.1,126.9L796.5,124.9L807.0,123.6L817.5,122.9L828.0,123.0L838.4,124.2L848.9,125.8L859.4,127.4L869.8,129.1L880.3,130.8L890.8,132.4L901.2,133.8L911.7,135.2L922.2,136.2L932.6,137.0L943.1,137.5L953.6,137.7L964.0,137.6L974.5,137.4"/>
<path d="M580.7,205.9L598.7,198.3L616.8,190.1L634.8,182.0L652.9,175.1L670.9,169.4L681.4,164.9L691.9,160.2L702.3,155.7L712.8,151.6L723.3,147.7L733.7,144.0L744.2,140.0L754.7,135.7L765.1,131.4L775.6,127.9L786.1,125.6L796.5,124.4L807.0,123.9L817.5,123.9L828.0,124.5L838.4,126.0L848.9,128.0L859.4,129.9L869.8,131.8L880.3,133.8L890.8,135.8L901.2,137.9L911.7,140.1L922.2,142.5L932.6,144.9L943.1,147.3L953.6,149.6L964.0,151.6L974.5,152.9"/>
<path d="M580.7,221.2L598.7,211.3L616.8,200.8L634.8,189.5L652.9,178.8L670.9,169.4L681.4,162.3L691.9,154.7L702.3,147.3L712.8,140.7L723.3,135.2L733.7,130.1L744.2,124.8L754.7,118.9L765.1,113.0L775.6,108.2L786.1,105.4L796.5,104.0L807.0,103.6L817.5,103.6L828.0,104.1L838.4,106.1L848.9,108.9L859.4,111.9L869.8,115.0L880.3,118.3L890.8,121.7L901.2,125.2L911.7,128.7L922.2,132.1L932.6,135.4L943.1,138.3L953.6,140.8L964.0,142.7L974.5,143.6"/>
<path d="M580.7,214.2L598.7,204.8L616.8,195.6L634.8,186.1L652.9,177.3L670.9,169.4L681.4,163.3L691.9,157.0L702.3,150.8L712.8,145.3L723.3,140.6L733.7,135.9L744.2,131.0L754.7,125.4L765.1,119.7L775.6,115.0L786.1,111.8L796.5,110.0L807.0,109.1L817.5,108.7L828.0,109.0L838.4,110.3L848.9,111.8L859.4,112.9L869.8,113.7L880.3,114.3L890.8,114.6L901.2,114.6L911.7,114.3L922.2,113.7L932.6,112.4L943.1,110.6L953.6,108.1L964.0,105.0L974.5,101.8"/>
<path d="M580.7,182.1L598.7,179.3L616.8,176.4L634.8,173.3L652.9,170.9L670.9,169.4L681.4,167.9L691.9,166.4L702.3,164.8L712.8,163.1L723.3,161.1L733.7,159.1L744.2,157.2L754.7,155.4L765.1,153.7L775.6,152.1L786.1,150.5L796.5,149.1L807.0,148.1L817.5,147.6L828.0,147.7L838.4,147.7L848.9,147.0L859.4,145.7L869.8,143.7L880.3,141.1L890.8,138.0L901.2,134.5L911.7,130.6L922.2,126.4L932.6,121.8L943.1,117.0L953.6,112.0L964.0,107.2L974.5,103.4"/>
<path d="M580.7,200.8L598.7,194.5L616.8,187.3L634.8,179.8L652.9,173.8L670.9,169.4L681.4,166.0L691.9,162.7L702.3,159.3L712.8,156.0L723.3,152.5L733.7,149.0L744.2,145.3L754.7,141.4L765.1,137.5L775.6,133.8L786.1,130.5L796.5,128.1L807.0,127.1L817.5,128.5L828.0,132.2L838.4,137.5L848.9,143.3L859.4,149.3L869.8,155.9L880.3,163.5L890.8,172.3L901.2,181.2L911.7,189.4L922.2,196.4L932.6,202.4L943.1,207.5L953.6,211.8L964.0,215.6L974.5,219.2"/>
<path d="M580.7,197.2L598.7,191.0L616.8,185.1L634.8,178.9L652.9,173.5L670.9,169.4L681.4,166.1L691.9,162.6L702.3,159.0L712.8,155.3L723.3,151.5L733.7,147.6L744.2,144.0L754.7,140.3L765.1,136.9L775.6,133.8L786.1,131.2L796.5,129.4L807.0,129.2L817.5,131.2L828.0,135.6L838.4,141.2L848.9,146.7L859.4,151.7L869.8,157.0L880.3,163.3L890.8,170.9L901.2,178.9L911.7,186.5L922.2,192.9L932.6,198.4L943.1,203.0L953.6,206.9L964.0,210.5L974.5,213.9"/>
<path d="M580.7,208.8L598.7,200.1L616.8,191.1L634.8,182.3L652.9,175.1L670.9,169.4L681.4,165.3L691.9,161.2L702.3,157.0L712.8,152.9L723.3,148.8L733.7,144.5L744.2,140.1L754.7,135.5L765.1,130.9L775.6,126.8L786.1,123.4L796.5,121.0L807.0,120.3L817.5,121.9L828.0,125.9L838.4,131.7L848.9,138.0L859.4,144.5L869.8,151.5L880.3,159.4L890.8,168.3L901.2,177.3L911.7,185.4L922.2,192.1L932.6,197.8L943.1,202.6L953.6,206.7L964.0,210.5L974.5,213.9"/>
<path d="M580.7,193.3L598.7,187.0L616.8,181.5L634.8,176.4L652.9,172.3L670.9,169.4L681.4,166.7L691.9,163.9L702.3,160.8L712.8,157.5L723.3,154.0L733.7,150.6L744.2,147.3L754.7,144.2L765.1,141.2L775.6,138.5L786.1,136.1L796.5,134.4L807.0,134.0L817.5,135.8L828.0,139.8L838.4,144.9L848.9,149.8L859.4,154.4L869.8,159.4L880.3,165.6L890.8,173.2L901.2,181.3L911.7,188.8L922.2,195.3L932.6,200.8L943.1,205.4L953.6,209.2L964.0,212.7L974.5,216.0"/>
<path d="M580.7,211.3L598.7,203.9L616.8,195.4L634.8,185.6L652.9,176.7L670.9,169.4L681.4,164.6L691.9,159.6L702.3,154.8L712.8,150.4L723.3,146.4L733.7,142.6L744.2,138.6L754.7,134.3L765.1,129.9L775.6,125.7L786.1,122.0L796.5,119.0L807.0,117.5L817.5,118.0L828.0,120.6L838.4,124.8L848.9,129.9L859.4,135.8L869.8,142.9L880.3,151.4L890.8,161.4L901.2,171.4L911.7,180.2L922.2,187.2L932.6,192.9L943.1,197.6L953.6,201.5L964.0,205.1L974.5,208.4"/>
<path d="M580.7,215.3L598.7,206.2L616.8,196.3L634.8,185.9L652.9,176.9L670.9,169.4L681.4,164.5L691.9,159.4L702.3,154.5L712.8,150.0L723.3,145.7L733.7,141.6L744.2,137.3L754.7,132.7L765.1,128.1L775.6,123.7L786.1,120.0L796.5,117.1L807.0,115.8L817.5,116.5L828.0,119.3L838.4,123.8L848.9,129.5L859.4,136.0L869.8,143.7L880.3,152.8L890.8,163.1L901.2,173.5L911.7,182.7L922.2,190.3L932.6,196.7L943.1,202.0L953.6,206.4L964.0,210.4L974.5,213.9"/>
<path d="M580.7,197.5L598.7,191.4L616.8,184.7L634.8,177.9L652.9,172.8L670.9,169.4L681.4,166.5L691.9,163.7L702.3,160.8L712.8,157.8L723.3,154.7L733.7,151.5L744.2,148.1L754.7,144.7L765.1,141.4L775.6,138.3L786.1,135.6L796.5,133.6L807.0,133.2L817.5,135.2L828.0,139.6L838.4,145.2L848.9,150.2L859.4,154.5L869.8,158.9L880.3,164.2L890.8,170.7L901.2,177.8L911.7,184.5L922.2,190.0L932.6,194.6L943.1,198.2L953.6,201.4L964.0,204.5L974.5,207.7"/>
<path d="M580.7,205.1L598.7,197.1L616.8,188.8L634.8,180.7L652.9,174.3L670.9,169.4L681.4,165.7L691.9,162.2L702.3,158.7L712.8,155.4L723.3,152.1L733.7,148.7L744.2,145.0L754.7,141.1L765.1,137.1L775.6,133.4L786.1,130.0L796.5,127.4L807.0,126.2L817.5,127.3L828.0,130.6L838.4,135.4L848.9,140.8L859.4,146.6L869.8,153.2L880.3,161.1L890.8,170.3L901.2,179.8L911.7,188.4L922.2,195.9L932.6,202.5L943.1,208.0L953.6,212.8L964.0,216.9L974.5,220.5"/>
<path d="M580.7,203.0L598.7,196.1L616.8,189.4L634.8,182.1L652.9,175.2L670.9,169.4L681.4,165.2L691.9,160.9L702.3,156.5L712.8,152.2L723.3,147.9L733.7,143.5L744.2,139.0L754.7,134.5L765.1,129.9L775.6,125.7L786.1,122.1L796.5,119.4L807.0,118.3L817.5,119.3L828.0,122.6L838.4,127.9L848.9,134.3L859.4,141.7L869.8,150.1L880.3,159.7L890.8,170.2L901.2,180.7L911.7,190.1L922.2,198.2L932.6,205.2L943.1,211.2L953.6,216.3L964.0,220.6L974.5,224.4"/>
<path d="M580.7,220.5L598.7,210.4L616.8,200.2L634.8,189.3L652.9,178.8L670.9,169.4L681.4,163.4L691.9,157.2L702.3,151.0L712.8,145.3L723.3,140.0L733.7,135.1L744.2,130.2L754.7,125.2L765.1,120.2L775.6,115.8L786.1,112.2L796.5,109.6L807.0,108.6L817.5,109.5L828.0,112.5L838.4,117.4L848.9,124.0L859.4,131.8L869.8,140.9L880.3,151.4L890.8,163.0L901.2,174.4L911.7,184.4L922.2,192.8L932.6,200.1L943.1,206.2L953.6,211.5L964.0,216.0L974.5,219.8"/>
<path d="M580.7,207.6L598.7,200.6L616.8,193.0L634.8,184.3L652.9,176.2L670.9,169.4L681.4,164.8L691.9,159.9L702.3,154.9L712.8,150.0L723.3,145.3L733.7,140.6L744.2,136.2L754.7,131.8L765.1,127.4L775.6,123.5L786.1,120.2L796.5,118.0L807.0,117.3L817.5,118.8L828.0,122.5L838.4,127.9L848.9,134.1L859.4,140.6L869.8,147.8L880.3,156.1L890.8,165.5L901.2,174.9L911.7,183.3L922.2,190.2L932.6,195.9L943.1,200.6L953.6,204.6L964.0,208.2L974.5,211.6"/>
<path d="M580.7,205.7L598.7,197.6L616.8,189.5L634.8,181.5L652.9,174.8L670.9,169.4L681.4,165.5L691.9,161.4L702.3,157.3L712.8,153.2L723.3,149.1L733.7,144.9L744.2,140.7L754.7,136.5L765.1,132.4L775.6,128.7L786.1,125.8L796.5,123.7L807.0,123.3L817.5,125.1L828.0,129.2L838.4,134.6L848.9,140.1L859.4,145.4L869.8,151.0L880.3,157.7L890.8,165.6L901.2,174.0L911.7,181.6L922.2,187.9L932.6,193.0L943.1,197.2L953.6,200.9L964.0,204.3L974.5,207.6"/>
<path d="M580.7,201.5L598.7,195.8L616.8,188.8L634.8,180.8L652.9,174.1L670.9,169.4L681.4,165.9L691.9,162.2L702.3,158.5L712.8,154.9L723.3,151.4L733.7,147.9L744.2,144.6L754.7,141.2L765.1,137.9L775.6,134.8L786.1,132.2L796.5,130.4L807.0,130.0L817.5,131.9L828.0,136.1L838.4,141.6L848.9,147.1L859.4,152.4L869.8,158.0L880.3,164.6L890.8,172.5L901.2,180.8L911.7,188.6L922.2,195.4L932.6,201.2L943.1,206.3L953.6,210.6L964.0,214.5L974.5,218.1"/>
<path d="M580.7,210.7L598.7,202.5L616.8,193.5L634.8,184.1L652.9,175.9L670.9,169.4L681.4,165.0L691.9,160.4L702.3,155.9L712.8,151.6L723.3,147.6L733.7,143.7L744.2,139.8L754.7,135.7L765.1,131.6L775.6,127.8L786.1,124.6L796.5,122.3L807.0,121.4L817.5,122.7L828.0,126.1L838.4,131.2L848.9,137.2L859.4,143.7L869.8,151.0L880.3,159.6L890.8,169.4L901.2,179.2L911.7,188.2L922.2,196.0L932.6,202.7L943.1,208.5L953.6,213.4L964.0,217.7L974.5,221.4"/>
<path d="M580.7,199.3L598.7,192.1L616.8,185.2L634.8,178.7L652.9,173.4L670.9,169.4L681.4,166.1L691.9,162.8L702.3,159.3L712.8,155.6L723.3,151.7L733.7,147.7L744.2,143.9L754.7,140.0L765.1,136.4L775.6,133.2L786.1,130.6L796.5,128.9L807.0,128.8L817.5,131.0L828.0,135.5L838.4,140.9L848.9,145.7L859.4,149.5L869.8,153.3L880.3,158.2L890.8,164.5L901.2,171.6L911.7,178.2L922.2,183.4L932.6,187.4L943.1,190.5L953.6,193.3L964.0,196.0L974.5,198.9"/>
<path d="M580.7,223.9L598.7,213.6L616.8,202.9L634.8,191.1L652.9,179.7L670.9,169.4L681.4,163.0L691.9,156.3L702.3,149.6L712.8,143.5L723.3,138.1L733.7,133.0L744.2,128.2L754.7,123.2L765.1,118.2L775.6,113.8L786.1,110.2L796.5,107.7L807.0,106.6L817.5,107.5L828.0,110.2L838.4,114.9L848.9,121.0L859.4,128.3L869.8,136.9L880.3,147.0L890.8,158.5L901.2,169.8L911.7,179.7L922.2,187.9L932.6,194.8L943.1,200.5L953.6,205.5L964.0,209.8L974.5,213.5"/>
<path d="M580.7,201.8L598.7,194.6L616.8,187.3L634.8,180.0L652.9,174.0L670.9,169.4L681.4,165.9L691.9,162.4L702.3,158.9L712.8,155.5L723.3,151.9L733.7,148.3L744.2,144.5L754.7,140.4L765.1,136.4L775.6,132.6L786.1,129.3L796.5,126.8L807.0,125.8L817.5,127.1L828.0,130.7L838.4,135.9L848.9,141.7L859.4,147.9L869.8,154.8L880.3,162.8L890.8,172.0L901.2,181.3L911.7,189.8L922.2,197.2L932.6,203.6L943.1,209.1L953.6,213.7L964.0,217.7L974.5,221.4"/>
<path d="M580.7,218.0L598.7,209.4L616.8,199.6L634.8,188.5L652.9,178.2L670.9,169.4L681.4,163.8L691.9,157.9L702.3,152.0L712.8,146.6L723.3,141.7L733.7,137.2L744.2,132.8L754.7,128.4L765.1,124.0L775.6,120.1L786.1,116.9L796.5,114.7L807.0,113.9L817.5,115.2L828.0,118.4L838.4,123.1L848.9,128.2L859.4,133.7L869.8,139.9L880.3,147.5L890.8,156.6L901.2,166.1L911.7,174.3L922.2,180.8L932.6,185.9L943.1,189.9L953.6,193.5L964.0,196.8L974.5,199.9"/>
<path d="M580.7,199.7L598.7,193.8L616.8,188.2L634.8,181.4L652.9,174.7L670.9,169.4L681.4,165.5L691.9,161.4L702.3,157.2L712.8,153.2L723.3,149.4L733.7,146.0L744.2,142.7L754.7,139.4L765.1,136.1L775.6,133.0L786.1,130.2L796.5,128.0L807.0,127.0L817.5,127.9L828.0,130.9L838.4,135.2L848.9,139.9L859.4,144.9L869.8,150.9L880.3,158.5L890.8,167.7L901.2,177.2L911.7,185.9L922.2,193.3L932.6,199.5L943.1,204.7L953.6,209.0L964.0,212.8L974.5,216.3"/>
<path d="M580.7,220.5L598.7,211.4L616.8,201.5L634.8,190.1L652.9,179.1L670.9,169.4L681.4,163.3L691.9,156.9L702.3,150.4L712.8,144.4L723.3,139.0L733.7,134.0L744.2,129.2L754.7,124.3L765.1,119.5L775.6,115.2L786.1,111.8L796.5,109.4L807.0,108.6L817.5,109.7L828.0,112.8L838.4,117.7L848.9,124.0L859.4,131.3L869.8,139.7L880.3,149.4L890.8,160.4L901.2,171.2L911.7,180.8L922.2,188.6L932.6,195.1L943.1,200.6L953.6,205.2L964.0,209.3L974.5,212.9"/>
<path d="M580.7,200.6L598.7,194.4L616.8,188.0L634.8,180.8L652.9,174.4L670.9,169.4L681.4,165.7L691.9,161.8L702.3,157.9L712.8,153.9L723.3,150.1L733.7,146.3L744.2,142.6L754.7,138.8L765.1,135.2L775.6,131.9L786.1,129.1L796.5,127.1L807.0,126.6L817.5,128.3L828.0,132.3L838.4,137.7L848.9,143.3L859.4,149.0L869.8,155.1L880.3,162.3L890.8,170.8L901.2,179.6L911.7,187.7L922.2,194.8L932.6,200.8L943.1,206.0L953.6,210.4L964.0,214.3L974.5,217.9"/>
<path d="M580.7,197.2L598.7,191.8L616.8,185.3L634.8,178.3L652.9,173.0L670.9,169.4L681.4,166.4L691.9,163.5L702.3,160.6L712.8,157.7L723.3,154.5L733.7,151.1L744.2,147.5L754.7,143.7L765.1,139.8L775.6,136.0L786.1,132.7L796.5,130.2L807.0,129.2L817.5,130.7L828.0,134.6L838.4,140.3L848.9,146.5L859.4,152.9L869.8,159.7L880.3,167.4L890.8,175.9L901.2,184.6L911.7,192.5L922.2,199.5L932.6,205.5L943.1,210.6L953.6,214.9L964.0,218.8L974.5,222.4"/>
<path d="M580.7,194.8L598.7,189.9L616.8,184.4L634.8,178.1L652.9,173.0L670.9,169.4L681.4,166.4L691.9,163.4L702.3,160.2L712.8,157.0L723.3,153.6L733.7,150.2L744.2,146.8L754.7,143.4L765.1,140.0L775.6,136.9L786.1,134.2L796.5,132.2L807.0,131.7L817.5,133.5L828.0,137.7L838.4,143.2L848.9,148.5L859.4,153.4L869.8,158.6L880.3,164.8L890.8,172.3L901.2,180.3L911.7,187.7L922.2,194.1L932.6,199.5L943.1,204.0L953.6,207.9L964.0,211.4L974.5,214.8"/>
<path d="M580.7,223.8L598.7,212.7L616.8,202.0L634.8,190.5L652.9,179.4L670.9,169.4L681.4,163.1L691.9,156.5L702.3,150.0L712.8,144.1L723.3,139.0L733.7,134.4L744.2,130.1L754.7,125.5L765.1,121.0L775.6,116.8L786.1,113.3L796.5,110.5L807.0,109.1L817.5,109.3L828.0,111.2L838.4,114.7L848.9,119.6L859.4,126.0L869.8,134.1L880.3,144.1L890.8,155.9L901.2,167.6L911.7,177.9L922.2,186.3L932.6,193.2L943.1,198.9L953.6,203.7L964.0,207.8L974.5,211.4"/>
<path d="M580.7,198.5L598.7,192.3L616.8,185.6L634.8,178.7L652.9,173.2L670.9,169.4L681.4,166.3L691.9,163.1L702.3,159.9L712.8,156.6L723.3,153.2L733.7,149.7L744.2,146.1L754.7,142.5L765.1,138.9L775.6,135.6L786.1,132.8L796.5,130.7L807.0,130.2L817.5,132.1L828.0,136.4L838.4,142.4L848.9,148.8L859.4,155.2L869.8,162.0L880.3,169.6L890.8,178.1L901.2,186.8L911.7,195.0L922.2,202.4L932.6,208.9L943.1,214.5L953.6,219.4L964.0,223.6L974.5,227.4"/>
<path d="M580.7,204.8L598.7,197.2L616.8,189.9L634.8,182.3L652.9,175.3L670.9,169.4L681.4,165.2L691.9,160.8L702.3,156.5L712.8,152.1L723.3,147.8L733.7,143.4L744.2,139.0L754.7,134.4L765.1,129.9L775.6,125.7L786.1,122.2L796.5,119.6L807.0,118.6L817.5,119.8L828.0,123.3L838.4,128.2L848.9,133.7L859.4,139.3L869.8,145.6L880.3,153.0L890.8,161.8L901.2,170.7L911.7,178.6L922.2,184.8L932.6,189.6L943.1,193.5L953.6,196.7L964.0,199.8L974.5,202.9"/>
<path d="M580.7,236.2L598.7,223.1L616.8,209.3L634.8,194.9L652.9,181.4L670.9,169.4L681.4,161.4L691.9,153.4L702.3,145.6L712.8,138.2L723.3,131.2L733.7,124.4L744.2,117.3L754.7,109.8L765.1,102.3L775.6,95.5L786.1,90.2L796.5,86.1L807.0,83.6L817.5,82.6L828.0,83.3L838.4,86.7L848.9,92.3L859.4,99.6L869.8,108.7L880.3,119.5L890.8,131.7L901.2,144.2L911.7,155.7L922.2,165.7L932.6,174.7L943.1,183.2L953.6,191.6L964.0,199.8L974.5,208.0"/>
</g>
</g>
<rect x="562.2" y="20.5" width="432.3" height="259.4" fill="none" stroke="#000" stroke-width="1.6"/>
<path d="M629.9,279.9v6.6M711.9,279.9v6.6M794.0,279.9v6.6M876.0,279.9v6.6M958.1,279.9v6.6M562.2,249.0h-6.6M562.2,209.2h-6.6M562.2,169.4h-6.6M562.2,129.6h-6.6M562.2,89.8h-6.6M562.2,50.0h-6.6" stroke="#000" stroke-width="1.4" fill="none"/>
<g font-size="17.9px" letter-spacing="0" filter="url(#soft)">
<g text-anchor="middle">
<text transform="translate(630.3,304.6) scale(1.0,1)" font-size="16.5px">0.5</text>
<text transform="translate(712.3,304.6) scale(1.0,1)" font-size="16.5px">0.6</text>
<text transform="translate(794.4,304.6) scale(1.0,1)" font-size="16.5px">0.7</text>
<text transform="translate(876.4,304.6) scale(1.0,1)" font-size="16.5px">0.8</text>
<text transform="translate(958.5,304.6) scale(1.0,1)" font-size="16.5px">0.9</text>
<text transform="translate(778.4,325.5) scale(1.0,1)">Wavelength</text>
</g>
<g text-anchor="end">
<text transform="translate(547.0,256.1) scale(1.0,1)" font-size="16.5px">0.6</text>
<text transform="translate(547.0,216.4) scale(1.0,1)" font-size="16.5px">0.8</text>
<text transform="translate(547.0,176.6) scale(1.0,1)" font-size="16.5px">1.0</text>
<text transform="translate(547.0,136.3) scale(1.0,1)" font-size="16.5px">1.2</text>
<text transform="translate(547.0,96.1) scale(1.0,1)" font-size="16.5px">1.4</text>
<text transform="translate(547.0,55.7) scale(1.0,1)" font-size="16.5px">1.6</text>
</g>
<text transform="translate(512.8,150.2) rotate(-90) scale(1.0,1)" text-anchor="middle">Normalized Reflectance</text>
<rect x="571.0" y="29.5" width="198.8" height="59" rx="3" ry="3" fill="#fff" fill-opacity="0.8" stroke="#ccc" stroke-opacity="0.8" stroke-width="1.4"/>
<path d="M575.9,43.2h38.3" stroke="#00f" stroke-opacity="0.6" stroke-width="2.3" fill="none"/>
<path d="M575.9,70.3h38.3" stroke="#f00" stroke-opacity="0.6" stroke-width="2.3" fill="none"/>
<text transform="translate(627.2,49.2) scale(1.0,1)">Expanded data</text>
<text transform="translate(627.2,76.2) scale(1.0,1)">Raw data</text>
<text transform="translate(778.0,15.4) scale(1.0,1)" text-anchor="middle" font-size="21.5px" xml:space="preserve" style="white-space:pre">Other  92→2000</text>
</g>
</g>
<g>
<g fill="none" stroke-width="2.5" stroke-linejoin="round" stroke-linecap="square" filter="url(#soft)">
<polygon points="81.8,536.5 101.1,536.5 119.2,536.5 137.2,536.5 155.3,536.3 173.3,533.2 183.8,529.1 194.3,524.6 204.7,518.2 215.2,511.8 225.7,505.6 236.1,499.6 246.6,493.9 257.1,488.8 267.5,484.2 278.0,479.9 288.5,475.8 298.9,472.1 309.4,469.0 319.9,466.7 330.4,465.7 340.8,466.2 351.3,467.7 361.8,469.9 372.2,472.5 382.7,475.2 393.2,477.8 403.6,480.3 414.1,482.7 424.6,485.1 435.0,487.0 445.5,488.1 456.0,488.3 466.4,487.8 478.2,487.0 478.2,562.2 466.4,561.1 456.0,559.3 445.5,556.5 435.0,552.3 424.6,547.1 414.1,541.8 403.6,537.4 393.2,533.8 382.7,530.9 372.2,528.5 361.8,526.4 351.3,524.9 340.8,524.0 330.4,523.7 319.9,524.0 309.4,524.4 298.9,524.7 288.5,524.9 278.0,525.2 267.5,525.9 257.1,526.8 246.6,527.8 236.1,528.6 225.7,529.4 215.2,529.8 204.7,530.0 194.3,530.2 183.8,531.8 173.3,533.2 155.3,541.5 137.2,556.9 119.2,575.9 101.1,594.1 81.8,611.2" fill="#00f" stroke="none"/>
<g stroke="#00f" stroke-opacity="0.6">
<path d="M83.1,612.8L101.1,595.8L119.2,578.0L137.2,559.4L155.3,543.8L173.3,533.2L183.8,527.9L194.3,521.9L204.7,515.3L215.2,508.9L225.7,502.8L236.1,496.9L246.6,491.5L257.1,486.7L267.5,482.3L278.0,478.1L288.5,474.2L298.9,470.4L309.4,467.3L319.9,464.9L330.4,463.6L340.8,463.8L351.3,465.0L361.8,467.0L372.2,469.4L382.7,471.9L393.2,474.4L403.6,476.9L414.1,479.5L424.6,482.0L435.0,484.2L445.5,485.5L456.0,486.0L466.4,485.8L476.9,485.2"/>
<path d="M83.1,611.8L101.1,594.6L119.2,576.7L137.2,558.1L155.3,542.9L173.3,533.2L183.8,528.3L194.3,522.7L204.7,516.1L215.2,509.5L225.7,503.0L236.1,496.7L246.6,490.9L257.1,485.8L267.5,481.2L278.0,477.1L288.5,473.2L298.9,469.6L309.4,466.8L319.9,464.8L330.4,464.1L340.8,464.8L351.3,466.6L361.8,469.0L372.2,471.8L382.7,474.6L393.2,477.2L403.6,479.8L414.1,482.2L424.6,484.4L435.0,486.2L445.5,487.1L456.0,487.0L466.4,486.3L476.9,485.2"/>
<path d="M83.1,612.3L101.1,595.6L119.2,577.6L137.2,558.5L155.3,542.7L173.3,533.2L183.8,528.6L194.3,523.5L204.7,517.2L215.2,511.0L225.7,504.9L236.1,499.0L246.6,493.3L257.1,488.1L267.5,483.3L278.0,478.8L288.5,474.5L298.9,470.5L309.4,467.2L319.9,464.9L330.4,463.8L340.8,464.3L351.3,465.9L361.8,468.3L372.2,471.2L382.7,474.1L393.2,476.9L403.6,479.6L414.1,482.2L424.6,484.6L435.0,486.5L445.5,487.5L456.0,487.5L466.4,486.9L476.9,485.8"/>
<path d="M83.1,612.3L101.1,594.7L119.2,576.1L137.2,557.1L155.3,541.8L173.3,533.2L183.8,528.8L194.3,523.9L204.7,517.4L215.2,510.8L225.7,504.3L236.1,498.1L246.6,492.4L257.1,487.4L267.5,483.0L278.0,479.0L288.5,475.2L298.9,471.8L309.4,468.9L319.9,466.9L330.4,466.0L340.8,466.4L351.3,467.7L361.8,469.7L372.2,472.1L382.7,474.4L393.2,476.7L403.6,479.0L414.1,481.3L424.6,483.6L435.0,485.6L445.5,486.8L456.0,487.2L466.4,487.0L476.9,486.5"/>
<path d="M83.1,610.8L101.1,593.4L119.2,575.3L137.2,556.6L155.3,541.5L173.3,533.2L183.8,529.0L194.3,524.4L204.7,518.0L215.2,511.6L225.7,505.2L236.1,499.0L246.6,493.1L257.1,487.8L267.5,483.0L278.0,478.6L288.5,474.4L298.9,470.6L309.4,467.4L319.9,465.2L330.4,464.2L340.8,464.7L351.3,466.3L361.8,468.6L372.2,471.4L382.7,474.2L393.2,477.0L403.6,479.7L414.1,482.4L424.6,485.0L435.0,487.1L445.5,488.4L456.0,488.7L466.4,488.4L476.9,487.7"/>
<path d="M83.1,611.6L101.1,594.6L119.2,576.4L137.2,557.2L155.3,541.6L173.3,533.2L183.8,529.1L194.3,524.5L204.7,518.2L215.2,511.9L225.7,505.8L236.1,499.8L246.6,494.3L257.1,489.2L267.5,484.6L278.0,480.3L288.5,476.2L298.9,472.4L309.4,469.2L319.9,466.9L330.4,465.8L340.8,466.1L351.3,467.5L361.8,469.6L372.2,472.2L382.7,474.7L393.2,477.3L403.6,479.8L414.1,482.2L424.6,484.6L435.0,486.6L445.5,487.7L456.0,487.9L466.4,487.6L476.9,486.9"/>
<path d="M83.1,611.9L101.1,594.5L119.2,576.0L137.2,556.7L155.3,541.2L173.3,533.2L183.8,529.3L194.3,525.1L204.7,518.9L215.2,512.8L225.7,506.8L236.1,501.0L246.6,495.4L257.1,490.3L267.5,485.7L278.0,481.3L288.5,477.1L298.9,473.2L309.4,470.0L319.9,467.6L330.4,466.4L340.8,466.7L351.3,467.9L361.8,470.0L372.2,472.4L382.7,474.9L393.2,477.3L403.6,479.7L414.1,482.0L424.6,484.2L435.0,486.1L445.5,487.1L456.0,487.2L466.4,486.8L476.9,486.1"/>
<path d="M83.1,611.6L101.1,594.2L119.2,575.6L137.2,556.3L155.3,540.9L173.3,533.2L183.8,529.4L194.3,525.4L204.7,519.1L215.2,512.9L225.7,506.8L236.1,500.7L246.6,495.0L257.1,489.7L267.5,484.8L278.0,480.3L288.5,476.0L298.9,472.0L309.4,468.7L319.9,466.4L330.4,465.2L340.8,465.6L351.3,467.1L361.8,469.4L372.2,472.1L382.7,474.9L393.2,477.6L403.6,480.4L414.1,483.0L424.6,485.6L435.0,487.8L445.5,489.1L456.0,489.4L466.4,489.1L476.9,488.5"/>
<path d="M83.1,610.9L101.1,593.8L119.2,575.5L137.2,556.3L155.3,540.8L173.3,533.2L183.8,529.5L194.3,525.4L204.7,519.1L215.2,512.8L225.7,506.6L236.1,500.5L246.6,494.7L257.1,489.5L267.5,484.7L278.0,480.3L288.5,476.1L298.9,472.3L309.4,469.2L319.9,467.0L330.4,466.1L340.8,466.7L351.3,468.3L361.8,470.6L372.2,473.4L382.7,476.2L393.2,478.8L403.6,481.4L414.1,483.8L424.6,486.2L435.0,488.0L445.5,489.0L456.0,489.0L466.4,488.4L476.9,487.5"/>
<path d="M83.1,610.6L101.1,593.6L119.2,575.4L137.2,556.2L155.3,540.7L173.3,533.2L183.8,529.5L194.3,525.4L204.7,519.0L215.2,512.7L225.7,506.5L236.1,500.5L246.6,494.9L257.1,489.9L267.5,485.3L278.0,481.1L288.5,477.1L298.9,473.5L309.4,470.4L319.9,468.2L330.4,467.2L340.8,467.7L351.3,469.2L361.8,471.4L372.2,474.0L382.7,476.6L393.2,479.2L403.6,481.6L414.1,484.0L424.6,486.3L435.0,488.2L445.5,489.2L456.0,489.2L466.4,488.7L476.9,487.8"/>
<path d="M83.1,610.9L101.1,593.9L119.2,575.6L137.2,556.2L155.3,540.5L173.3,533.2L183.8,529.7L194.3,525.9L204.7,519.8L215.2,513.6L225.7,507.6L236.1,501.8L246.6,496.1L257.1,490.9L267.5,486.1L278.0,481.6L288.5,477.2L298.9,473.2L309.4,469.9L319.9,467.4L330.4,466.2L340.8,466.4L351.3,467.8L361.8,470.0L372.2,472.7L382.7,475.5L393.2,478.2L403.6,481.0L414.1,483.7L424.6,486.3L435.0,488.5L445.5,489.9L456.0,490.2L466.4,490.0L476.9,489.3"/>
<path d="M83.1,610.7L101.1,593.6L119.2,575.2L137.2,555.9L155.3,540.3L173.3,533.2L183.8,529.7L194.3,526.0L204.7,519.7L215.2,513.5L225.7,507.5L236.1,501.6L246.6,496.1L257.1,491.0L267.5,486.4L278.0,482.0L288.5,477.9L298.9,474.1L309.4,470.9L319.9,468.5L330.4,467.4L340.8,467.7L351.3,469.0L361.8,471.0L372.2,473.5L382.7,476.0L393.2,478.5L403.6,480.9L414.1,483.3L424.6,485.6L435.0,487.5L445.5,488.6L456.0,488.8L466.4,488.4L476.9,487.7"/>
<path d="M83.1,610.2L101.1,592.6L119.2,574.0L137.2,554.9L155.3,539.7L173.3,533.2L183.8,529.9L194.3,526.4L204.7,520.0L215.2,513.5L225.7,507.0L236.1,500.7L246.6,494.7L257.1,489.4L267.5,484.7L278.0,480.3L288.5,476.3L298.9,472.7L309.4,469.8L319.9,467.9L330.4,467.2L340.8,467.9L351.3,469.7L361.8,472.2L372.2,475.1L382.7,477.8L393.2,480.5L403.6,482.9L414.1,485.2L424.6,487.4L435.0,489.1L445.5,489.8L456.0,489.7L466.4,488.9L476.9,487.9"/>
<path d="M83.1,609.0L101.1,592.1L119.2,574.2L137.2,555.3L155.3,539.9L173.3,533.2L183.8,529.9L194.3,526.2L204.7,519.8L215.2,513.5L225.7,507.4L236.1,501.4L246.6,495.9L257.1,490.9L267.5,486.4L278.0,482.1L288.5,478.1L298.9,474.3L309.4,471.2L319.9,468.9L330.4,467.8L340.8,468.1L351.3,469.4L361.8,471.5L372.2,474.1L382.7,476.6L393.2,479.1L403.6,481.6L414.1,484.1L424.6,486.5L435.0,488.5L445.5,489.7L456.0,490.0L466.4,489.7L476.9,489.0"/>
<path d="M83.1,610.1L101.1,592.7L119.2,574.1L137.2,554.8L155.3,539.5L173.3,533.2L183.8,530.1L194.3,526.7L204.7,520.3L215.2,513.9L225.7,507.5L236.1,501.2L246.6,495.3L257.1,490.0L267.5,485.2L278.0,480.9L288.5,476.9L298.9,473.3L309.4,470.4L319.9,468.5L330.4,467.8L340.8,468.5L351.3,470.2L361.8,472.6L372.2,475.3L382.7,478.0L393.2,480.5L403.6,482.8L414.1,485.0L424.6,487.1L435.0,488.8L445.5,489.6L456.0,489.5L466.4,488.9L476.9,488.1"/>
<path d="M83.1,609.2L101.1,591.8L119.2,573.5L137.2,554.5L155.3,539.4L173.3,533.2L183.8,530.1L194.3,526.7L204.7,520.3L215.2,513.8L225.7,507.4L236.1,501.2L246.6,495.4L257.1,490.3L267.5,485.7L278.0,481.4L288.5,477.4L298.9,473.8L309.4,470.9L319.9,468.8L330.4,468.0L340.8,468.6L351.3,470.2L361.8,472.5L372.2,475.2L382.7,477.9L393.2,480.4L403.6,482.9L414.1,485.2L424.6,487.4L435.0,489.2L445.5,490.1L456.0,490.1L466.4,489.5L476.9,488.6"/>
<path d="M83.1,533.6L101.1,533.4L119.2,533.5L137.2,533.7L155.3,533.8L173.3,533.2L183.8,533.0L194.3,532.7L204.7,532.5L215.2,532.2L225.7,531.6L236.1,530.8L246.6,530.0L257.1,529.1L267.5,528.3L278.0,527.8L288.5,527.5L298.9,527.5L309.4,527.4L319.9,527.1L330.4,526.9L340.8,527.2L351.3,528.0L361.8,529.5L372.2,531.5L382.7,533.8L393.2,536.6L403.6,540.0L414.1,544.3L424.6,549.5L435.0,554.6L445.5,558.7L456.0,561.5L466.4,563.2L476.9,564.4"/>
<path d="M83.1,534.4L101.1,534.5L119.2,534.8L137.2,535.0L155.3,534.9L173.3,533.2L183.8,532.5L194.3,531.5L204.7,531.3L215.2,531.0L225.7,530.4L236.1,529.7L246.6,528.9L257.1,528.1L267.5,527.3L278.0,526.7L288.5,526.5L298.9,526.4L309.4,526.3L319.9,526.0L330.4,525.8L340.8,526.1L351.3,527.0L361.8,528.6L372.2,530.5L382.7,532.9L393.2,535.7L403.6,539.2L414.1,543.5L424.6,548.6L435.0,553.7L445.5,557.8L456.0,560.4L466.4,562.1L476.9,563.2"/>
<path d="M83.1,534.6L101.1,534.7L119.2,534.9L137.2,535.1L155.3,535.1L173.3,533.2L183.8,532.3L194.3,531.3L204.7,531.2L215.2,530.9L225.7,530.4L236.1,529.6L246.6,528.6L257.1,527.6L267.5,526.6L278.0,525.8L288.5,525.4L298.9,525.2L309.4,524.9L319.9,524.5L330.4,524.1L340.8,524.4L351.3,525.3L361.8,526.8L372.2,528.8L382.7,531.3L393.2,534.2L403.6,537.9L414.1,542.3L424.6,547.7L435.0,553.0L445.5,557.2L456.0,560.1L466.4,561.9L476.9,563.2"/>
<path d="M83.1,535.2L101.1,535.5L119.2,535.8L137.2,536.0L155.3,535.7L173.3,533.2L183.8,532.1L194.3,530.7L204.7,530.5L215.2,530.3L225.7,529.9L236.1,529.3L246.6,528.7L257.1,528.0L267.5,527.2L278.0,526.7L288.5,526.4L298.9,526.2L309.4,525.9L319.9,525.4L330.4,525.0L340.8,525.1L351.3,525.8L361.8,527.1L372.2,528.9L382.7,531.1L393.2,533.9L403.6,537.4L414.1,541.8L424.6,547.1L435.0,552.4L445.5,556.7L456.0,559.7L466.4,561.6L476.9,563.0"/>
<path d="M83.1,536.7L101.1,536.4L119.2,536.1L137.2,536.0L155.3,535.8L173.3,533.2L183.8,532.0L194.3,530.7L204.7,530.6L215.2,530.4L225.7,529.8L236.1,529.0L246.6,527.9L257.1,526.8L267.5,525.7L278.0,524.9L288.5,524.4L298.9,524.2L309.4,524.0L319.9,523.7L330.4,523.5L340.8,524.0L351.3,525.0L361.8,526.7L372.2,529.0L382.7,531.6L393.2,534.7L403.6,538.4L414.1,542.9L424.6,548.2L435.0,553.4L445.5,557.5L456.0,560.2L466.4,561.8L476.9,562.7"/>
<path d="M83.1,535.5L101.1,535.8L119.2,536.4L137.2,536.7L155.3,536.5L173.3,533.2L183.8,531.7L194.3,529.8L204.7,529.6L215.2,529.3L225.7,528.9L236.1,528.4L246.6,527.9L257.1,527.3L267.5,526.7L278.0,526.2L288.5,526.0L298.9,525.9L309.4,525.6L319.9,525.1L330.4,524.6L340.8,524.7L351.3,525.3L361.8,526.5L372.2,528.2L382.7,530.3L393.2,533.0L403.6,536.4L414.1,540.7L424.6,545.9L435.0,551.2L445.5,555.6L456.0,558.6L466.4,560.6L476.9,562.1"/>
<path d="M83.1,535.8L101.1,535.8L119.2,536.0L137.2,536.3L155.3,536.3L173.3,533.2L183.8,531.7L194.3,530.0L204.7,529.9L215.2,529.6L225.7,529.0L236.1,528.2L246.6,527.2L257.1,526.1L267.5,525.1L278.0,524.3L288.5,523.8L298.9,523.6L309.4,523.3L319.9,522.9L330.4,522.6L340.8,522.8L351.3,523.8L361.8,525.3L372.2,527.4L382.7,529.9L393.2,533.0L403.6,536.7L414.1,541.2L424.6,546.6L435.0,552.0L445.5,556.3L456.0,559.2L466.4,561.1L476.9,562.4"/>
<path d="M83.1,537.6L101.1,537.4L119.2,537.2L137.2,537.0L155.3,536.6L173.3,533.2L183.8,531.6L194.3,529.8L204.7,529.8L215.2,529.8L225.7,529.4L236.1,528.9L246.6,528.1L257.1,527.2L267.5,526.4L278.0,525.7L288.5,525.4L298.9,525.2L309.4,525.0L319.9,524.6L330.4,524.2L340.8,524.5L351.3,525.4L361.8,526.8L372.2,528.8L382.7,531.2L393.2,534.1L403.6,537.6L414.1,541.9L424.6,547.1L435.0,552.3L445.5,556.4L456.0,559.1L466.4,560.7L476.9,561.8"/>
<path d="M83.1,538.3L101.1,538.2L119.2,537.8L137.2,537.4L155.3,536.9L173.3,533.2L183.8,531.5L194.3,529.7L204.7,529.8L215.2,529.8L225.7,529.4L236.1,528.7L246.6,527.8L257.1,526.6L267.5,525.5L278.0,524.5L288.5,523.9L298.9,523.5L309.4,523.0L319.9,522.5L330.4,522.0L340.8,522.2L351.3,523.1L361.8,524.7L372.2,526.9L382.7,529.5L393.2,532.7L403.6,536.5L414.1,541.2L424.6,546.7L435.0,552.2L445.5,556.6L456.0,559.5L466.4,561.3L476.9,562.5"/>
<path d="M83.1,538.3L101.1,537.9L119.2,537.4L137.2,537.2L155.3,536.9L173.3,533.2L183.8,531.4L194.3,529.5L204.7,529.5L215.2,529.3L225.7,528.7L236.1,527.8L246.6,526.7L257.1,525.5L267.5,524.3L278.0,523.4L288.5,522.9L298.9,522.6L309.4,522.4L319.9,522.1L330.4,521.9L340.8,522.4L351.3,523.5L361.8,525.2L372.2,527.6L382.7,530.3L393.2,533.4L403.6,537.2L414.1,541.8L424.6,547.2L435.0,552.4L445.5,556.6L456.0,559.2L466.4,560.8L476.9,561.8"/>
<path d="M83.1,537.2L101.1,537.4L119.2,537.6L137.2,537.7L155.3,537.3L173.3,533.2L183.8,531.2L194.3,528.9L204.7,528.6L215.2,528.2L225.7,527.6L236.1,526.7L246.6,525.7L257.1,524.8L267.5,523.9L278.0,523.1L288.5,522.8L298.9,522.6L309.4,522.4L319.9,522.1L330.4,521.8L340.8,522.2L351.3,523.1L361.8,524.7L372.2,526.9L382.7,529.4L393.2,532.4L403.6,536.1L414.1,540.7L424.6,546.0L435.0,551.4L445.5,555.7L456.0,558.6L466.4,560.4L476.9,561.7"/>
<path d="M83.1,538.3L101.1,538.5L119.2,538.5L137.2,538.3L155.3,537.6L173.3,533.2L183.8,531.1L194.3,528.8L204.7,528.7L215.2,528.6L225.7,528.3L236.1,527.7L246.6,527.0L257.1,526.1L267.5,525.3L278.0,524.6L288.5,524.2L298.9,523.9L309.4,523.6L319.9,523.1L330.4,522.7L340.8,522.8L351.3,523.5L361.8,524.9L372.2,526.8L382.7,529.1L393.2,531.9L403.6,535.4L414.1,539.8L424.6,545.0L435.0,550.3L445.5,554.6L456.0,557.4L466.4,559.3L476.9,560.6"/>
<path d="M83.1,537.6L101.1,537.0L119.2,537.0L137.2,537.5L155.3,537.6L173.3,533.2L183.8,531.0L194.3,528.3L204.7,527.8L215.2,527.3L225.7,526.6L236.1,525.8L246.6,525.1L257.1,524.6L267.5,524.1L278.0,523.8L288.5,523.8L298.9,524.0L309.4,524.0L319.9,523.8L330.4,523.5L340.8,523.6L351.3,524.2L361.8,525.4L372.2,527.0L382.7,529.0L393.2,531.5L403.6,534.8L414.1,538.9L424.6,544.1L435.0,549.4L445.5,553.7L456.0,556.8L466.4,558.9L476.9,560.5"/>
<path d="M83.1,539.0L101.1,539.1L119.2,539.0L137.2,538.7L155.3,538.0L173.3,533.2L183.8,530.9L194.3,528.4L204.7,528.4L215.2,528.3L225.7,528.0L236.1,527.5L246.6,526.7L257.1,525.8L267.5,524.8L278.0,524.0L288.5,523.6L298.9,523.2L309.4,522.9L319.9,522.3L330.4,521.8L340.8,522.0L351.3,522.7L361.8,524.1L372.2,526.0L382.7,528.4L393.2,531.3L403.6,534.9L414.1,539.3L424.6,544.6L435.0,550.0L445.5,554.3L456.0,557.2L466.4,559.2L476.9,560.5"/>
<path d="M83.1,538.1L101.1,537.6L119.2,537.5L137.2,537.8L155.3,537.8L173.3,533.2L183.8,530.9L194.3,528.2L204.7,527.9L215.2,527.4L225.7,526.6L236.1,525.5L246.6,524.5L257.1,523.6L267.5,522.8L278.0,522.3L288.5,522.2L298.9,522.3L309.4,522.5L319.9,522.5L330.4,522.5L340.8,523.0L351.3,524.1L361.8,525.8L372.2,527.8L382.7,530.2L393.2,532.9L403.6,536.3L414.1,540.4L424.6,545.3L435.0,550.1L445.5,554.0L456.0,556.5L466.4,558.0L476.9,559.0"/>
<path d="M83.1,539.0L101.1,538.5L119.2,538.2L137.2,538.2L155.3,538.0L173.3,533.2L183.8,530.8L194.3,528.2L204.7,528.1L215.2,527.8L225.7,527.1L236.1,526.1L246.6,525.0L257.1,523.9L267.5,522.8L278.0,522.1L288.5,521.7L298.9,521.6L309.4,521.5L319.9,521.3L330.4,521.2L340.8,521.8L351.3,522.9L361.8,524.7L372.2,527.0L382.7,529.6L393.2,532.6L403.6,536.3L414.1,540.7L424.6,545.9L435.0,551.0L445.5,555.0L456.0,557.5L466.4,559.0L476.9,559.9"/>
<path d="M83.1,532.0L101.1,532.6L119.2,533.0L137.2,533.2L155.3,533.2L173.3,533.2L183.8,527.5L194.3,521.3L204.7,514.8L215.2,508.4L225.7,502.2L236.1,496.1L246.6,490.4L257.1,485.3L267.5,480.6L278.0,476.3L288.5,472.2L298.9,468.5L309.4,465.4L319.9,463.1L330.4,462.1L340.8,462.6L351.3,464.0L361.8,466.1L372.2,468.6L382.7,471.3L393.2,473.9L403.6,476.6L414.1,479.1L424.6,481.5L435.0,483.4L445.5,484.4L456.0,484.3L466.4,483.4L476.9,482.1"/>
<path d="M83.1,525.7L101.1,529.3L119.2,531.8L137.2,533.0L155.3,533.2L173.3,533.2L183.8,527.5L194.3,521.1L204.7,514.5L215.2,508.1L225.7,501.7L236.1,495.5L246.6,489.8L257.1,484.6L267.5,479.9L278.0,475.6L288.5,471.4L298.9,467.5L309.4,464.2L319.9,462.0L330.4,461.0L340.8,461.4L351.3,462.4L361.8,463.9L372.2,465.8L382.7,468.3L393.2,471.3L403.6,474.5L414.1,477.5L424.6,480.2L435.0,482.0L445.5,482.2L456.0,480.7L466.4,477.9L476.9,474.4"/>
<path d="M83.1,615.7L101.1,598.3L119.2,579.9L137.2,560.7L155.3,544.7L173.3,533.2L183.8,533.3L194.3,533.4L204.7,533.4L215.2,533.2L225.7,532.7L236.1,532.0L246.6,531.2L257.1,530.3L267.5,529.4L278.0,528.7L288.5,528.3L298.9,528.2L309.4,528.0L319.9,527.6L330.4,527.3L340.8,527.6L351.3,528.4L361.8,529.9L372.2,531.9L382.7,534.3L393.2,537.3L403.6,541.0L414.1,545.5L424.6,550.8L435.0,556.2L445.5,560.6L456.0,563.7L466.4,566.0L476.9,567.8"/>
<path d="M83.1,623.1L101.1,603.9L119.2,583.9L137.2,563.4L155.3,546.1L173.3,533.2L183.8,533.2L194.3,533.3L204.7,533.3L215.2,533.2L225.7,533.0L236.1,532.7L246.6,532.1L257.1,531.3L267.5,530.3L278.0,529.6L288.5,529.2L298.9,529.1L309.4,529.0L319.9,528.7L330.4,528.5L340.8,528.9L351.3,529.7L361.8,530.9L372.2,532.6L382.7,535.1L393.2,538.7L403.6,543.1L414.1,548.4L424.6,554.2L435.0,560.4L445.5,566.6L456.0,572.5L466.4,578.1L476.9,583.7"/>
</g>
<polygon points="81.8,554.5 101.1,549.4 119.2,545.1 137.2,541.6 155.3,536.9 173.3,533.2 183.8,529.5 194.3,525.6 204.7,521.5 215.2,516.2 225.7,510.6 236.1,505.1 246.6,499.8 257.1,494.7 267.5,490.0 278.0,485.7 288.5,482.1 298.9,479.1 309.4,476.8 319.9,475.3 330.4,474.9 340.8,475.7 351.3,476.9 361.8,478.2 372.2,479.6 382.7,481.4 393.2,483.6 403.6,486.0 414.1,488.4 424.6,490.7 435.0,492.5 445.5,493.7 456.0,494.0 466.4,493.9 478.2,493.6 478.2,549.2 466.4,548.5 456.0,547.3 445.5,545.2 435.0,541.7 424.6,537.3 414.1,532.9 403.6,529.3 393.2,526.4 382.7,523.8 372.2,521.3 361.8,518.9 351.3,516.7 340.8,514.8 330.4,513.7 319.9,513.7 309.4,514.2 298.9,514.5 288.5,515.0 278.0,515.8 267.5,517.3 257.1,519.1 246.6,520.9 236.1,522.7 225.7,524.2 215.2,525.5 204.7,526.8 194.3,529.1 183.8,531.2 173.3,533.2 155.3,539.5 137.2,547.2 119.2,558.6 101.1,569.9 81.8,580.8" fill="#f00" stroke="none"/>
<g stroke="#f00" stroke-opacity="0.6">
<path d="M83.1,583.0L101.1,572.2L119.2,561.4L137.2,550.4L155.3,541.1L173.3,533.2L183.8,528.5L194.3,523.3L204.7,517.9L215.2,512.2L225.7,506.4L236.1,500.6L246.6,495.1L257.1,489.8L267.5,485.1L278.0,480.9L288.5,477.2L298.9,474.2L309.4,471.9L319.9,470.4L330.4,470.0L340.8,470.8L351.3,472.0L361.8,473.4L372.2,475.0L382.7,476.9L393.2,479.3L403.6,481.9L414.1,484.5L424.6,486.9L435.0,489.0L445.5,490.3L456.0,490.9L466.4,490.9L476.9,490.8"/>
<path d="M83.1,583.8L101.1,572.7L119.2,560.9L137.2,549.1L155.3,540.3L173.3,533.2L183.8,529.0L194.3,524.6L204.7,520.0L215.2,514.6L225.7,508.9L236.1,503.1L246.6,497.5L257.1,492.1L267.5,487.1L278.0,482.8L288.5,479.1L298.9,476.2L309.4,474.1L319.9,472.8L330.4,472.7L340.8,473.8L351.3,475.3L361.8,476.9L372.2,478.5L382.7,480.4L393.2,482.7L403.6,485.0L414.1,487.2L424.6,489.2L435.0,490.8L445.5,491.6L456.0,491.6L466.4,491.2L476.9,490.7"/>
<path d="M83.1,581.7L101.1,571.1L119.2,560.3L137.2,549.1L155.3,540.3L173.3,533.2L183.8,529.0L194.3,524.5L204.7,519.9L215.2,514.6L225.7,509.3L236.1,504.1L246.6,498.9L257.1,493.9L267.5,489.1L278.0,484.8L288.5,481.0L298.9,477.7L309.4,475.2L319.9,473.4L330.4,472.7L340.8,473.4L351.3,474.5L361.8,475.8L372.2,477.3L382.7,479.3L393.2,481.7L403.6,484.4L414.1,487.1L424.6,489.6L435.0,491.6L445.5,492.8L456.0,493.2L466.4,493.0L476.9,492.5"/>
<path d="M83.1,581.9L101.1,570.6L119.2,559.0L137.2,547.6L155.3,539.7L173.3,533.2L183.8,529.4L194.3,525.4L204.7,521.4L215.2,516.5L225.7,511.2L236.1,505.9L246.6,500.6L257.1,495.5L267.5,490.6L278.0,486.2L288.5,482.5L298.9,479.3L309.4,476.8L319.9,475.2L330.4,474.5L340.8,475.1L351.3,476.1L361.8,477.2L372.2,478.4L382.7,480.0L393.2,482.0L403.6,484.2L414.1,486.5L424.6,488.6L435.0,490.3L445.5,491.3L456.0,491.6L466.4,491.5L476.9,491.1"/>
<path d="M83.1,581.9L101.1,571.1L119.2,559.8L137.2,548.1L155.3,539.8L173.3,533.2L183.8,529.4L194.3,525.2L204.7,520.8L215.2,515.3L225.7,509.6L236.1,504.1L246.6,498.8L257.1,493.8L267.5,489.1L278.0,485.0L288.5,481.5L298.9,478.6L309.4,476.5L319.9,475.1L330.4,474.8L340.8,475.7L351.3,477.1L361.8,478.4L372.2,480.0L382.7,481.9L393.2,484.2L403.6,486.8L414.1,489.2L424.6,491.6L435.0,493.5L445.5,494.7L456.0,495.1L466.4,495.0L476.9,494.7"/>
<path d="M83.1,579.7L101.1,568.6L119.2,557.5L137.2,546.3L155.3,539.2L173.3,533.2L183.8,529.7L194.3,526.0L204.7,522.2L215.2,517.0L225.7,511.5L236.1,506.0L246.6,500.6L257.1,495.4L267.5,490.5L278.0,486.2L288.5,482.4L298.9,479.3L309.4,476.9L319.9,475.3L330.4,474.8L340.8,475.5L351.3,476.6L361.8,477.8L372.2,479.1L382.7,480.9L393.2,483.0L403.6,485.4L414.1,487.8L424.6,490.1L435.0,491.9L445.5,493.1L456.0,493.5L466.4,493.4L476.9,493.1"/>
<path d="M83.1,579.8L101.1,568.4L119.2,557.1L137.2,546.1L155.3,539.2L173.3,533.2L183.8,529.7L194.3,525.8L204.7,521.7L215.2,516.2L225.7,510.5L236.1,504.8L246.6,499.6L257.1,494.7L267.5,490.3L278.0,486.4L288.5,483.1L298.9,480.4L309.4,478.3L319.9,476.9L330.4,476.5L340.8,477.3L351.3,478.3L361.8,479.3L372.2,480.5L382.7,482.0L393.2,483.9L403.6,486.0L414.1,488.2L424.6,490.3L435.0,492.1L445.5,493.3L456.0,493.9L466.4,494.0L476.9,494.0"/>
<path d="M83.1,579.8L101.1,569.2L119.2,558.1L137.2,546.6L155.3,539.1L173.3,533.2L183.8,529.8L194.3,526.1L204.7,522.3L215.2,517.1L225.7,511.6L236.1,506.3L246.6,501.2L257.1,496.3L267.5,491.7L278.0,487.6L288.5,484.1L298.9,481.2L309.4,479.0L319.9,477.5L330.4,477.0L340.8,477.7L351.3,478.8L361.8,479.9L372.2,481.1L382.7,482.7L393.2,484.7L403.6,487.0L414.1,489.1L424.6,491.2L435.0,492.9L445.5,493.9L456.0,494.2L466.4,494.0L476.9,493.7"/>
<path d="M83.1,579.3L101.1,568.8L119.2,557.7L137.2,546.1L155.3,538.9L173.3,533.2L183.8,530.0L194.3,526.6L204.7,523.1L215.2,518.1L225.7,512.8L236.1,507.4L246.6,502.1L257.1,496.9L267.5,492.0L278.0,487.6L288.5,483.7L298.9,480.5L309.4,477.9L319.9,476.3L330.4,475.7L340.8,476.5L351.3,477.7L361.8,479.1L372.2,480.7L382.7,482.7L393.2,485.1L403.6,487.8L414.1,490.4L424.6,492.8L435.0,494.8L445.5,496.0L456.0,496.3L466.4,496.1L476.9,495.6"/>
<path d="M83.1,577.5L101.1,566.4L119.2,555.5L137.2,544.9L155.3,538.6L173.3,533.2L183.8,530.0L194.3,526.4L204.7,522.5L215.2,517.0L225.7,511.2L236.1,505.6L246.6,500.5L257.1,495.8L267.5,491.6L278.0,487.8L288.5,484.7L298.9,482.1L309.4,480.1L319.9,478.8L330.4,478.4L340.8,479.2L351.3,480.2L361.8,481.1L372.2,482.2L382.7,483.5L393.2,485.2L403.6,487.2L414.1,489.2L424.6,491.1L435.0,492.8L445.5,493.8L456.0,494.3L466.4,494.4L476.9,494.4"/>
<path d="M83.1,552.8L101.1,547.7L119.2,543.0L137.2,539.2L155.3,535.6L173.3,533.2L183.8,532.1L194.3,530.9L204.7,529.8L215.2,529.0L225.7,527.9L236.1,526.7L246.6,525.0L257.1,523.2L267.5,521.4L278.0,519.9L288.5,519.0L298.9,518.4L309.4,517.9L319.9,517.2L330.4,517.0L340.8,517.9L351.3,519.5L361.8,521.5L372.2,523.7L382.7,526.0L393.2,528.3L403.6,531.1L414.1,534.7L424.6,539.0L435.0,543.4L445.5,546.9L456.0,549.1L466.4,550.4L476.9,551.3"/>
<path d="M83.1,552.8L101.1,547.5L119.2,542.9L137.2,539.3L155.3,535.8L173.3,533.2L183.8,531.9L194.3,530.7L204.7,529.4L215.2,528.4L225.7,527.3L236.1,525.9L246.6,524.1L257.1,522.2L267.5,520.4L278.0,518.9L288.5,517.9L298.9,517.3L309.4,516.8L319.9,516.2L330.4,516.1L340.8,517.1L351.3,518.8L361.8,520.9L372.2,523.2L382.7,525.6L393.2,528.0L403.6,530.9L414.1,534.5L424.6,538.9L435.0,543.4L445.5,546.8L456.0,549.1L466.4,550.4L476.9,551.1"/>
<path d="M83.1,554.2L101.1,548.9L119.2,544.2L137.2,540.5L155.3,536.3L173.3,533.2L183.8,531.6L194.3,530.0L204.7,528.4L215.2,527.4L225.7,526.4L236.1,525.0L246.6,523.4L257.1,521.5L267.5,519.7L278.0,518.2L288.5,517.2L298.9,516.7L309.4,516.2L319.9,515.6L330.4,515.4L340.8,516.3L351.3,518.0L361.8,520.0L372.2,522.3L382.7,524.5L393.2,526.9L403.6,529.7L414.1,533.2L424.6,537.5L435.0,541.8L445.5,545.2L456.0,547.3L466.4,548.5L476.9,549.1"/>
<path d="M83.1,553.7L101.1,548.4L119.2,543.9L137.2,540.6L155.3,536.5L173.3,533.2L183.8,531.4L194.3,529.6L204.7,527.6L215.2,526.4L225.7,525.0L236.1,523.3L246.6,521.4L257.1,519.5L267.5,517.6L278.0,516.1L288.5,515.2L298.9,514.7L309.4,514.4L319.9,514.0L330.4,514.0L340.8,515.2L351.3,517.2L361.8,519.6L372.2,522.1L382.7,524.7L393.2,527.4L403.6,530.5L414.1,534.2L424.6,538.7L435.0,543.1L445.5,546.6L456.0,548.7L466.4,549.8L476.9,550.4"/>
<path d="M83.1,553.5L101.1,548.3L119.2,544.2L137.2,541.3L155.3,536.9L173.3,533.2L183.8,531.2L194.3,528.9L204.7,526.4L215.2,524.9L225.7,523.5L236.1,521.9L246.6,520.3L257.1,518.7L267.5,517.2L278.0,516.1L288.5,515.5L298.9,515.3L309.4,515.1L319.9,514.8L330.4,514.8L340.8,515.9L351.3,517.7L361.8,519.7L372.2,521.9L382.7,524.0L393.2,526.3L403.6,528.9L414.1,532.3L424.6,536.5L435.0,540.8L445.5,544.2L456.0,546.4L466.4,547.7L476.9,548.5"/>
<path d="M83.1,555.8L101.1,550.8L119.2,546.2L137.2,542.4L155.3,537.1L173.3,533.2L183.8,531.1L194.3,529.0L204.7,526.8L215.2,525.8L225.7,524.8L236.1,523.5L246.6,521.9L257.1,520.1L267.5,518.3L278.0,516.8L288.5,515.8L298.9,515.1L309.4,514.6L319.9,513.9L330.4,513.6L340.8,514.5L351.3,516.0L361.8,518.0L372.2,520.3L382.7,522.6L393.2,525.0L403.6,527.9L414.1,531.5L424.6,536.0L435.0,540.5L445.5,544.1L456.0,546.5L466.4,547.9L476.9,548.8"/>
<path d="M83.1,554.0L101.1,549.2L119.2,545.3L137.2,542.2L155.3,537.2L173.3,533.2L183.8,531.0L194.3,528.5L204.7,525.7L215.2,524.1L225.7,522.4L236.1,520.6L246.6,518.7L257.1,516.7L267.5,514.9L278.0,513.5L288.5,512.7L298.9,512.3L309.4,512.0L319.9,511.6L330.4,511.7L340.8,513.0L351.3,515.0L361.8,517.4L372.2,520.0L382.7,522.7L393.2,525.4L403.6,528.6L414.1,532.4L424.6,537.1L435.0,541.7L445.5,545.3L456.0,547.6L466.4,549.0L476.9,549.8"/>
<path d="M83.1,555.1L101.1,549.9L119.2,545.8L137.2,542.6L155.3,537.4L173.3,533.2L183.8,530.8L194.3,528.3L204.7,525.5L215.2,524.1L225.7,522.9L236.1,521.5L246.6,520.0L257.1,518.3L267.5,516.7L278.0,515.3L288.5,514.5L298.9,514.0L309.4,513.5L319.9,512.8L330.4,512.6L340.8,513.5L351.3,515.1L361.8,517.2L372.2,519.6L382.7,522.1L393.2,524.7L403.6,527.8L414.1,531.7L424.6,536.3L435.0,540.9L445.5,544.5L456.0,546.7L466.4,548.0L476.9,548.6"/>
<path d="M83.1,556.8L101.1,551.0L119.2,546.0L137.2,542.4L155.3,537.4L173.3,533.2L183.8,530.8L194.3,528.3L204.7,525.6L215.2,524.0L225.7,522.4L236.1,520.3L246.6,518.2L257.1,516.1L267.5,514.2L278.0,512.8L288.5,512.1L298.9,511.9L309.4,511.8L319.9,511.8L330.4,512.2L340.8,513.8L351.3,516.0L361.8,518.6L372.2,521.2L382.7,523.8L393.2,526.3L403.6,529.1L414.1,532.5L424.6,536.6L435.0,540.6L445.5,543.5L456.0,545.2L466.4,546.1L476.9,546.4"/>
<path d="M83.1,555.1L101.1,550.0L119.2,545.9L137.2,542.9L155.3,537.7L173.3,533.2L183.8,530.6L194.3,527.9L204.7,525.0L215.2,523.5L225.7,522.0L236.1,520.2L246.6,518.3L257.1,516.2L267.5,514.3L278.0,512.7L288.5,511.8L298.9,511.2L309.4,510.8L319.9,510.4L330.4,510.3L340.8,511.5L351.3,513.4L361.8,515.7L372.2,518.3L382.7,520.9L393.2,523.6L403.6,526.7L414.1,530.5L424.6,535.2L435.0,539.8L445.5,543.4L456.0,545.7L466.4,547.1L476.9,548.0"/>
<path d="M83.1,548.8L101.1,543.9L119.2,539.8L137.2,536.6L155.3,534.5L173.3,533.2L183.8,528.1L194.3,522.5L204.7,516.8L215.2,511.2L225.7,505.7L236.1,500.2L246.6,494.8L257.1,489.7L267.5,485.0L278.0,480.7L288.5,477.1L298.9,474.1L309.4,471.8L319.9,470.2L330.4,469.8L340.8,470.6L351.3,471.8L361.8,473.0L372.2,474.5L382.7,476.3L393.2,478.6L403.6,481.0L414.1,483.4L424.6,485.7L435.0,487.5L445.5,488.6L456.0,488.9L466.4,488.7L476.9,488.2"/>
<path d="M83.1,547.2L101.1,542.9L119.2,539.1L137.2,536.1L155.3,534.2L173.3,533.2L183.8,528.0L194.3,522.4L204.7,516.6L215.2,510.9L225.7,505.3L236.1,499.8L246.6,494.4L257.1,489.4L267.5,484.6L278.0,480.4L288.5,476.8L298.9,473.8L309.4,471.5L319.9,470.0L330.4,469.5L340.8,470.3L351.3,471.5L361.8,472.7L372.2,474.2L382.7,476.0L393.2,478.2L403.6,480.6L414.1,483.0L424.6,485.2L435.0,487.0L445.5,487.9L456.0,487.9L466.4,487.3L476.9,486.3"/>
<path d="M83.1,542.5L101.1,540.0L119.2,537.5L137.2,535.0L155.3,533.6L173.3,533.2L183.8,527.9L194.3,522.2L204.7,516.3L215.2,510.5L225.7,504.9L236.1,499.3L246.6,493.9L257.1,488.8L267.5,484.1L278.0,479.9L288.5,476.2L298.9,473.2L309.4,470.8L319.9,469.2L330.4,468.6L340.8,469.3L351.3,470.4L361.8,471.7L372.2,473.3L382.7,475.2L393.2,477.5L403.6,479.9L414.1,482.4L424.6,484.6L435.0,486.4L445.5,487.1L456.0,486.8L466.4,485.8L476.9,484.3"/>
<path d="M83.1,586.9L101.1,575.7L119.2,564.1L137.2,552.4L155.3,541.9L173.3,533.2L183.8,532.7L194.3,532.1L204.7,531.4L215.2,530.5L225.7,529.2L236.1,527.6L246.6,525.9L257.1,524.1L267.5,522.3L278.0,520.9L288.5,520.0L298.9,519.6L309.4,519.2L319.9,518.7L330.4,518.7L340.8,519.9L351.3,521.7L361.8,523.9L372.2,526.4L382.7,528.8L393.2,531.4L403.6,534.3L414.1,538.0L424.6,542.5L435.0,546.9L445.5,550.4L456.0,552.6L466.4,553.8L476.9,554.4"/>
<path d="M83.1,590.1L101.1,578.1L119.2,565.9L137.2,553.5L155.3,542.4L173.3,533.2L183.8,532.8L194.3,532.3L204.7,531.7L215.2,530.9L225.7,529.6L236.1,528.1L246.6,526.4L257.1,524.6L267.5,522.9L278.0,521.5L288.5,520.7L298.9,520.2L309.4,519.8L319.9,519.3L330.4,519.3L340.8,520.4L351.3,522.2L361.8,524.5L372.2,526.9L382.7,529.4L393.2,531.9L403.6,534.9L414.1,538.7L424.6,543.3L435.0,548.0L445.5,551.7L456.0,553.9L466.4,555.1L476.9,555.8"/>
<path d="M83.1,597.2L101.1,583.2L119.2,569.2L137.2,555.4L155.3,543.3L173.3,533.2L183.8,532.9L194.3,532.6L204.7,532.2L215.2,531.4L225.7,530.2L236.1,528.7L246.6,527.0L257.1,525.2L267.5,523.6L278.0,522.3L288.5,521.5L298.9,521.0L309.4,520.7L319.9,520.2L330.4,520.2L340.8,521.3L351.3,523.2L361.8,525.5L372.2,528.0L382.7,530.5L393.2,533.0L403.6,536.1L414.1,540.1L424.6,545.2L435.0,550.3L445.5,554.3L456.0,556.6L466.4,557.7L476.9,558.2"/>
</g>
</g>
<rect x="64.6" y="384.0" width="432.4" height="260.0" fill="none" stroke="#000" stroke-width="1.6"/>
<path d="M132.3,644.0v6.6M214.3,644.0v6.6M296.4,644.0v6.6M378.5,644.0v6.6M460.5,644.0v6.6M64.6,612.8h-6.6M64.6,573.0h-6.6M64.6,533.2h-6.6M64.6,493.4h-6.6M64.6,453.6h-6.6M64.6,413.8h-6.6" stroke="#000" stroke-width="1.4" fill="none"/>
<g font-size="17.9px" letter-spacing="0" filter="url(#soft)">
<g text-anchor="middle">
<text transform="translate(132.7,668.7) scale(1.0,1)" font-size="16.5px">0.5</text>
<text transform="translate(214.8,668.7) scale(1.0,1)" font-size="16.5px">0.6</text>
<text transform="translate(296.8,668.7) scale(1.0,1)" font-size="16.5px">0.7</text>
<text transform="translate(378.9,668.7) scale(1.0,1)" font-size="16.5px">0.8</text>
<text transform="translate(460.9,668.7) scale(1.0,1)" font-size="16.5px">0.9</text>
<text transform="translate(280.8,689.6) scale(1.0,1)">Wavelength</text>
</g>
<g text-anchor="end">
<text transform="translate(49.4,619.9) scale(1.0,1)" font-size="16.5px">0.6</text>
<text transform="translate(49.4,580.2) scale(1.0,1)" font-size="16.5px">0.8</text>
<text transform="translate(49.4,540.4) scale(1.0,1)" font-size="16.5px">1.0</text>
<text transform="translate(49.4,500.1) scale(1.0,1)" font-size="16.5px">1.2</text>
<text transform="translate(49.4,459.9) scale(1.0,1)" font-size="16.5px">1.4</text>
<text transform="translate(49.4,419.5) scale(1.0,1)" font-size="16.5px">1.6</text>
</g>
<text transform="translate(15.2,514.0) rotate(-90) scale(1.0,1)" text-anchor="middle">Normalized Reflectance</text>
<rect x="73.3" y="392.7" width="198.8" height="59" rx="3" ry="3" fill="#fff" fill-opacity="0.8" stroke="#ccc" stroke-opacity="0.8" stroke-width="1.4"/>
<path d="M78.2,406.4h38.3" stroke="#00f" stroke-opacity="0.6" stroke-width="2.3" fill="none"/>
<path d="M78.2,433.5h38.3" stroke="#f00" stroke-opacity="0.6" stroke-width="2.3" fill="none"/>
<text transform="translate(129.6,412.4) scale(1.0,1)">Expanded data</text>
<text transform="translate(129.6,439.4) scale(1.0,1)">Raw data</text>
<text transform="translate(280.4,378.8) scale(1.0,1)" text-anchor="middle" font-size="21.5px" xml:space="preserve" style="white-space:pre">S  489→2000</text>
</g>
</g>
<g>
<g fill="none" stroke-width="2.5" stroke-linejoin="round" stroke-linecap="square" filter="url(#soft)">
<polygon points="579.4,516.5 598.7,521.9 616.8,526.9 634.8,531.1 652.9,533.5 670.9,533.2 681.4,531.0 691.9,528.5 702.3,524.7 712.8,520.5 723.3,516.4 733.7,512.3 744.2,508.2 754.7,504.1 765.1,500.2 775.6,496.9 786.1,494.5 796.5,492.7 807.0,491.1 817.5,489.5 828.0,488.4 838.4,488.2 848.9,488.9 859.4,490.2 869.8,491.9 880.3,493.8 890.8,495.7 901.2,497.3 911.7,498.1 922.2,498.2 932.6,497.6 943.1,496.2 953.6,494.0 964.0,491.2 975.8,488.0 975.8,552.1 964.0,549.8 953.6,547.5 943.1,545.2 932.6,543.0 922.2,540.9 911.7,539.4 901.2,538.7 890.8,538.6 880.3,538.6 869.8,538.4 859.4,538.0 848.9,537.7 838.4,537.6 828.0,537.9 817.5,538.6 807.0,539.4 796.5,540.2 786.1,540.8 775.6,540.9 765.1,540.6 754.7,539.9 744.2,539.1 733.7,538.3 723.3,537.4 712.8,536.3 702.3,534.9 691.9,533.6 681.4,533.4 670.9,533.2 652.9,537.9 634.8,547.5 616.8,560.0 598.7,571.6 579.4,582.3" fill="#00f" stroke="none"/>
<g stroke="#00f" stroke-opacity="0.6">
<path d="M580.7,584.7L598.7,573.9L616.8,562.2L634.8,549.8L652.9,539.8L670.9,533.2L681.4,529.9L691.9,526.4L702.3,522.3L712.8,518.2L723.3,514.1L733.7,509.9L744.2,505.7L754.7,501.5L765.1,497.5L775.6,494.1L786.1,491.6L796.5,489.7L807.0,488.0L817.5,486.3L828.0,485.1L838.4,485.0L848.9,485.6L859.4,486.9L869.8,488.6L880.3,490.5L890.8,492.5L901.2,494.2L911.7,495.1L922.2,495.3L932.6,494.7L943.1,493.5L953.6,491.4L964.0,488.7L974.5,485.7"/>
<path d="M580.7,583.3L598.7,572.7L616.8,561.4L634.8,549.1L652.9,539.2L670.9,533.2L681.4,530.3L691.9,526.9L702.3,522.8L712.8,518.5L723.3,514.3L733.7,510.1L744.2,506.0L754.7,502.0L765.1,498.3L775.6,495.2L786.1,492.9L796.5,491.2L807.0,489.8L817.5,488.3L828.0,487.3L838.4,487.3L848.9,488.0L859.4,489.3L869.8,491.1L880.3,492.9L890.8,494.8L901.2,496.3L911.7,497.1L922.2,497.0L932.6,496.2L943.1,494.7L953.6,492.3L964.0,489.4L974.5,486.1"/>
<path d="M580.7,582.4L598.7,571.8L616.8,560.5L634.8,548.4L652.9,538.8L670.9,533.2L681.4,530.5L691.9,527.4L702.3,523.3L712.8,519.0L723.3,514.7L733.7,510.3L744.2,506.0L754.7,501.8L765.1,497.9L775.6,494.5L786.1,492.0L796.5,490.2L807.0,488.6L817.5,487.0L828.0,485.9L838.4,485.9L848.9,486.6L859.4,488.0L869.8,489.8L880.3,491.8L890.8,493.9L901.2,495.6L911.7,496.7L922.2,496.9L932.6,496.4L943.1,495.2L953.6,493.2L964.0,490.5L974.5,487.5"/>
<path d="M580.7,582.4L598.7,571.9L616.8,560.5L634.8,548.3L652.9,538.5L670.9,533.2L681.4,530.6L691.9,527.7L702.3,523.6L712.8,519.4L723.3,515.2L733.7,511.1L744.2,507.1L754.7,503.1L765.1,499.5L775.6,496.4L786.1,494.1L796.5,492.5L807.0,491.0L817.5,489.5L828.0,488.4L838.4,488.3L848.9,488.9L859.4,490.2L869.8,491.8L880.3,493.5L890.8,495.3L901.2,496.7L911.7,497.4L922.2,497.3L932.6,496.5L943.1,494.9L953.6,492.6L964.0,489.8L974.5,486.6"/>
<path d="M580.7,582.7L598.7,571.7L616.8,560.0L634.8,547.5L652.9,538.1L670.9,533.2L681.4,530.9L691.9,528.3L702.3,524.5L712.8,520.3L723.3,516.1L733.7,511.8L744.2,507.5L754.7,503.3L765.1,499.3L775.6,495.9L786.1,493.4L796.5,491.6L807.0,490.0L817.5,488.5L828.0,487.4L838.4,487.4L848.9,488.1L859.4,489.6L869.8,491.5L880.3,493.5L890.8,495.6L901.2,497.3L911.7,498.3L922.2,498.5L932.6,497.9L943.1,496.5L953.6,494.3L964.0,491.5L974.5,488.3"/>
<path d="M580.7,582.5L598.7,571.3L616.8,559.5L634.8,547.2L652.9,537.9L670.9,533.2L681.4,530.9L691.9,528.3L702.3,524.3L712.8,519.9L723.3,515.6L733.7,511.3L744.2,507.1L754.7,503.1L765.1,499.5L775.6,496.4L786.1,494.3L796.5,492.8L807.0,491.5L817.5,490.1L828.0,489.1L838.4,489.0L848.9,489.6L859.4,490.8L869.8,492.3L880.3,493.9L890.8,495.5L901.2,496.8L911.7,497.4L922.2,497.3L932.6,496.5L943.1,495.1L953.6,493.0L964.0,490.3L974.5,487.4"/>
<path d="M580.7,582.9L598.7,572.3L616.8,560.4L634.8,547.6L652.9,537.8L670.9,533.2L681.4,531.1L691.9,528.9L702.3,525.3L712.8,521.4L723.3,517.4L733.7,513.4L744.2,509.2L754.7,504.9L765.1,500.8L775.6,497.3L786.1,494.6L796.5,492.6L807.0,490.8L817.5,489.0L828.0,487.8L838.4,487.6L848.9,488.2L859.4,489.6L869.8,491.5L880.3,493.6L890.8,495.7L901.2,497.5L911.7,498.6L922.2,499.0L932.6,498.5L943.1,497.2L953.6,495.1L964.0,492.4L974.5,489.2"/>
<path d="M580.7,581.4L598.7,571.1L616.8,559.9L634.8,547.5L652.9,537.8L670.9,533.2L681.4,531.1L691.9,528.6L702.3,524.6L712.8,520.3L723.3,516.1L733.7,512.0L744.2,508.0L754.7,504.2L765.1,500.6L775.6,497.6L786.1,495.4L796.5,493.8L807.0,492.5L817.5,491.1L828.0,490.1L838.4,490.1L848.9,490.8L859.4,492.1L869.8,493.8L880.3,495.5L890.8,497.3L901.2,498.7L911.7,499.4L922.2,499.2L932.6,498.3L943.1,496.6L953.6,494.2L964.0,491.1L974.5,487.8"/>
<path d="M580.7,582.0L598.7,571.1L616.8,559.4L634.8,546.8L652.9,537.3L670.9,533.2L681.4,531.3L691.9,529.3L702.3,525.7L712.8,521.6L723.3,517.6L733.7,513.6L744.2,509.5L754.7,505.4L765.1,501.6L775.6,498.3L786.1,495.9L796.5,494.0L807.0,492.4L817.5,490.8L828.0,489.6L838.4,489.4L848.9,490.0L859.4,491.2L869.8,492.9L880.3,494.7L890.8,496.5L901.2,498.0L911.7,498.8L922.2,498.8L932.6,498.0L943.1,496.6L953.6,494.3L964.0,491.5L974.5,488.3"/>
<path d="M580.7,580.3L598.7,569.5L616.8,558.3L634.8,546.4L652.9,537.3L670.9,533.2L681.4,531.3L691.9,528.9L702.3,525.0L712.8,520.8L723.3,516.8L733.7,512.9L744.2,509.2L754.7,505.5L765.1,502.0L775.6,499.0L786.1,496.7L796.5,494.8L807.0,493.1L817.5,491.1L828.0,489.6L838.4,489.0L848.9,489.2L859.4,490.2L869.8,491.6L880.3,493.4L890.8,495.3L901.2,497.1L911.7,498.3L922.2,498.8L932.6,498.5L943.1,497.6L953.6,495.7L964.0,493.2L974.5,490.2"/>
<path d="M580.7,581.2L598.7,570.3L616.8,558.5L634.8,546.1L652.9,536.9L670.9,533.2L681.4,531.5L691.9,529.8L702.3,526.2L712.8,522.1L723.3,518.1L733.7,513.9L744.2,509.7L754.7,505.5L765.1,501.5L775.6,498.1L786.1,495.6L796.5,493.7L807.0,492.0L817.5,490.3L828.0,489.1L838.4,488.9L848.9,489.4L859.4,490.7L869.8,492.4L880.3,494.3L890.8,496.2L901.2,497.8L911.7,498.8L922.2,499.0L932.6,498.4L943.1,497.1L953.6,495.0L964.0,492.3L974.5,489.3"/>
<path d="M580.7,581.0L598.7,569.9L616.8,558.0L634.8,545.6L652.9,536.6L670.9,533.2L681.4,531.7L691.9,530.1L702.3,526.5L712.8,522.3L723.3,518.1L733.7,513.8L744.2,509.4L754.7,505.1L765.1,501.0L775.6,497.5L786.1,494.9L796.5,493.0L807.0,491.4L817.5,489.8L828.0,488.7L838.4,488.7L848.9,489.5L859.4,491.0L869.8,492.9L880.3,495.0L890.8,497.2L901.2,499.0L911.7,500.1L922.2,500.4L932.6,499.9L943.1,498.6L953.6,496.5L964.0,493.8L974.5,490.6"/>
<path d="M580.7,580.3L598.7,569.1L616.8,557.3L634.8,545.2L652.9,536.5L670.9,533.2L681.4,531.7L691.9,529.8L702.3,525.9L712.8,521.5L723.3,517.0L733.7,512.6L744.2,508.4L754.7,504.4L765.1,500.8L775.6,497.8L786.1,495.8L796.5,494.4L807.0,493.2L817.5,491.9L828.0,491.1L838.4,491.1L848.9,491.8L859.4,493.1L869.8,494.7L880.3,496.3L890.8,497.9L901.2,499.1L911.7,499.6L922.2,499.2L932.6,498.2L943.1,496.6L953.6,494.2L964.0,491.4L974.5,488.3"/>
<path d="M580.7,581.4L598.7,571.0L616.8,559.2L634.8,546.1L652.9,536.5L670.9,533.2L681.4,531.8L691.9,530.5L702.3,527.1L712.8,523.1L723.3,519.1L733.7,514.8L744.2,510.3L754.7,505.8L765.1,501.5L775.6,497.9L786.1,495.2L796.5,493.3L807.0,491.7L817.5,490.3L828.0,489.4L838.4,489.6L848.9,490.6L859.4,492.3L869.8,494.4L880.3,496.6L890.8,498.7L901.2,500.3L911.7,501.1L922.2,501.0L932.6,500.0L943.1,498.2L953.6,495.6L964.0,492.4L974.5,488.9"/>
<path d="M580.7,579.2L598.7,568.5L616.8,557.1L634.8,545.1L652.9,536.3L670.9,533.2L681.4,531.8L691.9,530.1L702.3,526.3L712.8,521.9L723.3,517.5L733.7,513.1L744.2,508.8L754.7,504.7L765.1,500.9L775.6,497.7L786.1,495.4L796.5,493.8L807.0,492.5L817.5,491.2L828.0,490.3L838.4,490.4L848.9,491.3L859.4,492.8L869.8,494.8L880.3,496.8L890.8,498.8L901.2,500.4L911.7,501.3L922.2,501.3L932.6,500.6L943.1,499.0L953.6,496.6L964.0,493.6L974.5,490.2"/>
<path d="M580.7,580.0L598.7,569.0L616.8,557.4L634.8,545.1L652.9,536.2L670.9,533.2L681.4,531.9L691.9,530.3L702.3,526.6L712.8,522.3L723.3,518.1L733.7,513.9L744.2,509.8L754.7,505.8L765.1,502.2L775.6,499.1L786.1,496.9L796.5,495.2L807.0,493.8L817.5,492.2L828.0,491.1L838.4,490.9L848.9,491.4L859.4,492.6L869.8,494.1L880.3,495.8L890.8,497.5L901.2,498.9L911.7,499.7L922.2,499.7L932.6,499.1L943.1,497.7L953.6,495.7L964.0,493.0L974.5,490.1"/>
<path d="M580.7,514.8L598.7,520.2L616.8,525.0L634.8,529.0L652.9,531.8L670.9,533.2L681.4,534.3L691.9,535.6L702.3,537.2L712.8,538.7L723.3,539.8L733.7,540.6L744.2,541.4L754.7,542.0L765.1,542.6L775.6,542.8L786.1,542.6L796.5,541.9L807.0,541.1L817.5,540.3L828.0,539.7L838.4,539.4L848.9,539.6L859.4,540.1L869.8,540.6L880.3,540.9L890.8,541.0L901.2,541.2L911.7,542.0L922.2,543.5L932.6,545.5L943.1,547.7L953.6,549.9L964.0,552.1L974.5,554.3"/>
<path d="M580.7,515.4L598.7,520.9L616.8,525.7L634.8,529.6L652.9,532.2L670.9,533.2L681.4,534.1L691.9,535.2L702.3,536.8L712.8,538.2L723.3,539.3L733.7,540.1L744.2,540.7L754.7,541.3L765.1,541.8L775.6,542.1L786.1,541.8L796.5,541.3L807.0,540.5L817.5,539.8L828.0,539.3L838.4,539.2L848.9,539.4L859.4,540.0L869.8,540.5L880.3,540.8L890.8,540.8L901.2,540.9L911.7,541.5L922.2,542.8L932.6,544.7L943.1,546.7L953.6,548.8L964.0,551.0L974.5,553.2"/>
<path d="M580.7,516.3L598.7,521.8L616.8,526.5L634.8,530.3L652.9,532.7L670.9,533.2L681.4,533.9L691.9,534.8L702.3,536.4L712.8,538.0L723.3,539.3L733.7,540.4L744.2,541.3L754.7,542.0L765.1,542.6L775.6,542.8L786.1,542.5L796.5,541.7L807.0,540.7L817.5,539.7L828.0,538.8L838.4,538.2L848.9,538.1L859.4,538.3L869.8,538.6L880.3,538.7L890.8,538.7L901.2,538.9L911.7,539.7L922.2,541.3L932.6,543.5L943.1,546.0L953.6,548.5L964.0,551.0L974.5,553.5"/>
<path d="M580.7,515.9L598.7,521.6L616.8,526.7L634.8,530.8L652.9,533.1L670.9,533.2L681.4,533.7L691.9,533.9L702.3,535.0L712.8,536.2L723.3,537.2L733.7,537.9L744.2,538.8L754.7,539.7L765.1,540.5L775.6,541.0L786.1,541.0L796.5,540.6L807.0,540.0L817.5,539.4L828.0,538.9L838.4,538.7L848.9,538.9L859.4,539.5L869.8,540.0L880.3,540.3L890.8,540.4L901.2,540.7L911.7,541.4L922.2,543.0L932.6,545.1L943.1,547.3L953.6,549.6L964.0,551.8L974.5,554.1"/>
<path d="M580.7,516.4L598.7,521.2L616.8,525.8L634.8,530.1L652.9,533.0L670.9,533.2L681.4,533.6L691.9,534.0L702.3,535.2L712.8,536.4L723.3,537.1L733.7,537.7L744.2,538.3L754.7,539.0L765.1,539.6L775.6,540.1L786.1,540.1L796.5,539.8L807.0,539.3L817.5,538.8L828.0,538.5L838.4,538.5L848.9,538.9L859.4,539.5L869.8,540.0L880.3,540.2L890.8,540.1L901.2,540.1L911.7,540.5L922.2,541.7L932.6,543.4L943.1,545.3L953.6,547.2L964.0,549.2L974.5,551.3"/>
<path d="M580.7,516.8L598.7,522.1L616.8,526.9L634.8,531.0L652.9,533.5L670.9,533.2L681.4,533.4L691.9,533.7L702.3,535.2L712.8,536.7L723.3,537.9L733.7,539.0L744.2,539.9L754.7,540.7L765.1,541.4L775.6,541.8L786.1,541.6L796.5,541.0L807.0,540.2L817.5,539.3L828.0,538.6L838.4,538.3L848.9,538.3L859.4,538.6L869.8,538.9L880.3,539.0L890.8,539.0L901.2,539.0L911.7,539.6L922.2,541.0L932.6,543.0L943.1,545.2L953.6,547.4L964.0,549.6L974.5,551.8"/>
<path d="M580.7,517.1L598.7,523.0L616.8,527.9L634.8,531.7L652.9,533.7L670.9,533.2L681.4,533.4L691.9,533.6L702.3,535.1L712.8,536.7L723.3,537.9L733.7,538.8L744.2,539.4L754.7,539.9L765.1,540.3L775.6,540.3L786.1,539.9L796.5,539.1L807.0,538.3L817.5,537.4L828.0,536.9L838.4,536.8L848.9,537.1L859.4,537.8L869.8,538.5L880.3,539.0L890.8,539.2L901.2,539.4L911.7,540.1L922.2,541.6L932.6,543.4L943.1,545.4L953.6,547.4L964.0,549.4L974.5,551.4"/>
<path d="M580.7,517.5L598.7,522.5L616.8,527.1L634.8,531.2L652.9,533.7L670.9,533.2L681.4,533.2L691.9,533.3L702.3,534.5L712.8,535.7L723.3,536.6L733.7,537.2L744.2,537.8L754.7,538.5L765.1,539.1L775.6,539.5L786.1,539.5L796.5,539.1L807.0,538.5L817.5,537.9L828.0,537.5L838.4,537.5L848.9,537.8L859.4,538.3L869.8,538.8L880.3,539.0L890.8,538.9L901.2,538.9L911.7,539.4L922.2,540.7L932.6,542.5L943.1,544.5L953.6,546.5L964.0,548.6L974.5,550.7"/>
<path d="M580.7,517.4L598.7,522.6L616.8,527.4L634.8,531.5L652.9,533.9L670.9,533.2L681.4,533.2L691.9,533.2L702.3,534.5L712.8,536.0L723.3,537.2L733.7,538.1L744.2,538.9L754.7,539.6L765.1,540.2L775.6,540.4L786.1,540.1L796.5,539.4L807.0,538.5L817.5,537.5L828.0,536.8L838.4,536.3L848.9,536.3L859.4,536.6L869.8,537.0L880.3,537.2L890.8,537.2L901.2,537.3L911.7,538.1L922.2,539.6L932.6,541.8L943.1,544.1L953.6,546.5L964.0,548.9L974.5,551.4"/>
<path d="M580.7,517.8L598.7,523.0L616.8,527.7L634.8,531.8L652.9,534.1L670.9,533.2L681.4,533.1L691.9,533.1L702.3,534.5L712.8,536.1L723.3,537.4L733.7,538.5L744.2,539.3L754.7,540.0L765.1,540.6L775.6,540.8L786.1,540.5L796.5,539.8L807.0,538.8L817.5,537.8L828.0,536.9L838.4,536.4L848.9,536.3L859.4,536.5L869.8,536.8L880.3,536.8L890.8,536.7L901.2,536.7L911.7,537.3L922.2,538.8L932.6,540.8L943.1,543.0L953.6,545.3L964.0,547.7L974.5,550.0"/>
<path d="M580.7,516.8L598.7,522.0L616.8,527.1L634.8,531.7L652.9,534.3L670.9,533.2L681.4,532.9L691.9,532.3L702.3,533.2L712.8,534.3L723.3,535.2L733.7,536.0L744.2,536.9L754.7,538.0L765.1,538.9L775.6,539.6L786.1,539.8L796.5,539.6L807.0,539.1L817.5,538.5L828.0,537.9L838.4,537.6L848.9,537.6L859.4,537.8L869.8,538.0L880.3,537.8L890.8,537.5L901.2,537.3L911.7,537.6L922.2,538.9L932.6,540.7L943.1,542.9L953.6,545.1L964.0,547.5L974.5,550.0"/>
<path d="M580.7,517.2L598.7,523.0L616.8,528.4L634.8,532.8L652.9,534.8L670.9,533.2L681.4,532.8L691.9,532.2L702.3,533.3L712.8,534.8L723.3,536.1L733.7,537.2L744.2,538.3L754.7,539.3L765.1,540.0L775.6,540.4L786.1,540.1L796.5,539.4L807.0,538.4L817.5,537.3L828.0,536.4L838.4,535.8L848.9,535.6L859.4,535.8L869.8,536.2L880.3,536.3L890.8,536.4L901.2,536.7L911.7,537.6L922.2,539.4L932.6,541.7L943.1,544.2L953.6,546.7L964.0,549.1L974.5,551.5"/>
<path d="M580.7,518.6L598.7,524.0L616.8,528.8L634.8,532.8L652.9,534.7L670.9,533.2L681.4,532.8L691.9,532.3L702.3,533.5L712.8,535.0L723.3,536.2L733.7,537.2L744.2,538.0L754.7,538.8L765.1,539.4L775.6,539.7L786.1,539.4L796.5,538.7L807.0,537.8L817.5,536.9L828.0,536.1L838.4,535.7L848.9,535.7L859.4,536.0L869.8,536.3L880.3,536.5L890.8,536.5L901.2,536.6L911.7,537.4L922.2,538.9L932.6,541.1L943.1,543.5L953.6,545.8L964.0,548.2L974.5,550.7"/>
<path d="M580.7,518.8L598.7,524.0L616.8,528.6L634.8,532.6L652.9,534.7L670.9,533.2L681.4,532.7L691.9,532.2L702.3,533.3L712.8,534.6L723.3,535.5L733.7,536.2L744.2,536.8L754.7,537.5L765.1,538.1L775.6,538.5L786.1,538.5L796.5,538.0L807.0,537.4L817.5,536.8L828.0,536.4L838.4,536.2L848.9,536.5L859.4,536.9L869.8,537.4L880.3,537.5L890.8,537.4L901.2,537.4L911.7,537.9L922.2,539.1L932.6,541.0L943.1,543.1L953.6,545.2L964.0,547.4L974.5,549.6"/>
<path d="M580.7,518.1L598.7,523.4L616.8,528.3L634.8,532.6L652.9,534.9L670.9,533.2L681.4,532.6L691.9,532.1L702.3,533.2L712.8,534.7L723.3,535.8L733.7,536.7L744.2,537.4L754.7,538.1L765.1,538.7L775.6,538.9L786.1,538.6L796.5,538.0L807.0,537.1L817.5,536.1L828.0,535.4L838.4,535.0L848.9,535.0L859.4,535.3L869.8,535.7L880.3,535.8L890.8,535.9L901.2,536.0L911.7,536.8L922.2,538.3L932.6,540.4L943.1,542.8L953.6,545.2L964.0,547.6L974.5,550.0"/>
<path d="M580.7,518.4L598.7,524.5L616.8,529.8L634.8,533.9L652.9,535.4L670.9,533.2L681.4,532.4L691.9,531.5L702.3,532.6L712.8,534.2L723.3,535.6L733.7,536.9L744.2,538.0L754.7,539.0L765.1,539.8L775.6,540.1L786.1,539.9L796.5,539.2L807.0,538.1L817.5,537.0L828.0,536.0L838.4,535.3L848.9,535.0L859.4,535.1L869.8,535.2L880.3,535.2L890.8,535.2L901.2,535.4L911.7,536.1L922.2,537.7L932.6,540.0L943.1,542.6L953.6,545.2L964.0,547.9L974.5,550.5"/>
<path d="M580.7,511.4L598.7,517.1L616.8,522.5L634.8,527.2L652.9,530.7L670.9,533.2L681.4,529.5L691.9,525.4L702.3,521.1L712.8,516.9L723.3,512.8L733.7,508.6L744.2,504.4L754.7,500.3L765.1,496.4L775.6,493.1L786.1,490.7L796.5,488.9L807.0,487.4L817.5,485.8L828.0,484.7L838.4,484.6L848.9,485.2L859.4,486.5L869.8,488.3L880.3,490.2L890.8,492.1L901.2,493.6L911.7,494.5L922.2,494.5L932.6,493.8L943.1,492.2L953.6,489.7L964.0,486.5L974.5,482.9"/>
<path d="M580.7,507.4L598.7,513.8L616.8,520.0L634.8,525.9L652.9,530.3L670.9,533.2L681.4,529.3L691.9,525.0L702.3,520.6L712.8,516.2L723.3,511.9L733.7,507.6L744.2,503.2L754.7,499.0L765.1,495.0L775.6,491.6L786.1,489.2L796.5,487.4L807.0,486.0L817.5,484.5L828.0,483.4L838.4,483.3L848.9,484.0L859.4,485.3L869.8,487.2L880.3,489.0L890.8,490.9L901.2,492.4L911.7,493.2L922.2,493.2L932.6,492.1L943.1,489.9L953.6,486.1L964.0,481.3L974.5,475.7"/>
<path d="M580.7,585.8L598.7,575.1L616.8,563.5L634.8,551.0L652.9,540.6L670.9,533.2L681.4,534.9L691.9,536.7L702.3,538.4L712.8,539.8L723.3,540.9L733.7,541.9L744.2,542.7L754.7,543.5L765.1,544.2L775.6,544.6L786.1,544.4L796.5,543.8L807.0,543.0L817.5,542.2L828.0,541.5L838.4,541.2L848.9,541.3L859.4,541.6L869.8,542.0L880.3,542.2L890.8,542.2L901.2,542.4L911.7,543.1L922.2,544.6L932.6,546.7L943.1,548.9L953.6,551.2L964.0,553.5L974.5,555.8"/>
<path d="M580.7,587.3L598.7,576.8L616.8,565.1L634.8,552.3L652.9,541.3L670.9,533.2L681.4,535.6L691.9,538.0L702.3,540.3L712.8,542.0L723.3,543.2L733.7,544.1L744.2,544.8L754.7,545.7L765.1,546.5L775.6,546.9L786.1,546.7L796.5,546.0L807.0,545.0L817.5,544.0L828.0,543.2L838.4,542.9L848.9,543.0L859.4,543.3L869.8,543.7L880.3,544.0L890.8,544.0L901.2,544.3L911.7,545.2L922.2,546.9L932.6,549.1L943.1,551.6L953.6,554.1L964.0,556.6L974.5,559.2"/>
</g>
<polygon points="579.4,538.4 598.7,538.2 616.8,538.0 634.8,536.1 652.9,534.5 670.9,533.2 681.4,531.7 691.9,530.0 702.3,528.2 712.8,526.3 723.3,524.3 733.7,522.2 744.2,519.6 754.7,517.3 765.1,515.4 775.6,514.0 786.1,513.3 796.5,512.9 807.0,512.6 817.5,512.0 828.0,511.4 838.4,511.0 848.9,510.8 859.4,510.6 869.8,510.4 880.3,509.8 890.8,508.8 901.2,507.8 911.7,506.9 922.2,506.3 932.6,505.7 943.1,505.0 953.6,503.9 964.0,502.5 975.8,500.9 975.8,533.2 964.0,531.6 953.6,530.2 943.1,529.2 932.6,528.6 922.2,528.4 911.7,528.1 901.2,527.5 890.8,526.7 880.3,525.9 869.8,525.3 859.4,525.0 848.9,525.0 838.4,525.1 828.0,525.4 817.5,525.8 807.0,526.4 796.5,527.0 786.1,527.6 775.6,528.0 765.1,528.2 754.7,528.3 744.2,528.3 733.7,528.3 723.3,529.1 712.8,530.0 702.3,530.9 691.9,531.7 681.4,532.5 670.9,533.2 652.9,535.9 634.8,539.5 616.8,543.7 598.7,550.0 579.4,556.3" fill="#f00" stroke="none"/>
<g stroke="#f00" stroke-opacity="0.6">
<path d="M580.7,558.8L598.7,552.7L616.8,546.9L634.8,541.6L652.9,536.9L670.9,533.2L681.4,531.2L691.9,528.8L702.3,526.3L712.8,523.7L723.3,521.2L733.7,518.7L744.2,516.4L754.7,514.4L765.1,512.8L775.6,511.6L786.1,510.9L796.5,510.5L807.0,510.1L817.5,509.3L828.0,508.4L838.4,507.6L848.9,507.1L859.4,506.6L869.8,506.1L880.3,505.3L890.8,504.2L901.2,503.2L911.7,502.4L922.2,502.0L932.6,501.7L943.1,501.2L953.6,500.5L964.0,499.4L974.5,498.1"/>
<path d="M580.7,559.0L598.7,553.0L616.8,546.7L634.8,541.1L652.9,536.6L670.9,533.2L681.4,531.4L691.9,529.3L702.3,527.2L712.8,525.1L723.3,522.9L733.7,520.5L744.2,517.6L754.7,515.0L765.1,512.8L775.6,511.2L786.1,510.2L796.5,509.7L807.0,509.4L817.5,508.9L828.0,508.4L838.4,508.3L848.9,508.4L859.4,508.5L869.8,508.5L880.3,508.2L890.8,507.3L901.2,506.3L911.7,505.3L922.2,504.5L932.6,503.7L943.1,502.6L953.6,501.2L964.0,499.6L974.5,497.8"/>
<path d="M580.7,557.2L598.7,550.9L616.8,544.8L634.8,540.2L652.9,536.3L670.9,533.2L681.4,531.5L691.9,529.5L702.3,527.4L712.8,525.2L723.3,522.8L733.7,520.3L744.2,517.6L754.7,515.2L765.1,513.3L775.6,511.9L786.1,511.2L796.5,510.8L807.0,510.4L817.5,509.9L828.0,509.2L838.4,508.8L848.9,508.6L859.4,508.5L869.8,508.3L880.3,507.8L890.8,506.9L901.2,505.9L911.7,505.1L922.2,504.6L932.6,504.1L943.1,503.4L953.6,502.4L964.0,501.1L974.5,499.6"/>
<path d="M580.7,557.1L598.7,550.2L616.8,543.6L634.8,539.5L652.9,536.0L670.9,533.2L681.4,531.6L691.9,529.7L702.3,527.7L712.8,525.5L723.3,523.0L733.7,520.5L744.2,517.8L754.7,515.6L765.1,513.9L775.6,512.9L786.1,512.5L796.5,512.5L807.0,512.5L817.5,512.1L828.0,511.7L838.4,511.4L848.9,511.1L859.4,510.8L869.8,510.3L880.3,509.5L890.8,508.2L901.2,506.8L911.7,505.6L922.2,504.7L932.6,504.0L943.1,503.2L953.6,502.1L964.0,500.9L974.5,499.5"/>
<path d="M580.7,556.0L598.7,549.3L616.8,543.1L634.8,539.3L652.9,535.9L670.9,533.2L681.4,531.7L691.9,529.9L702.3,527.9L712.8,525.8L723.3,523.5L733.7,521.2L744.2,518.7L754.7,516.6L765.1,515.0L775.6,513.9L786.1,513.5L796.5,513.4L807.0,513.2L817.5,512.8L828.0,512.2L838.4,511.7L848.9,511.3L859.4,510.9L869.8,510.4L880.3,509.5L890.8,508.3L901.2,507.0L911.7,505.9L922.2,505.2L932.6,504.6L943.1,503.9L953.6,503.0L964.0,501.8L974.5,500.5"/>
<path d="M580.7,555.0L598.7,548.2L616.8,542.0L634.8,538.8L652.9,535.8L670.9,533.2L681.4,531.7L691.9,530.0L702.3,528.0L712.8,525.9L723.3,523.5L733.7,521.2L744.2,518.7L754.7,516.8L765.1,515.3L775.6,514.5L786.1,514.3L796.5,514.3L807.0,514.3L817.5,513.9L828.0,513.4L838.4,512.9L848.9,512.4L859.4,511.9L869.8,511.2L880.3,510.1L890.8,508.7L901.2,507.2L911.7,506.0L922.2,505.1L932.6,504.5L943.1,503.8L953.6,502.9L964.0,501.8L974.5,500.7"/>
<path d="M580.7,556.8L598.7,550.1L616.8,543.2L634.8,539.0L652.9,535.7L670.9,533.2L681.4,531.8L691.9,530.4L702.3,528.9L712.8,527.4L723.3,525.9L733.7,524.2L744.2,521.4L754.7,518.9L765.1,516.7L775.6,515.1L786.1,514.1L796.5,513.4L807.0,512.8L817.5,511.9L828.0,511.0L838.4,510.4L848.9,510.1L859.4,509.9L869.8,509.6L880.3,509.1L890.8,508.3L901.2,507.4L911.7,506.8L922.2,506.5L932.6,506.2L943.1,505.8L953.6,505.0L964.0,503.9L974.5,502.6"/>
<path d="M580.7,556.4L598.7,549.8L616.8,543.0L634.8,538.8L652.9,535.6L670.9,533.2L681.4,531.9L691.9,530.4L702.3,528.9L712.8,527.4L723.3,525.9L733.7,524.1L744.2,521.3L754.7,518.7L765.1,516.5L775.6,514.9L786.1,513.9L796.5,513.3L807.0,512.8L817.5,512.0L828.0,511.3L838.4,510.9L848.9,510.7L859.4,510.7L869.8,510.7L880.3,510.3L890.8,509.6L901.2,508.9L911.7,508.3L922.2,507.9L932.6,507.6L943.1,507.0L953.6,506.0L964.0,504.7L974.5,503.1"/>
<path d="M580.7,554.3L598.7,547.7L616.8,541.5L634.8,538.3L652.9,535.5L670.9,533.2L681.4,531.9L691.9,530.4L702.3,528.7L712.8,526.9L723.3,525.0L733.7,523.0L744.2,520.4L754.7,518.2L765.1,516.5L775.6,515.4L786.1,514.9L796.5,514.8L807.0,514.7L817.5,514.3L828.0,513.7L838.4,513.4L848.9,513.1L859.4,512.8L869.8,512.4L880.3,511.6L890.8,510.4L901.2,509.1L911.7,508.0L922.2,507.2L932.6,506.5L943.1,505.7L953.6,504.5L964.0,503.2L974.5,501.8"/>
<path d="M580.7,553.9L598.7,548.2L616.8,542.3L634.8,538.7L652.9,535.5L670.9,533.2L681.4,531.9L691.9,530.5L702.3,529.1L712.8,527.6L723.3,526.3L733.7,524.9L744.2,522.5L754.7,520.2L765.1,518.3L775.6,516.8L786.1,515.9L796.5,515.2L807.0,514.5L817.5,513.6L828.0,512.7L838.4,512.0L848.9,511.6L859.4,511.4L869.8,511.2L880.3,510.7L890.8,510.0L901.2,509.2L911.7,508.7L922.2,508.4L932.6,508.2L943.1,507.7L953.6,506.7L964.0,505.4L974.5,503.9"/>
<path d="M580.7,534.8L598.7,535.3L616.8,535.5L634.8,534.6L652.9,533.7L670.9,533.2L681.4,533.0L691.9,532.7L702.3,532.4L712.8,532.2L723.3,532.2L733.7,532.4L744.2,532.7L754.7,532.9L765.1,532.9L775.6,532.6L786.1,532.0L796.5,531.2L807.0,530.2L817.5,529.3L828.0,528.5L838.4,527.8L848.9,527.4L859.4,527.2L869.8,527.3L880.3,527.8L890.8,528.6L901.2,529.6L911.7,530.4L922.2,531.0L932.6,531.6L943.1,532.5L953.6,533.9L964.0,535.7L974.5,537.6"/>
<path d="M580.7,537.4L598.7,537.2L616.8,536.8L634.8,535.2L652.9,534.0L670.9,533.2L681.4,532.8L691.9,532.3L702.3,531.7L712.8,531.2L723.3,530.6L733.7,530.1L744.2,530.2L754.7,530.3L765.1,530.4L775.6,530.3L786.1,530.0L796.5,529.5L807.0,529.0L817.5,528.5L828.0,528.2L838.4,528.0L848.9,528.0L859.4,528.2L869.8,528.5L880.3,529.1L890.8,530.0L901.2,530.9L911.7,531.5L922.2,531.8L932.6,532.0L943.1,532.6L953.6,533.6L964.0,535.0L974.5,536.5"/>
<path d="M580.7,537.7L598.7,537.5L616.8,537.1L634.8,535.3L652.9,534.1L670.9,533.2L681.4,532.7L691.9,532.2L702.3,531.7L712.8,531.3L723.3,530.9L733.7,530.6L744.2,530.6L754.7,530.5L765.1,530.3L775.6,530.0L786.1,529.4L796.5,528.6L807.0,527.8L817.5,527.0L828.0,526.4L838.4,526.0L848.9,525.8L859.4,525.8L869.8,526.0L880.3,526.6L890.8,527.5L901.2,528.4L911.7,529.1L922.2,529.6L932.6,530.0L943.1,530.7L953.6,532.0L964.0,533.5L974.5,535.3"/>
<path d="M580.7,539.2L598.7,539.0L616.8,538.5L634.8,536.1L652.9,534.3L670.9,533.2L681.4,532.6L691.9,531.9L702.3,531.2L712.8,530.4L723.3,529.7L733.7,529.2L744.2,529.4L754.7,529.6L765.1,529.7L775.6,529.7L786.1,529.4L796.5,528.9L807.0,528.4L817.5,527.9L828.0,527.5L838.4,527.3L848.9,527.2L859.4,527.3L869.8,527.6L880.3,528.1L890.8,528.8L901.2,529.6L911.7,530.1L922.2,530.3L932.6,530.4L943.1,530.8L953.6,531.7L964.0,532.9L974.5,534.4"/>
<path d="M580.7,538.0L598.7,537.6L616.8,537.4L634.8,535.8L652.9,534.4L670.9,533.2L681.4,532.5L691.9,531.8L702.3,531.1L712.8,530.3L723.3,529.6L733.7,528.9L744.2,528.8L754.7,528.7L765.1,528.6L775.6,528.3L786.1,527.8L796.5,527.1L807.0,526.4L817.5,525.8L828.0,525.2L838.4,524.9L848.9,524.7L859.4,524.7L869.8,525.0L880.3,525.5L890.8,526.3L901.2,527.1L911.7,527.7L922.2,528.0L932.6,528.3L943.1,528.9L953.6,530.0L964.0,531.4L974.5,533.1"/>
<path d="M580.7,537.1L598.7,537.0L616.8,537.5L634.8,536.1L652.9,534.5L670.9,533.2L681.4,532.4L691.9,531.5L702.3,530.4L712.8,529.2L723.3,527.9L733.7,526.8L744.2,527.0L754.7,527.3L765.1,527.6L775.6,527.8L786.1,527.8L796.5,527.6L807.0,527.3L817.5,527.0L828.0,526.7L838.4,526.4L848.9,526.3L859.4,526.2L869.8,526.2L880.3,526.5L890.8,526.9L901.2,527.4L911.7,527.5L922.2,527.4L932.6,527.3L943.1,527.6L953.6,528.4L964.0,529.7L974.5,531.4"/>
<path d="M580.7,538.5L598.7,537.9L616.8,537.9L634.8,536.3L652.9,534.6L670.9,533.2L681.4,532.4L691.9,531.4L702.3,530.3L712.8,529.2L723.3,527.9L733.7,527.0L744.2,527.2L754.7,527.5L765.1,527.8L775.6,527.9L786.1,527.7L796.5,527.3L807.0,526.7L817.5,526.0L828.0,525.5L838.4,524.9L848.9,524.5L859.4,524.3L869.8,524.3L880.3,524.5L890.8,525.1L901.2,525.9L911.7,526.4L922.2,526.8L932.6,527.2L943.1,528.0L953.6,529.4L964.0,531.1L974.5,533.0"/>
<path d="M580.7,538.9L598.7,538.6L616.8,538.6L634.8,536.6L652.9,534.7L670.9,533.2L681.4,532.3L691.9,531.4L702.3,530.4L712.8,529.3L723.3,528.2L733.7,527.2L744.2,527.1L754.7,526.9L765.1,526.8L775.6,526.5L786.1,525.9L796.5,525.3L807.0,524.5L817.5,523.9L828.0,523.4L838.4,523.0L848.9,522.9L859.4,522.9L869.8,523.2L880.3,523.8L890.8,524.6L901.2,525.5L911.7,526.1L922.2,526.5L932.6,526.8L943.1,527.4L953.6,528.5L964.0,530.1L974.5,531.8"/>
<path d="M580.7,539.3L598.7,539.0L616.8,539.0L634.8,536.8L652.9,534.8L670.9,533.2L681.4,532.3L691.9,531.3L702.3,530.1L712.8,528.9L723.3,527.6L733.7,526.4L744.2,526.3L754.7,526.3L765.1,526.2L775.6,526.0L786.1,525.6L796.5,525.1L807.0,524.5L817.5,524.1L828.0,523.7L838.4,523.6L848.9,523.6L859.4,523.8L869.8,524.2L880.3,524.8L890.8,525.7L901.2,526.6L911.7,527.2L922.2,527.5L932.6,527.8L943.1,528.3L953.6,529.2L964.0,530.6L974.5,532.1"/>
<path d="M580.7,541.7L598.7,541.3L616.8,540.5L634.8,537.3L652.9,534.9L670.9,533.2L681.4,532.3L691.9,531.3L702.3,530.3L712.8,529.4L723.3,528.5L733.7,527.7L744.2,527.7L754.7,527.5L765.1,527.2L775.6,526.7L786.1,525.9L796.5,525.0L807.0,524.1L817.5,523.2L828.0,522.5L838.4,522.0L848.9,521.7L859.4,521.7L869.8,522.0L880.3,522.6L890.8,523.5L901.2,524.6L911.7,525.4L922.2,525.9L932.6,526.5L943.1,527.3L953.6,528.7L964.0,530.4L974.5,532.3"/>
<path d="M580.7,533.5L598.7,533.3L616.8,533.2L634.8,533.2L652.9,533.2L670.9,533.2L681.4,531.0L691.9,528.5L702.3,525.8L712.8,523.0L723.3,520.1L733.7,517.2L744.2,514.5L754.7,512.2L765.1,510.2L775.6,508.9L786.1,508.1L796.5,507.7L807.0,507.4L817.5,506.8L828.0,506.2L838.4,505.8L848.9,505.5L859.4,505.4L869.8,505.2L880.3,504.7L890.8,503.8L901.2,502.8L911.7,501.9L922.2,501.3L932.6,500.8L943.1,500.0L953.6,498.9L964.0,497.5L974.5,495.9"/>
<path d="M580.7,533.3L598.7,533.2L616.8,533.1L634.8,533.2L652.9,533.2L670.9,533.2L681.4,530.9L691.9,528.4L702.3,525.7L712.8,522.9L723.3,520.0L733.7,517.0L744.2,514.3L754.7,511.8L765.1,509.8L775.6,508.3L786.1,507.4L796.5,507.0L807.0,506.5L817.5,505.9L828.0,505.2L838.4,504.7L848.9,504.5L859.4,504.5L869.8,504.4L880.3,504.0L890.8,503.3L901.2,502.5L911.7,501.7L922.2,501.2L932.6,500.6L943.1,499.8L953.6,498.7L964.0,497.3L974.5,495.8"/>
<path d="M580.7,533.1L598.7,533.1L616.8,533.1L634.8,533.2L652.9,533.2L670.9,533.2L681.4,530.9L691.9,528.3L702.3,525.4L712.8,522.5L723.3,519.4L733.7,516.2L744.2,513.2L754.7,510.5L765.1,508.2L775.6,506.5L786.1,505.6L796.5,505.1L807.0,504.8L817.5,504.2L828.0,503.6L838.4,503.2L848.9,503.1L859.4,503.2L869.8,503.3L880.3,503.2L890.8,502.7L901.2,502.1L911.7,501.5L922.2,500.9L932.6,500.2L943.1,499.4L953.6,498.2L964.0,496.8L974.5,495.3"/>
<path d="M580.7,532.8L598.7,533.0L616.8,533.1L634.8,533.2L652.9,533.2L670.9,533.2L681.4,530.8L691.9,528.0L702.3,525.0L712.8,521.7L723.3,518.2L733.7,514.5L744.2,510.9L754.7,507.5L765.1,504.7L775.6,502.6L786.1,501.7L796.5,501.4L807.0,501.3L817.5,501.0L828.0,500.6L838.4,500.6L848.9,500.9L859.4,501.5L869.8,502.0L880.3,502.2L890.8,502.1L901.2,501.7L911.7,501.2L922.2,500.6L932.6,499.8L943.1,498.9L953.6,497.6L964.0,496.1L974.5,494.4"/>
<path d="M580.7,532.1L598.7,532.5L616.8,532.9L634.8,533.1L652.9,533.2L670.9,533.2L681.4,530.6L691.9,527.7L702.3,524.4L712.8,521.0L723.3,517.4L733.7,513.5L744.2,509.8L754.7,506.2L765.1,503.2L775.6,500.9L786.1,499.8L796.5,499.3L807.0,499.0L817.5,498.4L828.0,497.8L838.4,497.4L848.9,497.6L859.4,498.1L869.8,498.8L880.3,499.5L890.8,500.0L901.2,500.3L911.7,500.1L922.2,499.6L932.6,498.6L943.1,497.5L953.6,496.1L964.0,494.6L974.5,493.1"/>
<path d="M580.7,561.4L598.7,555.0L616.8,548.6L634.8,542.4L652.9,537.2L670.9,533.2L681.4,533.2L691.9,533.2L702.3,533.2L712.8,533.2L723.3,533.2L733.7,533.2L744.2,533.2L754.7,533.2L765.1,533.1L775.6,532.9L786.1,532.5L796.5,531.9L807.0,531.3L817.5,530.7L828.0,530.3L838.4,530.0L848.9,529.9L859.4,530.0L869.8,530.2L880.3,530.8L890.8,531.6L901.2,532.4L911.7,533.0L922.2,533.3L932.6,533.6L943.1,534.2L953.6,535.3L964.0,536.7L974.5,538.4"/>
<path d="M580.7,562.2L598.7,555.6L616.8,549.1L634.8,542.7L652.9,537.4L670.9,533.2L681.4,533.2L691.9,533.2L702.3,533.2L712.8,533.2L723.3,533.2L733.7,533.2L744.2,533.2L754.7,533.2L765.1,533.1L775.6,533.0L786.1,532.6L796.5,532.1L807.0,531.5L817.5,530.9L828.0,530.5L838.4,530.2L848.9,530.1L859.4,530.2L869.8,530.5L880.3,531.0L890.8,531.7L901.2,532.5L911.7,533.0L922.2,533.4L932.6,533.8L943.1,534.6L953.6,535.8L964.0,537.4L974.5,539.2"/>
<path d="M580.7,562.5L598.7,555.9L616.8,549.3L634.8,543.0L652.9,537.5L670.9,533.2L681.4,533.2L691.9,533.2L702.3,533.2L712.8,533.2L723.3,533.2L733.7,533.2L744.2,533.2L754.7,533.2L765.1,533.1L775.6,533.0L786.1,532.6L796.5,532.1L807.0,531.6L817.5,531.1L828.0,530.6L838.4,530.4L848.9,530.3L859.4,530.5L869.8,530.8L880.3,531.3L890.8,531.9L901.2,532.6L911.7,533.1L922.2,533.6L932.6,534.1L943.1,535.0L953.6,536.3L964.0,538.0L974.5,539.8"/>
<path d="M580.7,564.4L598.7,557.1L616.8,550.1L634.8,543.5L652.9,537.8L670.9,533.2L681.4,533.2L691.9,533.2L702.3,533.2L712.8,533.2L723.3,533.2L733.7,533.2L744.2,533.2L754.7,533.2L765.1,533.2L775.6,533.1L786.1,532.8L796.5,532.4L807.0,532.0L817.5,531.5L828.0,531.1L838.4,530.8L848.9,530.8L859.4,531.0L869.8,531.4L880.3,531.8L890.8,532.2L901.2,532.7L911.7,533.2L922.2,533.9L932.6,534.7L943.1,535.8L953.6,537.4L964.0,539.5L974.5,541.8"/>
<path d="M580.7,567.0L598.7,559.1L616.8,551.5L634.8,544.3L652.9,538.2L670.9,533.2L681.4,533.2L691.9,533.2L702.3,533.2L712.8,533.2L723.3,533.2L733.7,533.2L744.2,533.2L754.7,533.2L765.1,533.2L775.6,533.2L786.1,533.1L796.5,532.9L807.0,532.6L817.5,532.1L828.0,531.6L838.4,531.3L848.9,531.3L859.4,531.5L869.8,531.9L880.3,532.2L890.8,532.5L901.2,532.8L911.7,533.4L922.2,534.2L932.6,535.5L943.1,537.2L953.6,539.5L964.0,542.3L974.5,545.3"/>
</g>
</g>
<rect x="562.2" y="384.0" width="432.3" height="260.0" fill="none" stroke="#000" stroke-width="1.6"/>
<path d="M629.9,644.0v6.6M711.9,644.0v6.6M794.0,644.0v6.6M876.0,644.0v6.6M958.1,644.0v6.6M562.2,612.8h-6.6M562.2,573.0h-6.6M562.2,533.2h-6.6M562.2,493.4h-6.6M562.2,453.6h-6.6M562.2,413.8h-6.6" stroke="#000" stroke-width="1.4" fill="none"/>
<g font-size="17.9px" letter-spacing="0" filter="url(#soft)">
<g text-anchor="middle">
<text transform="translate(630.3,668.7) scale(1.0,1)" font-size="16.5px">0.5</text>
<text transform="translate(712.3,668.7) scale(1.0,1)" font-size="16.5px">0.6</text>
<text transform="translate(794.4,668.7) scale(1.0,1)" font-size="16.5px">0.7</text>
<text transform="translate(876.4,668.7) scale(1.0,1)" font-size="16.5px">0.8</text>
<text transform="translate(958.5,668.7) scale(1.0,1)" font-size="16.5px">0.9</text>
<text transform="translate(778.4,689.6) scale(1.0,1)">Wavelength</text>
</g>
<g text-anchor="end">
<text transform="translate(547.0,619.9) scale(1.0,1)" font-size="16.5px">0.6</text>
<text transform="translate(547.0,580.2) scale(1.0,1)" font-size="16.5px">0.8</text>
<text transform="translate(547.0,540.4) scale(1.0,1)" font-size="16.5px">1.0</text>
<text transform="translate(547.0,500.1) scale(1.0,1)" font-size="16.5px">1.2</text>
<text transform="translate(547.0,459.9) scale(1.0,1)" font-size="16.5px">1.4</text>
<text transform="translate(547.0,419.5) scale(1.0,1)" font-size="16.5px">1.6</text>
</g>
<text transform="translate(512.8,514.0) rotate(-90) scale(1.0,1)" text-anchor="middle">Normalized Reflectance</text>
<rect x="571.0" y="392.7" width="198.8" height="59" rx="3" ry="3" fill="#fff" fill-opacity="0.8" stroke="#ccc" stroke-opacity="0.8" stroke-width="1.4"/>
<path d="M575.9,406.4h38.3" stroke="#00f" stroke-opacity="0.6" stroke-width="2.3" fill="none"/>
<path d="M575.9,433.5h38.3" stroke="#f00" stroke-opacity="0.6" stroke-width="2.3" fill="none"/>
<text transform="translate(627.2,412.4) scale(1.0,1)">Expanded data</text>
<text transform="translate(627.2,439.4) scale(1.0,1)">Raw data</text>
<text transform="translate(778.0,378.8) scale(1.0,1)" text-anchor="middle" font-size="21.5px" xml:space="preserve" style="white-space:pre">X  177→2000</text>
</g>
</g>
</svg>
</body></html>
